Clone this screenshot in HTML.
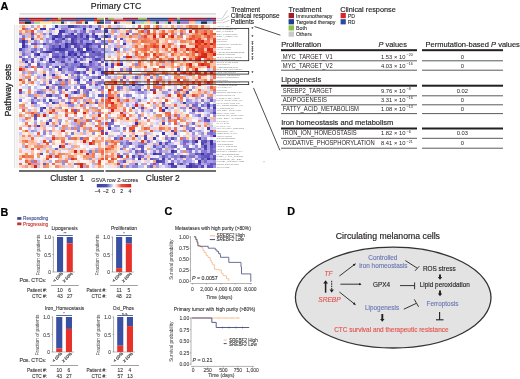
<!DOCTYPE html>
<html><head><meta charset="utf-8"><title>Figure</title>
<style>
html,body{margin:0;padding:0;background:#fff;}
body{width:520px;height:379px;overflow:hidden;}
svg{display:block;font-family:'Liberation Sans',Arial,Helvetica,sans-serif}
</style></head><body>
<svg width="520" height="379" viewBox="0 0 520 379">
<rect width="520" height="379" fill="#fff"/>
<text x="0.5" y="9.5" font-size="11.0" fill="#000" font-weight="bold" stroke="#000" stroke-width="0.22">A</text>
<text x="90.8" y="9.2" font-size="8.75" fill="#222" stroke="#222" stroke-width="0.175">Primary CTC</text>
<text transform="translate(10.7,116.5) rotate(-90)" font-size="8.8" fill="#222" stroke="#222" stroke-width="0.26">Pathway sets</text>
<rect x="19.5" y="13.3" width="196.5" height="1.2" fill="#cecece"/>
<rect x="19" y="15.6" width="197" height="2" fill="#f4f1ee"/>
<rect x="14.2" y="25" width="1" height="143" fill="#dcdcdc"/>
<rect x="16.2" y="25" width="2.2" height="143" fill="#eeeeee"/>
<g><rect x="19" y="17.8" width="6.05" height="1.8" fill="#a51c2a"/>
<rect x="25" y="17.8" width="3.05" height="1.8" fill="#243f86"/>
<rect x="28" y="17.8" width="3.05" height="1.8" fill="#a51c2a"/>
<rect x="31" y="17.8" width="9.05" height="1.8" fill="#a51c2a"/>
<rect x="40" y="17.8" width="6.05" height="1.8" fill="#a51c2a"/>
<rect x="46" y="17.8" width="6.05" height="1.8" fill="#243f86"/>
<rect x="52" y="17.8" width="6.05" height="1.8" fill="#a51c2a"/>
<rect x="58" y="17.8" width="3.05" height="1.8" fill="#9cc24e"/>
<rect x="61" y="17.8" width="9.05" height="1.8" fill="#a51c2a"/>
<rect x="70" y="17.8" width="6.05" height="1.8" fill="#a51c2a"/>
<rect x="76" y="17.8" width="9.05" height="1.8" fill="#243f86"/>
<rect x="85" y="17.8" width="9.05" height="1.8" fill="#243f86"/>
<rect x="94" y="17.8" width="3.05" height="1.8" fill="#a51c2a"/>
<rect x="97" y="17.8" width="7.05" height="1.8" fill="#9cc24e"/>
<rect x="105" y="17.8" width="3.05" height="1.8" fill="#a51c2a"/>
<rect x="108" y="17.8" width="6.05" height="1.8" fill="#9cc24e"/>
<rect x="114" y="17.8" width="9.05" height="1.8" fill="#c8c8c8"/>
<rect x="123" y="17.8" width="9.05" height="1.8" fill="#a51c2a"/>
<rect x="132" y="17.8" width="6.05" height="1.8" fill="#a51c2a"/>
<rect x="138" y="17.8" width="9.05" height="1.8" fill="#9cc24e"/>
<rect x="147" y="17.8" width="6.05" height="1.8" fill="#243f86"/>
<rect x="153" y="17.8" width="6.05" height="1.8" fill="#243f86"/>
<rect x="159" y="17.8" width="9.05" height="1.8" fill="#243f86"/>
<rect x="168" y="17.8" width="9.05" height="1.8" fill="#a51c2a"/>
<rect x="177" y="17.8" width="3.05" height="1.8" fill="#9cc24e"/>
<rect x="180" y="17.8" width="6.05" height="1.8" fill="#a51c2a"/>
<rect x="186" y="17.8" width="9.05" height="1.8" fill="#a51c2a"/>
<rect x="195" y="17.8" width="3.05" height="1.8" fill="#a51c2a"/>
<rect x="198" y="17.8" width="9.05" height="1.8" fill="#a51c2a"/>
<rect x="207" y="17.8" width="3.05" height="1.8" fill="#243f86"/>
<rect x="210" y="17.8" width="6.05" height="1.8" fill="#a51c2a"/>
<rect x="19" y="19.6" width="6.05" height="1.9" fill="#3d4ba0"/>
<rect x="25" y="19.6" width="3.05" height="1.9" fill="#3d4ba0"/>
<rect x="28" y="19.6" width="3.05" height="1.9" fill="#3d4ba0"/>
<rect x="31" y="19.6" width="3.05" height="1.9" fill="#d8262c"/>
<rect x="34" y="19.6" width="6.05" height="1.9" fill="#d8262c"/>
<rect x="40" y="19.6" width="3.05" height="1.9" fill="#d8262c"/>
<rect x="43" y="19.6" width="6.05" height="1.9" fill="#3d4ba0"/>
<rect x="49" y="19.6" width="3.05" height="1.9" fill="#d8262c"/>
<rect x="52" y="19.6" width="3.05" height="1.9" fill="#d8262c"/>
<rect x="55" y="19.6" width="3.05" height="1.9" fill="#d8262c"/>
<rect x="58" y="19.6" width="3.05" height="1.9" fill="#d8262c"/>
<rect x="61" y="19.6" width="6.05" height="1.9" fill="#3d4ba0"/>
<rect x="67" y="19.6" width="3.05" height="1.9" fill="#3d4ba0"/>
<rect x="70" y="19.6" width="6.05" height="1.9" fill="#3d4ba0"/>
<rect x="76" y="19.6" width="3.05" height="1.9" fill="#3d4ba0"/>
<rect x="79" y="19.6" width="6.05" height="1.9" fill="#d8262c"/>
<rect x="85" y="19.6" width="3.05" height="1.9" fill="#3d4ba0"/>
<rect x="88" y="19.6" width="6.05" height="1.9" fill="#3d4ba0"/>
<rect x="94" y="19.6" width="6.05" height="1.9" fill="#d8262c"/>
<rect x="100" y="19.6" width="4.05" height="1.9" fill="#3d4ba0"/>
<rect x="105" y="19.6" width="6.05" height="1.9" fill="#3d4ba0"/>
<rect x="111" y="19.6" width="6.05" height="1.9" fill="#d8262c"/>
<rect x="117" y="19.6" width="3.05" height="1.9" fill="#d8262c"/>
<rect x="120" y="19.6" width="3.05" height="1.9" fill="#d8262c"/>
<rect x="123" y="19.6" width="3.05" height="1.9" fill="#d8262c"/>
<rect x="126" y="19.6" width="3.05" height="1.9" fill="#3d4ba0"/>
<rect x="129" y="19.6" width="3.05" height="1.9" fill="#3d4ba0"/>
<rect x="132" y="19.6" width="3.05" height="1.9" fill="#3d4ba0"/>
<rect x="135" y="19.6" width="3.05" height="1.9" fill="#3d4ba0"/>
<rect x="138" y="19.6" width="6.05" height="1.9" fill="#3d4ba0"/>
<rect x="144" y="19.6" width="3.05" height="1.9" fill="#3d4ba0"/>
<rect x="147" y="19.6" width="3.05" height="1.9" fill="#d8262c"/>
<rect x="150" y="19.6" width="3.05" height="1.9" fill="#3d4ba0"/>
<rect x="153" y="19.6" width="6.05" height="1.9" fill="#3d4ba0"/>
<rect x="159" y="19.6" width="3.05" height="1.9" fill="#3d4ba0"/>
<rect x="162" y="19.6" width="6.05" height="1.9" fill="#3d4ba0"/>
<rect x="168" y="19.6" width="6.05" height="1.9" fill="#d8262c"/>
<rect x="174" y="19.6" width="3.05" height="1.9" fill="#3d4ba0"/>
<rect x="177" y="19.6" width="6.05" height="1.9" fill="#3d4ba0"/>
<rect x="183" y="19.6" width="6.05" height="1.9" fill="#3d4ba0"/>
<rect x="189" y="19.6" width="6.05" height="1.9" fill="#d8262c"/>
<rect x="195" y="19.6" width="3.05" height="1.9" fill="#3d4ba0"/>
<rect x="198" y="19.6" width="6.05" height="1.9" fill="#3d4ba0"/>
<rect x="204" y="19.6" width="3.05" height="1.9" fill="#3d4ba0"/>
<rect x="207" y="19.6" width="6.05" height="1.9" fill="#3d4ba0"/>
<rect x="213" y="19.6" width="3.05" height="1.9" fill="#3d4ba0"/>
<rect x="19" y="21.5" width="6.05" height="2.4" fill="#c86060"/>
<rect x="25" y="21.5" width="3.05" height="2.4" fill="#3a2020"/>
<rect x="28" y="21.5" width="3.05" height="2.4" fill="#203050"/>
<rect x="31" y="21.5" width="3.05" height="2.4" fill="#9a80c0"/>
<rect x="34" y="21.5" width="6.05" height="2.4" fill="#a0d890"/>
<rect x="40" y="21.5" width="6.05" height="2.4" fill="#fee8a0"/>
<rect x="46" y="21.5" width="6.05" height="2.4" fill="#fee8a0"/>
<rect x="52" y="21.5" width="3.05" height="2.4" fill="#a6cee3"/>
<rect x="55" y="21.5" width="6.05" height="2.4" fill="#c7e9a0"/>
<rect x="61" y="21.5" width="3.05" height="2.4" fill="#2a4a4a"/>
<rect x="64" y="21.5" width="3.05" height="2.4" fill="#f7c4b0"/>
<rect x="67" y="21.5" width="3.05" height="2.4" fill="#ffffff"/>
<rect x="70" y="21.5" width="6.05" height="2.4" fill="#fdd0a0"/>
<rect x="76" y="21.5" width="6.05" height="2.4" fill="#c86060"/>
<rect x="82" y="21.5" width="3.05" height="2.4" fill="#c7e9a0"/>
<rect x="85" y="21.5" width="3.05" height="2.4" fill="#203050"/>
<rect x="88" y="21.5" width="6.05" height="2.4" fill="#ffffff"/>
<rect x="94" y="21.5" width="3.05" height="2.4" fill="#fdd0a0"/>
<rect x="97" y="21.5" width="3.05" height="2.4" fill="#5a3a20"/>
<rect x="100" y="21.5" width="4.05" height="2.4" fill="#2a4a4a"/>
<rect x="105" y="21.5" width="6.05" height="2.4" fill="#9a80c0"/>
<rect x="111" y="21.5" width="3.05" height="2.4" fill="#ffffff"/>
<rect x="114" y="21.5" width="3.05" height="2.4" fill="#3a2020"/>
<rect x="117" y="21.5" width="3.05" height="2.4" fill="#9a80c0"/>
<rect x="120" y="21.5" width="6.05" height="2.4" fill="#e0e0e0"/>
<rect x="126" y="21.5" width="6.05" height="2.4" fill="#fdd0a0"/>
<rect x="132" y="21.5" width="3.05" height="2.4" fill="#203050"/>
<rect x="135" y="21.5" width="6.05" height="2.4" fill="#a6cee3"/>
<rect x="141" y="21.5" width="3.05" height="2.4" fill="#a0d890"/>
<rect x="144" y="21.5" width="3.05" height="2.4" fill="#c7e9a0"/>
<rect x="147" y="21.5" width="3.05" height="2.4" fill="#fdd0a0"/>
<rect x="150" y="21.5" width="3.05" height="2.4" fill="#d5c3e6"/>
<rect x="153" y="21.5" width="3.05" height="2.4" fill="#a0d890"/>
<rect x="156" y="21.5" width="3.05" height="2.4" fill="#2a4a4a"/>
<rect x="159" y="21.5" width="6.05" height="2.4" fill="#d5c3e6"/>
<rect x="165" y="21.5" width="3.05" height="2.4" fill="#a0d890"/>
<rect x="168" y="21.5" width="3.05" height="2.4" fill="#203050"/>
<rect x="171" y="21.5" width="6.05" height="2.4" fill="#d5c3e6"/>
<rect x="177" y="21.5" width="3.05" height="2.4" fill="#2a4a4a"/>
<rect x="180" y="21.5" width="6.05" height="2.4" fill="#9a80c0"/>
<rect x="186" y="21.5" width="3.05" height="2.4" fill="#9a80c0"/>
<rect x="189" y="21.5" width="3.05" height="2.4" fill="#f7c4b0"/>
<rect x="192" y="21.5" width="3.05" height="2.4" fill="#fdd0a0"/>
<rect x="195" y="21.5" width="6.05" height="2.4" fill="#a6cee3"/>
<rect x="201" y="21.5" width="6.05" height="2.4" fill="#203050"/>
<rect x="207" y="21.5" width="3.05" height="2.4" fill="#a6cee3"/>
<rect x="210" y="21.5" width="3.05" height="2.4" fill="#b8d8ea"/>
<rect x="213" y="21.5" width="3.05" height="2.4" fill="#c86060"/></g>
<defs><filter id="bl" x="-2%" y="-2%" width="104%" height="104%"><feGaussianBlur stdDeviation="0.7"/></filter></defs>
<g filter="url(#bl)"><g shape-rendering="crispEdges"><path fill="#fcd8cc" d="M19 25h3.09v2.6h-3.09zM25.07 25h3.09v2.6h-3.09zM105 25h3.05v2.6h-3.05zM165 25h3.05v2.6h-3.05zM150 27.55h3.05v2.6h-3.05zM159 27.55h3.05v2.6h-3.05zM171 27.55h3.05v2.6h-3.05zM46.32 30.11h3.09v2.6h-3.09zM85.79 30.11h3.09v2.6h-3.09zM165 30.11h3.05v2.6h-3.05zM37.21 37.77h3.09v2.6h-3.09zM174 42.88h3.05v2.6h-3.05zM183 42.88h3.05v2.6h-3.05zM171 45.43h3.05v2.6h-3.05zM189 45.43h3.05v2.6h-3.05zM150 47.98h3.05v2.6h-3.05zM111 58.2h3.05v2.6h-3.05zM135 58.2h3.05v2.6h-3.05zM34.18 60.75h3.09v2.6h-3.09zM180 60.75h3.05v2.6h-3.05zM186 60.75h3.05v2.6h-3.05zM100.96 63.3h3.09v2.6h-3.09zM132 65.86h3.05v2.6h-3.05zM150 65.86h3.05v2.6h-3.05zM165 65.86h3.05v2.6h-3.05zM162 68.41h3.05v2.6h-3.05zM40.25 70.96h3.09v2.6h-3.09zM19 76.07h3.09v2.6h-3.09zM126 76.07h3.05v2.6h-3.05zM129 76.07h3.05v2.6h-3.05zM195 76.07h3.05v2.6h-3.05zM40.25 78.62h3.09v2.6h-3.09zM46.32 78.62h3.09v2.6h-3.09zM213 78.62h3.05v2.6h-3.05zM19 81.18h3.09v2.6h-3.09zM46.32 81.18h3.09v2.6h-3.09zM73.64 81.18h3.09v2.6h-3.09zM159 81.18h3.05v2.6h-3.05zM31.14 83.73h3.09v2.6h-3.09zM177 83.73h3.05v2.6h-3.05zM201 83.73h3.05v2.6h-3.05zM114 86.29h3.05v2.6h-3.05zM94.89 88.84h3.09v2.6h-3.09zM123 88.84h3.05v2.6h-3.05zM171 88.84h3.05v2.6h-3.05zM111 91.39h3.05v2.6h-3.05zM210 91.39h3.05v2.6h-3.05zM64.54 96.5h3.09v2.6h-3.09zM82.75 96.5h3.09v2.6h-3.09zM120 96.5h3.05v2.6h-3.05zM159 96.5h3.05v2.6h-3.05zM58.46 99.05h3.09v2.6h-3.09zM70.61 99.05h3.09v2.6h-3.09zM97.93 99.05h3.09v2.6h-3.09zM111 99.05h3.05v2.6h-3.05zM85.79 104.16h3.09v2.6h-3.09zM159 104.16h3.05v2.6h-3.05zM180 104.16h3.05v2.6h-3.05zM73.64 106.71h3.09v2.6h-3.09zM25.07 109.27h3.09v2.6h-3.09zM58.46 109.27h3.09v2.6h-3.09zM132 109.27h3.05v2.6h-3.05zM177 111.82h3.05v2.6h-3.05zM198 111.82h3.05v2.6h-3.05zM147 114.38h3.05v2.6h-3.05zM141 119.48h3.05v2.6h-3.05zM189 119.48h3.05v2.6h-3.05zM120 122.04h3.05v2.6h-3.05zM147 124.59h3.05v2.6h-3.05zM162 124.59h3.05v2.6h-3.05zM165 124.59h3.05v2.6h-3.05zM40.25 127.14h3.09v2.6h-3.09zM79.71 127.14h3.09v2.6h-3.09zM156 127.14h3.05v2.6h-3.05zM85.79 132.25h3.09v2.6h-3.09zM129 132.25h3.05v2.6h-3.05zM31.14 134.8h3.09v2.6h-3.09zM88.82 134.8h3.09v2.6h-3.09zM150 134.8h3.05v2.6h-3.05zM64.54 137.36h3.09v2.6h-3.09zM135 137.36h3.05v2.6h-3.05zM34.18 139.91h3.09v2.6h-3.09zM132 139.91h3.05v2.6h-3.05zM43.29 142.46h3.09v2.6h-3.09zM73.64 142.46h3.09v2.6h-3.09zM150 142.46h3.05v2.6h-3.05zM28.11 147.57h3.09v2.6h-3.09zM55.43 152.68h3.09v2.6h-3.09zM114 152.68h3.05v2.6h-3.05zM180 152.68h3.05v2.6h-3.05zM186 152.68h3.05v2.6h-3.05zM120 157.79h3.05v2.6h-3.05zM88.82 160.34h3.09v2.6h-3.09zM126 160.34h3.05v2.6h-3.05zM144 160.34h3.05v2.6h-3.05zM19 165.45h3.09v2.6h-3.09zM28.11 165.45h3.09v2.6h-3.09zM94.89 165.45h3.09v2.6h-3.09zM114 165.45h3.05v2.6h-3.05z"/>
<path fill="#f09c6c" d="M22.04 25h3.09v2.6h-3.09zM147 27.55h3.05v2.6h-3.05zM189 40.32h3.05v2.6h-3.05zM156 42.88h3.05v2.6h-3.05zM150 63.3h3.05v2.6h-3.05zM171 65.86h3.05v2.6h-3.05zM186 73.52h3.05v2.6h-3.05zM22.04 78.62h3.09v2.6h-3.09zM114 78.62h3.05v2.6h-3.05zM183 91.39h3.05v2.6h-3.05zM88.82 101.61h3.09v2.6h-3.09zM85.79 155.23h3.09v2.6h-3.09zM111 160.34h3.05v2.6h-3.05zM46.32 165.45h3.09v2.6h-3.09zM123 165.45h3.05v2.6h-3.05z"/>
<path fill="#fce4d8" d="M28.11 25h3.09v2.6h-3.09zM123 25h3.05v2.6h-3.05zM162 25h3.05v2.6h-3.05zM37.21 27.55h3.09v2.6h-3.09zM135 30.11h3.05v2.6h-3.05zM37.21 32.66h3.09v2.6h-3.09zM100.96 32.66h3.09v2.6h-3.09zM168 32.66h3.05v2.6h-3.05zM126 37.77h3.05v2.6h-3.05zM129 42.88h3.05v2.6h-3.05zM186 42.88h3.05v2.6h-3.05zM105 45.43h3.05v2.6h-3.05zM186 45.43h3.05v2.6h-3.05zM168 47.98h3.05v2.6h-3.05zM129 50.54h3.05v2.6h-3.05zM138 50.54h3.05v2.6h-3.05zM147 50.54h3.05v2.6h-3.05zM141 53.09h3.05v2.6h-3.05zM31.14 55.64h3.09v2.6h-3.09zM49.36 55.64h3.09v2.6h-3.09zM19 58.2h3.09v2.6h-3.09zM85.79 58.2h3.09v2.6h-3.09zM174 58.2h3.05v2.6h-3.05zM153 60.75h3.05v2.6h-3.05zM189 60.75h3.05v2.6h-3.05zM126 63.3h3.05v2.6h-3.05zM159 68.41h3.05v2.6h-3.05zM198 68.41h3.05v2.6h-3.05zM58.46 70.96h3.09v2.6h-3.09zM85.79 70.96h3.09v2.6h-3.09zM25.07 73.52h3.09v2.6h-3.09zM162 73.52h3.05v2.6h-3.05zM189 76.07h3.05v2.6h-3.05zM52.39 78.62h3.09v2.6h-3.09zM55.43 78.62h3.09v2.6h-3.09zM123 78.62h3.05v2.6h-3.05zM207 78.62h3.05v2.6h-3.05zM25.07 81.18h3.09v2.6h-3.09zM165 81.18h3.05v2.6h-3.05zM55.43 86.29h3.09v2.6h-3.09zM85.79 86.29h3.09v2.6h-3.09zM198 86.29h3.05v2.6h-3.05zM204 86.29h3.05v2.6h-3.05zM61.5 88.84h3.09v2.6h-3.09zM73.64 88.84h3.09v2.6h-3.09zM195 88.84h3.05v2.6h-3.05zM25.07 91.39h3.09v2.6h-3.09zM79.71 91.39h3.09v2.6h-3.09zM123 91.39h3.05v2.6h-3.05zM156 91.39h3.05v2.6h-3.05zM171 93.95h3.05v2.6h-3.05zM37.21 96.5h3.09v2.6h-3.09zM192 96.5h3.05v2.6h-3.05zM204 96.5h3.05v2.6h-3.05zM79.71 99.05h3.09v2.6h-3.09zM156 99.05h3.05v2.6h-3.05zM198 99.05h3.05v2.6h-3.05zM58.46 101.61h3.09v2.6h-3.09zM138 101.61h3.05v2.6h-3.05zM135 114.38h3.05v2.6h-3.05zM88.82 116.93h3.09v2.6h-3.09zM31.14 122.04h3.09v2.6h-3.09zM49.36 122.04h3.09v2.6h-3.09zM180 122.04h3.05v2.6h-3.05zM19 124.59h3.09v2.6h-3.09zM85.79 124.59h3.09v2.6h-3.09zM91.86 127.14h3.09v2.6h-3.09zM73.64 129.7h3.09v2.6h-3.09zM147 129.7h3.05v2.6h-3.05zM22.04 132.25h3.09v2.6h-3.09zM55.43 132.25h3.09v2.6h-3.09zM88.82 132.25h3.09v2.6h-3.09zM97.93 132.25h3.09v2.6h-3.09zM108 132.25h3.05v2.6h-3.05zM111 132.25h3.05v2.6h-3.05zM189 132.25h3.05v2.6h-3.05zM204 132.25h3.05v2.6h-3.05zM73.64 134.8h3.09v2.6h-3.09zM76.68 134.8h3.09v2.6h-3.09zM91.86 134.8h3.09v2.6h-3.09zM153 134.8h3.05v2.6h-3.05zM168 134.8h3.05v2.6h-3.05zM186 134.8h3.05v2.6h-3.05zM34.18 137.36h3.09v2.6h-3.09zM91.86 137.36h3.09v2.6h-3.09zM97.93 137.36h3.09v2.6h-3.09zM105 137.36h3.05v2.6h-3.05zM129 139.91h3.05v2.6h-3.05zM138 139.91h3.05v2.6h-3.05zM58.46 142.46h3.09v2.6h-3.09zM94.89 142.46h3.09v2.6h-3.09zM31.14 145.02h3.09v2.6h-3.09zM100.96 145.02h3.09v2.6h-3.09zM117 145.02h3.05v2.6h-3.05zM147 145.02h3.05v2.6h-3.05zM73.64 147.57h3.09v2.6h-3.09zM79.71 147.57h3.09v2.6h-3.09zM117 147.57h3.05v2.6h-3.05zM25.07 150.12h3.09v2.6h-3.09zM46.32 152.68h3.09v2.6h-3.09zM97.93 152.68h3.09v2.6h-3.09zM120 152.68h3.05v2.6h-3.05zM162 152.68h3.05v2.6h-3.05zM49.36 157.79h3.09v2.6h-3.09zM105 160.34h3.05v2.6h-3.05zM85.79 162.89h3.09v2.6h-3.09zM123 162.89h3.05v2.6h-3.05zM126 162.89h3.05v2.6h-3.05zM111 165.45h3.05v2.6h-3.05z"/>
<path fill="#b4a8e4" d="M31.14 25h3.09v2.6h-3.09zM85.79 25h3.09v2.6h-3.09zM67.57 30.11h3.09v2.6h-3.09zM64.54 32.66h3.09v2.6h-3.09zM108 32.66h3.05v2.6h-3.05zM174 32.66h3.05v2.6h-3.05zM138 35.21h3.05v2.6h-3.05zM61.5 40.32h3.09v2.6h-3.09zM46.32 45.43h3.09v2.6h-3.09zM114 45.43h3.05v2.6h-3.05zM120 45.43h3.05v2.6h-3.05zM25.07 47.98h3.09v2.6h-3.09zM28.11 53.09h3.09v2.6h-3.09zM64.54 53.09h3.09v2.6h-3.09zM43.29 58.2h3.09v2.6h-3.09zM64.54 58.2h3.09v2.6h-3.09zM105 60.75h3.05v2.6h-3.05zM120 60.75h3.05v2.6h-3.05zM64.54 68.41h3.09v2.6h-3.09zM49.36 70.96h3.09v2.6h-3.09zM67.57 70.96h3.09v2.6h-3.09zM123 73.52h3.05v2.6h-3.05zM43.29 76.07h3.09v2.6h-3.09zM132 76.07h3.05v2.6h-3.05zM138 76.07h3.05v2.6h-3.05zM82.75 78.62h3.09v2.6h-3.09zM126 78.62h3.05v2.6h-3.05zM43.29 81.18h3.09v2.6h-3.09zM73.64 83.73h3.09v2.6h-3.09zM135 83.73h3.05v2.6h-3.05zM64.54 86.29h3.09v2.6h-3.09zM67.57 86.29h3.09v2.6h-3.09zM144 91.39h3.05v2.6h-3.05zM52.39 93.95h3.09v2.6h-3.09zM58.46 93.95h3.09v2.6h-3.09zM88.82 96.5h3.09v2.6h-3.09zM91.86 96.5h3.09v2.6h-3.09zM105 96.5h3.05v2.6h-3.05zM195 96.5h3.05v2.6h-3.05zM67.57 99.05h3.09v2.6h-3.09zM189 99.05h3.05v2.6h-3.05zM76.68 101.61h3.09v2.6h-3.09zM100.96 101.61h3.09v2.6h-3.09zM186 101.61h3.05v2.6h-3.05zM192 101.61h3.05v2.6h-3.05zM22.04 106.71h3.09v2.6h-3.09zM153 106.71h3.05v2.6h-3.05zM195 109.27h3.05v2.6h-3.05zM207 109.27h3.05v2.6h-3.05zM210 109.27h3.05v2.6h-3.05zM91.86 111.82h3.09v2.6h-3.09zM153 111.82h3.05v2.6h-3.05zM189 111.82h3.05v2.6h-3.05zM108 116.93h3.05v2.6h-3.05zM73.64 122.04h3.09v2.6h-3.09zM168 122.04h3.05v2.6h-3.05zM207 122.04h3.05v2.6h-3.05zM64.54 127.14h3.09v2.6h-3.09zM85.79 127.14h3.09v2.6h-3.09zM82.75 129.7h3.09v2.6h-3.09zM114 129.7h3.05v2.6h-3.05zM159 129.7h3.05v2.6h-3.05zM180 129.7h3.05v2.6h-3.05zM117 134.8h3.05v2.6h-3.05zM129 134.8h3.05v2.6h-3.05zM192 134.8h3.05v2.6h-3.05zM201 134.8h3.05v2.6h-3.05zM37.21 142.46h3.09v2.6h-3.09zM153 142.46h3.05v2.6h-3.05zM168 142.46h3.05v2.6h-3.05zM126 145.02h3.05v2.6h-3.05zM135 145.02h3.05v2.6h-3.05zM94.89 147.57h3.09v2.6h-3.09zM201 147.57h3.05v2.6h-3.05zM144 150.12h3.05v2.6h-3.05zM165 150.12h3.05v2.6h-3.05zM180 150.12h3.05v2.6h-3.05zM207 150.12h3.05v2.6h-3.05zM49.36 152.68h3.09v2.6h-3.09zM88.82 152.68h3.09v2.6h-3.09zM150 152.68h3.05v2.6h-3.05zM159 155.23h3.05v2.6h-3.05zM180 157.79h3.05v2.6h-3.05zM117 160.34h3.05v2.6h-3.05zM129 162.89h3.05v2.6h-3.05zM132 162.89h3.05v2.6h-3.05zM141 162.89h3.05v2.6h-3.05zM144 162.89h3.05v2.6h-3.05zM201 162.89h3.05v2.6h-3.05zM82.75 165.45h3.09v2.6h-3.09z"/>
<path fill="#e4e4fc" d="M34.18 25h3.09v2.6h-3.09zM55.43 27.55h3.09v2.6h-3.09zM85.79 27.55h3.09v2.6h-3.09zM177 27.55h3.05v2.6h-3.05zM156 30.11h3.05v2.6h-3.05zM52.39 32.66h3.09v2.6h-3.09zM88.82 32.66h3.09v2.6h-3.09zM34.18 35.21h3.09v2.6h-3.09zM46.32 35.21h3.09v2.6h-3.09zM111 35.21h3.05v2.6h-3.05zM108 42.88h3.05v2.6h-3.05zM31.14 45.43h3.09v2.6h-3.09zM177 45.43h3.05v2.6h-3.05zM43.29 47.98h3.09v2.6h-3.09zM105 53.09h3.05v2.6h-3.05zM111 53.09h3.05v2.6h-3.05zM28.11 60.75h3.09v2.6h-3.09zM79.71 60.75h3.09v2.6h-3.09zM82.75 60.75h3.09v2.6h-3.09zM79.71 68.41h3.09v2.6h-3.09zM135 68.41h3.05v2.6h-3.05zM94.89 70.96h3.09v2.6h-3.09zM108 73.52h3.05v2.6h-3.05zM129 73.52h3.05v2.6h-3.05zM141 76.07h3.05v2.6h-3.05zM132 78.62h3.05v2.6h-3.05zM141 78.62h3.05v2.6h-3.05zM34.18 81.18h3.09v2.6h-3.09zM144 83.73h3.05v2.6h-3.05zM88.82 86.29h3.09v2.6h-3.09zM180 86.29h3.05v2.6h-3.05zM88.82 91.39h3.09v2.6h-3.09zM105 91.39h3.05v2.6h-3.05zM156 93.95h3.05v2.6h-3.05zM159 93.95h3.05v2.6h-3.05zM213 93.95h3.05v2.6h-3.05zM49.36 96.5h3.09v2.6h-3.09zM55.43 96.5h3.09v2.6h-3.09zM168 96.5h3.05v2.6h-3.05zM174 99.05h3.05v2.6h-3.05zM150 101.61h3.05v2.6h-3.05zM52.39 104.16h3.09v2.6h-3.09zM91.86 104.16h3.09v2.6h-3.09zM129 104.16h3.05v2.6h-3.05zM198 104.16h3.05v2.6h-3.05zM37.21 106.71h3.09v2.6h-3.09zM165 109.27h3.05v2.6h-3.05zM204 111.82h3.05v2.6h-3.05zM52.39 114.38h3.09v2.6h-3.09zM132 116.93h3.05v2.6h-3.05zM192 116.93h3.05v2.6h-3.05zM19 119.48h3.09v2.6h-3.09zM156 119.48h3.05v2.6h-3.05zM186 119.48h3.05v2.6h-3.05zM123 122.04h3.05v2.6h-3.05zM126 122.04h3.05v2.6h-3.05zM153 122.04h3.05v2.6h-3.05zM201 122.04h3.05v2.6h-3.05zM91.86 124.59h3.09v2.6h-3.09zM201 124.59h3.05v2.6h-3.05zM94.89 127.14h3.09v2.6h-3.09zM171 127.14h3.05v2.6h-3.05zM177 127.14h3.05v2.6h-3.05zM120 129.7h3.05v2.6h-3.05zM162 129.7h3.05v2.6h-3.05zM55.43 134.8h3.09v2.6h-3.09zM85.79 134.8h3.09v2.6h-3.09zM174 134.8h3.05v2.6h-3.05zM156 137.36h3.05v2.6h-3.05zM210 137.36h3.05v2.6h-3.05zM85.79 145.02h3.09v2.6h-3.09zM132 145.02h3.05v2.6h-3.05zM144 145.02h3.05v2.6h-3.05zM76.68 147.57h3.09v2.6h-3.09zM162 147.57h3.05v2.6h-3.05zM43.29 150.12h3.09v2.6h-3.09zM120 150.12h3.05v2.6h-3.05zM132 150.12h3.05v2.6h-3.05zM192 150.12h3.05v2.6h-3.05zM61.5 155.23h3.09v2.6h-3.09zM94.89 155.23h3.09v2.6h-3.09zM129 155.23h3.05v2.6h-3.05zM150 155.23h3.05v2.6h-3.05zM37.21 157.79h3.09v2.6h-3.09zM40.25 160.34h3.09v2.6h-3.09zM94.89 160.34h3.09v2.6h-3.09zM55.43 162.89h3.09v2.6h-3.09zM108 165.45h3.05v2.6h-3.05zM162 165.45h3.05v2.6h-3.05z"/>
<path fill="#fca890" d="M37.21 25h3.09v2.6h-3.09zM183 30.11h3.05v2.6h-3.05zM165 37.77h3.05v2.6h-3.05zM165 42.88h3.05v2.6h-3.05zM174 45.43h3.05v2.6h-3.05zM183 47.98h3.05v2.6h-3.05zM126 53.09h3.05v2.6h-3.05zM117 60.75h3.05v2.6h-3.05zM114 63.3h3.05v2.6h-3.05zM22.04 73.52h3.09v2.6h-3.09zM171 81.18h3.05v2.6h-3.05zM174 83.73h3.05v2.6h-3.05zM85.79 99.05h3.09v2.6h-3.09zM120 104.16h3.05v2.6h-3.05zM156 104.16h3.05v2.6h-3.05zM52.39 116.93h3.09v2.6h-3.09zM111 116.93h3.05v2.6h-3.05zM43.29 127.14h3.09v2.6h-3.09zM132 132.25h3.05v2.6h-3.05zM58.46 137.36h3.09v2.6h-3.09zM100.96 139.91h3.09v2.6h-3.09zM43.29 145.02h3.09v2.6h-3.09zM100.96 155.23h3.09v2.6h-3.09zM108 155.23h3.05v2.6h-3.05zM67.57 162.89h3.09v2.6h-3.09zM31.14 165.45h3.09v2.6h-3.09z"/>
<path fill="#fcfcf0" d="M40.25 25h3.09v2.6h-3.09zM126 25h3.05v2.6h-3.05zM46.32 27.55h3.09v2.6h-3.09zM100.96 27.55h3.09v2.6h-3.09zM129 32.66h3.05v2.6h-3.05zM40.25 40.32h3.09v2.6h-3.09zM120 40.32h3.05v2.6h-3.05zM108 58.2h3.05v2.6h-3.05zM132 68.41h3.05v2.6h-3.05zM159 73.52h3.05v2.6h-3.05zM25.07 78.62h3.09v2.6h-3.09zM31.14 78.62h3.09v2.6h-3.09zM129 78.62h3.05v2.6h-3.05zM150 78.62h3.05v2.6h-3.05zM91.86 88.84h3.09v2.6h-3.09zM141 93.95h3.05v2.6h-3.05zM171 99.05h3.05v2.6h-3.05zM40.25 101.61h3.09v2.6h-3.09zM73.64 101.61h3.09v2.6h-3.09zM94.89 104.16h3.09v2.6h-3.09zM147 104.16h3.05v2.6h-3.05zM61.5 106.71h3.09v2.6h-3.09zM156 109.27h3.05v2.6h-3.05zM49.36 114.38h3.09v2.6h-3.09zM70.61 114.38h3.09v2.6h-3.09zM79.71 114.38h3.09v2.6h-3.09zM43.29 119.48h3.09v2.6h-3.09zM91.86 119.48h3.09v2.6h-3.09zM94.89 122.04h3.09v2.6h-3.09zM213 122.04h3.05v2.6h-3.05zM123 124.59h3.05v2.6h-3.05zM204 129.7h3.05v2.6h-3.05zM153 132.25h3.05v2.6h-3.05zM183 132.25h3.05v2.6h-3.05zM159 134.8h3.05v2.6h-3.05zM88.82 137.36h3.09v2.6h-3.09zM159 137.36h3.05v2.6h-3.05zM162 139.91h3.05v2.6h-3.05zM25.07 142.46h3.09v2.6h-3.09zM126 147.57h3.05v2.6h-3.05zM43.29 152.68h3.09v2.6h-3.09zM195 160.34h3.05v2.6h-3.05z"/>
<path fill="#fcb490" d="M43.29 25h3.09v2.6h-3.09zM159 30.11h3.05v2.6h-3.05zM22.04 32.66h3.09v2.6h-3.09zM111 32.66h3.05v2.6h-3.05zM28.11 35.21h3.09v2.6h-3.09zM123 35.21h3.05v2.6h-3.05zM201 35.21h3.05v2.6h-3.05zM213 35.21h3.05v2.6h-3.05zM150 37.77h3.05v2.6h-3.05zM168 37.77h3.05v2.6h-3.05zM174 37.77h3.05v2.6h-3.05zM138 40.32h3.05v2.6h-3.05zM135 42.88h3.05v2.6h-3.05zM144 42.88h3.05v2.6h-3.05zM165 50.54h3.05v2.6h-3.05zM135 55.64h3.05v2.6h-3.05zM165 58.2h3.05v2.6h-3.05zM141 60.75h3.05v2.6h-3.05zM183 60.75h3.05v2.6h-3.05zM192 60.75h3.05v2.6h-3.05zM165 63.3h3.05v2.6h-3.05zM174 65.86h3.05v2.6h-3.05zM141 70.96h3.05v2.6h-3.05zM177 70.96h3.05v2.6h-3.05zM58.46 76.07h3.09v2.6h-3.09zM117 76.07h3.05v2.6h-3.05zM43.29 78.62h3.09v2.6h-3.09zM117 81.18h3.05v2.6h-3.05zM162 86.29h3.05v2.6h-3.05zM126 88.84h3.05v2.6h-3.05zM61.5 91.39h3.09v2.6h-3.09zM117 101.61h3.05v2.6h-3.05zM58.46 104.16h3.09v2.6h-3.09zM100.96 104.16h3.09v2.6h-3.09zM117 104.16h3.05v2.6h-3.05zM19 106.71h3.09v2.6h-3.09zM25.07 106.71h3.09v2.6h-3.09zM70.61 106.71h3.09v2.6h-3.09zM55.43 116.93h3.09v2.6h-3.09zM159 116.93h3.05v2.6h-3.05zM213 116.93h3.05v2.6h-3.05zM64.54 119.48h3.09v2.6h-3.09zM40.25 124.59h3.09v2.6h-3.09zM141 124.59h3.05v2.6h-3.05zM67.57 127.14h3.09v2.6h-3.09zM22.04 129.7h3.09v2.6h-3.09zM165 129.7h3.05v2.6h-3.05zM64.54 132.25h3.09v2.6h-3.09zM37.21 134.8h3.09v2.6h-3.09zM76.68 137.36h3.09v2.6h-3.09zM94.89 137.36h3.09v2.6h-3.09zM52.39 142.46h3.09v2.6h-3.09zM97.93 145.02h3.09v2.6h-3.09zM105 145.02h3.05v2.6h-3.05zM114 145.02h3.05v2.6h-3.05zM82.75 150.12h3.09v2.6h-3.09zM73.64 152.68h3.09v2.6h-3.09zM138 152.68h3.05v2.6h-3.05zM19 155.23h3.09v2.6h-3.09zM147 155.23h3.05v2.6h-3.05zM25.07 157.79h3.09v2.6h-3.09zM82.75 157.79h3.09v2.6h-3.09zM114 162.89h3.05v2.6h-3.05z"/>
<path fill="#fcfcfc" d="M46.32 25h3.09v2.6h-3.09zM49.36 25h3.09v2.6h-3.09zM129 25h3.05v2.6h-3.05zM150 25h3.05v2.6h-3.05zM210 25h3.05v2.6h-3.05zM70.61 27.55h3.09v2.6h-3.09zM186 30.11h3.05v2.6h-3.05zM213 30.11h3.05v2.6h-3.05zM183 35.21h3.05v2.6h-3.05zM111 37.77h3.05v2.6h-3.05zM168 40.32h3.05v2.6h-3.05zM19 42.88h3.09v2.6h-3.09zM120 42.88h3.05v2.6h-3.05zM141 42.88h3.05v2.6h-3.05zM177 42.88h3.05v2.6h-3.05zM40.25 45.43h3.09v2.6h-3.09zM100.96 45.43h3.09v2.6h-3.09zM82.75 47.98h3.09v2.6h-3.09zM120 47.98h3.05v2.6h-3.05zM123 53.09h3.05v2.6h-3.05zM25.07 55.64h3.09v2.6h-3.09zM114 58.2h3.05v2.6h-3.05zM180 58.2h3.05v2.6h-3.05zM43.29 60.75h3.09v2.6h-3.09zM34.18 63.3h3.09v2.6h-3.09zM174 63.3h3.05v2.6h-3.05zM49.36 65.86h3.09v2.6h-3.09zM114 65.86h3.05v2.6h-3.05zM153 65.86h3.05v2.6h-3.05zM156 65.86h3.05v2.6h-3.05zM31.14 68.41h3.09v2.6h-3.09zM37.21 68.41h3.09v2.6h-3.09zM55.43 68.41h3.09v2.6h-3.09zM168 68.41h3.05v2.6h-3.05zM174 68.41h3.05v2.6h-3.05zM183 68.41h3.05v2.6h-3.05zM204 68.41h3.05v2.6h-3.05zM46.32 70.96h3.09v2.6h-3.09zM132 70.96h3.05v2.6h-3.05zM88.82 73.52h3.09v2.6h-3.09zM195 73.52h3.05v2.6h-3.05zM31.14 76.07h3.09v2.6h-3.09zM64.54 76.07h3.09v2.6h-3.09zM100.96 76.07h3.09v2.6h-3.09zM165 76.07h3.05v2.6h-3.05zM37.21 78.62h3.09v2.6h-3.09zM180 78.62h3.05v2.6h-3.05zM52.39 81.18h3.09v2.6h-3.09zM70.61 81.18h3.09v2.6h-3.09zM82.75 81.18h3.09v2.6h-3.09zM141 81.18h3.05v2.6h-3.05zM150 81.18h3.05v2.6h-3.05zM22.04 83.73h3.09v2.6h-3.09zM28.11 83.73h3.09v2.6h-3.09zM34.18 83.73h3.09v2.6h-3.09zM150 83.73h3.05v2.6h-3.05zM195 83.73h3.05v2.6h-3.05zM213 83.73h3.05v2.6h-3.05zM31.14 86.29h3.09v2.6h-3.09zM43.29 86.29h3.09v2.6h-3.09zM76.68 86.29h3.09v2.6h-3.09zM150 86.29h3.05v2.6h-3.05zM165 86.29h3.05v2.6h-3.05zM177 86.29h3.05v2.6h-3.05zM189 86.29h3.05v2.6h-3.05zM22.04 88.84h3.09v2.6h-3.09zM105 88.84h3.05v2.6h-3.05zM114 88.84h3.05v2.6h-3.05zM156 88.84h3.05v2.6h-3.05zM192 88.84h3.05v2.6h-3.05zM132 91.39h3.05v2.6h-3.05zM171 91.39h3.05v2.6h-3.05zM88.82 93.95h3.09v2.6h-3.09zM120 93.95h3.05v2.6h-3.05zM132 93.95h3.05v2.6h-3.05zM147 93.95h3.05v2.6h-3.05zM150 93.95h3.05v2.6h-3.05zM25.07 96.5h3.09v2.6h-3.09zM28.11 96.5h3.09v2.6h-3.09zM52.39 96.5h3.09v2.6h-3.09zM61.5 96.5h3.09v2.6h-3.09zM94.89 96.5h3.09v2.6h-3.09zM123 96.5h3.05v2.6h-3.05zM22.04 99.05h3.09v2.6h-3.09zM46.32 99.05h3.09v2.6h-3.09zM147 99.05h3.05v2.6h-3.05zM153 99.05h3.05v2.6h-3.05zM162 99.05h3.05v2.6h-3.05zM183 99.05h3.05v2.6h-3.05zM19 101.61h3.09v2.6h-3.09zM28.11 101.61h3.09v2.6h-3.09zM37.21 101.61h3.09v2.6h-3.09zM168 101.61h3.05v2.6h-3.05zM210 101.61h3.05v2.6h-3.05zM43.29 104.16h3.09v2.6h-3.09zM28.11 106.71h3.09v2.6h-3.09zM85.79 106.71h3.09v2.6h-3.09zM126 106.71h3.05v2.6h-3.05zM135 106.71h3.05v2.6h-3.05zM174 106.71h3.05v2.6h-3.05zM19 109.27h3.09v2.6h-3.09zM67.57 109.27h3.09v2.6h-3.09zM79.71 109.27h3.09v2.6h-3.09zM105 109.27h3.05v2.6h-3.05zM126 109.27h3.05v2.6h-3.05zM186 109.27h3.05v2.6h-3.05zM22.04 111.82h3.09v2.6h-3.09zM76.68 111.82h3.09v2.6h-3.09zM129 111.82h3.05v2.6h-3.05zM138 111.82h3.05v2.6h-3.05zM156 111.82h3.05v2.6h-3.05zM159 111.82h3.05v2.6h-3.05zM171 111.82h3.05v2.6h-3.05zM186 111.82h3.05v2.6h-3.05zM76.68 114.38h3.09v2.6h-3.09zM100.96 114.38h3.09v2.6h-3.09zM111 114.38h3.05v2.6h-3.05zM144 114.38h3.05v2.6h-3.05zM162 114.38h3.05v2.6h-3.05zM189 114.38h3.05v2.6h-3.05zM210 114.38h3.05v2.6h-3.05zM37.21 116.93h3.09v2.6h-3.09zM37.21 119.48h3.09v2.6h-3.09zM61.5 119.48h3.09v2.6h-3.09zM192 119.48h3.05v2.6h-3.05zM195 119.48h3.05v2.6h-3.05zM19 122.04h3.09v2.6h-3.09zM28.11 122.04h3.09v2.6h-3.09zM114 122.04h3.05v2.6h-3.05zM117 122.04h3.05v2.6h-3.05zM129 122.04h3.05v2.6h-3.05zM147 122.04h3.05v2.6h-3.05zM165 122.04h3.05v2.6h-3.05zM171 122.04h3.05v2.6h-3.05zM111 124.59h3.05v2.6h-3.05zM120 124.59h3.05v2.6h-3.05zM171 124.59h3.05v2.6h-3.05zM192 124.59h3.05v2.6h-3.05zM22.04 127.14h3.09v2.6h-3.09zM49.36 127.14h3.09v2.6h-3.09zM135 127.14h3.05v2.6h-3.05zM204 127.14h3.05v2.6h-3.05zM19 129.7h3.09v2.6h-3.09zM108 129.7h3.05v2.6h-3.05zM126 129.7h3.05v2.6h-3.05zM135 129.7h3.05v2.6h-3.05zM61.5 132.25h3.09v2.6h-3.09zM94.89 132.25h3.09v2.6h-3.09zM159 132.25h3.05v2.6h-3.05zM180 132.25h3.05v2.6h-3.05zM46.32 134.8h3.09v2.6h-3.09zM82.75 134.8h3.09v2.6h-3.09zM126 134.8h3.05v2.6h-3.05zM162 134.8h3.05v2.6h-3.05zM180 134.8h3.05v2.6h-3.05zM111 137.36h3.05v2.6h-3.05zM207 137.36h3.05v2.6h-3.05zM213 137.36h3.05v2.6h-3.05zM55.43 139.91h3.09v2.6h-3.09zM153 139.91h3.05v2.6h-3.05zM171 139.91h3.05v2.6h-3.05zM49.36 142.46h3.09v2.6h-3.09zM76.68 142.46h3.09v2.6h-3.09zM117 142.46h3.05v2.6h-3.05zM198 142.46h3.05v2.6h-3.05zM52.39 145.02h3.09v2.6h-3.09zM79.71 145.02h3.09v2.6h-3.09zM88.82 145.02h3.09v2.6h-3.09zM129 145.02h3.05v2.6h-3.05zM177 145.02h3.05v2.6h-3.05zM189 145.02h3.05v2.6h-3.05zM85.79 147.57h3.09v2.6h-3.09zM144 147.57h3.05v2.6h-3.05zM183 147.57h3.05v2.6h-3.05zM34.18 150.12h3.09v2.6h-3.09zM147 150.12h3.05v2.6h-3.05zM129 152.68h3.05v2.6h-3.05zM183 152.68h3.05v2.6h-3.05zM34.18 155.23h3.09v2.6h-3.09zM76.68 155.23h3.09v2.6h-3.09zM22.04 157.79h3.09v2.6h-3.09zM52.39 157.79h3.09v2.6h-3.09zM55.43 157.79h3.09v2.6h-3.09zM108 157.79h3.05v2.6h-3.05zM117 157.79h3.05v2.6h-3.05zM135 157.79h3.05v2.6h-3.05zM52.39 160.34h3.09v2.6h-3.09zM79.71 160.34h3.09v2.6h-3.09zM82.75 160.34h3.09v2.6h-3.09zM150 160.34h3.05v2.6h-3.05zM100.96 162.89h3.09v2.6h-3.09zM159 162.89h3.05v2.6h-3.05zM73.64 165.45h3.09v2.6h-3.09z"/>
<path fill="#d8d8f0" d="M52.39 25h3.09v2.6h-3.09zM111 25h3.05v2.6h-3.05zM120 25h3.05v2.6h-3.05zM58.46 27.55h3.09v2.6h-3.09zM88.82 27.55h3.09v2.6h-3.09zM123 27.55h3.05v2.6h-3.05zM162 27.55h3.05v2.6h-3.05zM108 30.11h3.05v2.6h-3.05zM73.64 32.66h3.09v2.6h-3.09zM105 32.66h3.05v2.6h-3.05zM31.14 40.32h3.09v2.6h-3.09zM49.36 40.32h3.09v2.6h-3.09zM111 42.88h3.05v2.6h-3.05zM126 42.88h3.05v2.6h-3.05zM37.21 45.43h3.09v2.6h-3.09zM129 45.43h3.05v2.6h-3.05zM162 50.54h3.05v2.6h-3.05zM114 53.09h3.05v2.6h-3.05zM37.21 55.64h3.09v2.6h-3.09zM46.32 55.64h3.09v2.6h-3.09zM168 55.64h3.05v2.6h-3.05zM120 58.2h3.05v2.6h-3.05zM123 58.2h3.05v2.6h-3.05zM40.25 60.75h3.09v2.6h-3.09zM114 60.75h3.05v2.6h-3.05zM126 60.75h3.05v2.6h-3.05zM135 60.75h3.05v2.6h-3.05zM108 63.3h3.05v2.6h-3.05zM123 65.86h3.05v2.6h-3.05zM180 65.86h3.05v2.6h-3.05zM82.75 68.41h3.09v2.6h-3.09zM138 68.41h3.05v2.6h-3.05zM147 68.41h3.05v2.6h-3.05zM210 68.41h3.05v2.6h-3.05zM91.86 73.52h3.09v2.6h-3.09zM114 73.52h3.05v2.6h-3.05zM168 73.52h3.05v2.6h-3.05zM183 73.52h3.05v2.6h-3.05zM111 76.07h3.05v2.6h-3.05zM186 76.07h3.05v2.6h-3.05zM91.86 78.62h3.09v2.6h-3.09zM126 81.18h3.05v2.6h-3.05zM100.96 83.73h3.09v2.6h-3.09zM22.04 86.29h3.09v2.6h-3.09zM25.07 86.29h3.09v2.6h-3.09zM141 86.29h3.05v2.6h-3.05zM55.43 88.84h3.09v2.6h-3.09zM207 88.84h3.05v2.6h-3.05zM49.36 91.39h3.09v2.6h-3.09zM67.57 91.39h3.09v2.6h-3.09zM147 91.39h3.05v2.6h-3.05zM70.61 93.95h3.09v2.6h-3.09zM76.68 93.95h3.09v2.6h-3.09zM138 93.95h3.05v2.6h-3.05zM19 96.5h3.09v2.6h-3.09zM22.04 96.5h3.09v2.6h-3.09zM129 96.5h3.05v2.6h-3.05zM138 96.5h3.05v2.6h-3.05zM28.11 99.05h3.09v2.6h-3.09zM141 99.05h3.05v2.6h-3.05zM144 99.05h3.05v2.6h-3.05zM123 101.61h3.05v2.6h-3.05zM171 101.61h3.05v2.6h-3.05zM177 101.61h3.05v2.6h-3.05zM177 104.16h3.05v2.6h-3.05zM34.18 106.71h3.09v2.6h-3.09zM52.39 106.71h3.09v2.6h-3.09zM162 106.71h3.05v2.6h-3.05zM204 106.71h3.05v2.6h-3.05zM210 106.71h3.05v2.6h-3.05zM40.25 111.82h3.09v2.6h-3.09zM94.89 111.82h3.09v2.6h-3.09zM28.11 114.38h3.09v2.6h-3.09zM108 114.38h3.05v2.6h-3.05zM22.04 116.93h3.09v2.6h-3.09zM49.36 116.93h3.09v2.6h-3.09zM135 116.93h3.05v2.6h-3.05zM171 116.93h3.05v2.6h-3.05zM174 116.93h3.05v2.6h-3.05zM207 116.93h3.05v2.6h-3.05zM100.96 119.48h3.09v2.6h-3.09zM138 119.48h3.05v2.6h-3.05zM165 119.48h3.05v2.6h-3.05zM132 122.04h3.05v2.6h-3.05zM210 122.04h3.05v2.6h-3.05zM117 127.14h3.05v2.6h-3.05zM213 127.14h3.05v2.6h-3.05zM186 129.7h3.05v2.6h-3.05zM31.14 132.25h3.09v2.6h-3.09zM76.68 132.25h3.09v2.6h-3.09zM150 132.25h3.05v2.6h-3.05zM138 134.8h3.05v2.6h-3.05zM183 134.8h3.05v2.6h-3.05zM123 137.36h3.05v2.6h-3.05zM40.25 139.91h3.09v2.6h-3.09zM177 139.91h3.05v2.6h-3.05zM82.75 142.46h3.09v2.6h-3.09zM85.79 142.46h3.09v2.6h-3.09zM108 142.46h3.05v2.6h-3.05zM195 142.46h3.05v2.6h-3.05zM120 145.02h3.05v2.6h-3.05zM150 145.02h3.05v2.6h-3.05zM192 145.02h3.05v2.6h-3.05zM88.82 147.57h3.09v2.6h-3.09zM49.36 150.12h3.09v2.6h-3.09zM123 150.12h3.05v2.6h-3.05zM156 150.12h3.05v2.6h-3.05zM198 150.12h3.05v2.6h-3.05zM132 152.68h3.05v2.6h-3.05zM147 152.68h3.05v2.6h-3.05zM159 157.79h3.05v2.6h-3.05zM46.32 160.34h3.09v2.6h-3.09zM135 160.34h3.05v2.6h-3.05zM138 160.34h3.05v2.6h-3.05zM147 160.34h3.05v2.6h-3.05zM25.07 162.89h3.09v2.6h-3.09zM70.61 162.89h3.09v2.6h-3.09zM64.54 165.45h3.09v2.6h-3.09zM177 165.45h3.05v2.6h-3.05z"/>
<path fill="#3c30a8" d="M55.43 25h3.09v2.6h-3.09zM43.29 27.55h3.09v2.6h-3.09zM82.75 27.55h3.09v2.6h-3.09zM94.89 27.55h3.09v2.6h-3.09zM58.46 30.11h3.09v2.6h-3.09zM105 30.11h3.05v2.6h-3.05zM70.61 32.66h3.09v2.6h-3.09zM126 32.66h3.05v2.6h-3.05zM55.43 35.21h3.09v2.6h-3.09zM85.79 35.21h3.09v2.6h-3.09zM94.89 35.21h3.09v2.6h-3.09zM105 35.21h3.05v2.6h-3.05zM52.39 37.77h3.09v2.6h-3.09zM22.04 40.32h3.09v2.6h-3.09zM64.54 42.88h3.09v2.6h-3.09zM85.79 42.88h3.09v2.6h-3.09zM123 42.88h3.05v2.6h-3.05zM22.04 45.43h3.09v2.6h-3.09zM58.46 45.43h3.09v2.6h-3.09zM64.54 45.43h3.09v2.6h-3.09zM58.46 47.98h3.09v2.6h-3.09zM85.79 47.98h3.09v2.6h-3.09zM46.32 50.54h3.09v2.6h-3.09zM49.36 50.54h3.09v2.6h-3.09zM82.75 50.54h3.09v2.6h-3.09zM37.21 53.09h3.09v2.6h-3.09zM67.57 53.09h3.09v2.6h-3.09zM73.64 53.09h3.09v2.6h-3.09zM61.5 55.64h3.09v2.6h-3.09zM49.36 58.2h3.09v2.6h-3.09zM25.07 60.75h3.09v2.6h-3.09zM52.39 60.75h3.09v2.6h-3.09zM73.64 60.75h3.09v2.6h-3.09zM88.82 60.75h3.09v2.6h-3.09zM105 63.3h3.05v2.6h-3.05zM120 63.3h3.05v2.6h-3.05zM82.75 65.86h3.09v2.6h-3.09zM100.96 70.96h3.09v2.6h-3.09zM43.29 73.52h3.09v2.6h-3.09zM76.68 78.62h3.09v2.6h-3.09zM94.89 83.73h3.09v2.6h-3.09zM132 83.73h3.05v2.6h-3.05zM43.29 106.71h3.09v2.6h-3.09zM165 106.71h3.05v2.6h-3.05zM162 109.27h3.05v2.6h-3.05zM135 122.04h3.05v2.6h-3.05zM108 127.14h3.05v2.6h-3.05zM162 132.25h3.05v2.6h-3.05zM135 134.8h3.05v2.6h-3.05zM213 134.8h3.05v2.6h-3.05zM198 137.36h3.05v2.6h-3.05zM195 139.91h3.05v2.6h-3.05zM210 139.91h3.05v2.6h-3.05zM210 142.46h3.05v2.6h-3.05zM58.46 145.02h3.09v2.6h-3.09zM171 150.12h3.05v2.6h-3.05zM153 152.68h3.05v2.6h-3.05zM201 152.68h3.05v2.6h-3.05zM138 157.79h3.05v2.6h-3.05zM207 157.79h3.05v2.6h-3.05zM198 160.34h3.05v2.6h-3.05zM171 162.89h3.05v2.6h-3.05zM189 165.45h3.05v2.6h-3.05z"/>
<path fill="#ccc0f0" d="M58.46 25h3.09v2.6h-3.09zM73.64 27.55h3.09v2.6h-3.09zM123 32.66h3.05v2.6h-3.05zM186 32.66h3.05v2.6h-3.05zM43.29 40.32h3.09v2.6h-3.09zM174 40.32h3.05v2.6h-3.05zM114 42.88h3.05v2.6h-3.05zM117 42.88h3.05v2.6h-3.05zM28.11 47.98h3.09v2.6h-3.09zM19 50.54h3.09v2.6h-3.09zM64.54 50.54h3.09v2.6h-3.09zM37.21 58.2h3.09v2.6h-3.09zM55.43 60.75h3.09v2.6h-3.09zM52.39 63.3h3.09v2.6h-3.09zM43.29 65.86h3.09v2.6h-3.09zM108 65.86h3.05v2.6h-3.05zM43.29 68.41h3.09v2.6h-3.09zM52.39 68.41h3.09v2.6h-3.09zM97.93 73.52h3.09v2.6h-3.09zM22.04 76.07h3.09v2.6h-3.09zM40.25 76.07h3.09v2.6h-3.09zM210 76.07h3.05v2.6h-3.05zM37.21 83.73h3.09v2.6h-3.09zM129 83.73h3.05v2.6h-3.05zM174 86.29h3.05v2.6h-3.05zM207 86.29h3.05v2.6h-3.05zM52.39 88.84h3.09v2.6h-3.09zM135 91.39h3.05v2.6h-3.05zM207 91.39h3.05v2.6h-3.05zM126 96.5h3.05v2.6h-3.05zM76.68 99.05h3.09v2.6h-3.09zM174 101.61h3.05v2.6h-3.05zM37.21 104.16h3.09v2.6h-3.09zM46.32 104.16h3.09v2.6h-3.09zM88.82 104.16h3.09v2.6h-3.09zM138 104.16h3.05v2.6h-3.05zM147 109.27h3.05v2.6h-3.05zM192 114.38h3.05v2.6h-3.05zM91.86 122.04h3.09v2.6h-3.09zM49.36 124.59h3.09v2.6h-3.09zM129 124.59h3.05v2.6h-3.05zM195 124.59h3.05v2.6h-3.05zM28.11 127.14h3.09v2.6h-3.09zM111 127.14h3.05v2.6h-3.05zM114 127.14h3.05v2.6h-3.05zM153 129.7h3.05v2.6h-3.05zM147 132.25h3.05v2.6h-3.05zM108 134.8h3.05v2.6h-3.05zM111 134.8h3.05v2.6h-3.05zM120 134.8h3.05v2.6h-3.05zM195 134.8h3.05v2.6h-3.05zM207 134.8h3.05v2.6h-3.05zM46.32 137.36h3.09v2.6h-3.09zM135 139.91h3.05v2.6h-3.05zM150 139.91h3.05v2.6h-3.05zM174 139.91h3.05v2.6h-3.05zM132 142.46h3.05v2.6h-3.05zM171 142.46h3.05v2.6h-3.05zM49.36 145.02h3.09v2.6h-3.09zM43.29 147.57h3.09v2.6h-3.09zM61.5 147.57h3.09v2.6h-3.09zM85.79 150.12h3.09v2.6h-3.09zM52.39 155.23h3.09v2.6h-3.09zM195 155.23h3.05v2.6h-3.05zM129 157.79h3.05v2.6h-3.05zM177 157.79h3.05v2.6h-3.05zM165 160.34h3.05v2.6h-3.05zM174 160.34h3.05v2.6h-3.05zM186 162.89h3.05v2.6h-3.05zM37.21 165.45h3.09v2.6h-3.09z"/>
<path fill="#a89ce4" d="M61.5 25h3.09v2.6h-3.09zM64.54 25h3.09v2.6h-3.09zM70.61 30.11h3.09v2.6h-3.09zM88.82 30.11h3.09v2.6h-3.09zM114 30.11h3.05v2.6h-3.05zM144 30.11h3.05v2.6h-3.05zM49.36 35.21h3.09v2.6h-3.09zM88.82 35.21h3.09v2.6h-3.09zM114 35.21h3.05v2.6h-3.05zM49.36 37.77h3.09v2.6h-3.09zM55.43 37.77h3.09v2.6h-3.09zM82.75 40.32h3.09v2.6h-3.09zM105 40.32h3.05v2.6h-3.05zM123 40.32h3.05v2.6h-3.05zM40.25 42.88h3.09v2.6h-3.09zM58.46 42.88h3.09v2.6h-3.09zM94.89 45.43h3.09v2.6h-3.09zM46.32 53.09h3.09v2.6h-3.09zM82.75 53.09h3.09v2.6h-3.09zM100.96 58.2h3.09v2.6h-3.09zM37.21 60.75h3.09v2.6h-3.09zM46.32 60.75h3.09v2.6h-3.09zM94.89 63.3h3.09v2.6h-3.09zM97.93 65.86h3.09v2.6h-3.09zM105 65.86h3.05v2.6h-3.05zM22.04 70.96h3.09v2.6h-3.09zM82.75 73.52h3.09v2.6h-3.09zM165 73.52h3.05v2.6h-3.05zM37.21 76.07h3.09v2.6h-3.09zM52.39 76.07h3.09v2.6h-3.09zM73.64 76.07h3.09v2.6h-3.09zM108 76.07h3.05v2.6h-3.05zM76.68 83.73h3.09v2.6h-3.09zM129 86.29h3.05v2.6h-3.05zM192 86.29h3.05v2.6h-3.05zM40.25 88.84h3.09v2.6h-3.09zM129 88.84h3.05v2.6h-3.05zM159 88.84h3.05v2.6h-3.05zM43.29 91.39h3.09v2.6h-3.09zM31.14 93.95h3.09v2.6h-3.09zM67.57 93.95h3.09v2.6h-3.09zM156 96.5h3.05v2.6h-3.05zM61.5 99.05h3.09v2.6h-3.09zM82.75 99.05h3.09v2.6h-3.09zM189 101.61h3.05v2.6h-3.05zM126 104.16h3.05v2.6h-3.05zM210 104.16h3.05v2.6h-3.05zM49.36 106.71h3.09v2.6h-3.09zM94.89 106.71h3.09v2.6h-3.09zM37.21 111.82h3.09v2.6h-3.09zM55.43 111.82h3.09v2.6h-3.09zM195 114.38h3.05v2.6h-3.05zM138 116.93h3.05v2.6h-3.05zM34.18 122.04h3.09v2.6h-3.09zM165 134.8h3.05v2.6h-3.05zM201 137.36h3.05v2.6h-3.05zM120 139.91h3.05v2.6h-3.05zM180 142.46h3.05v2.6h-3.05zM156 145.02h3.05v2.6h-3.05zM168 145.02h3.05v2.6h-3.05zM207 145.02h3.05v2.6h-3.05zM171 147.57h3.05v2.6h-3.05zM207 147.57h3.05v2.6h-3.05zM129 150.12h3.05v2.6h-3.05zM186 150.12h3.05v2.6h-3.05zM126 152.68h3.05v2.6h-3.05zM186 155.23h3.05v2.6h-3.05zM67.57 157.79h3.09v2.6h-3.09zM186 160.34h3.05v2.6h-3.05zM189 160.34h3.05v2.6h-3.05zM207 160.34h3.05v2.6h-3.05zM210 160.34h3.05v2.6h-3.05zM204 162.89h3.05v2.6h-3.05zM156 165.45h3.05v2.6h-3.05zM168 165.45h3.05v2.6h-3.05z"/>
<path fill="#483ca8" d="M67.57 25h3.09v2.6h-3.09zM70.61 25h3.09v2.6h-3.09zM40.25 27.55h3.09v2.6h-3.09zM73.64 35.21h3.09v2.6h-3.09zM31.14 37.77h3.09v2.6h-3.09zM61.5 37.77h3.09v2.6h-3.09zM70.61 37.77h3.09v2.6h-3.09zM70.61 40.32h3.09v2.6h-3.09zM22.04 42.88h3.09v2.6h-3.09zM70.61 42.88h3.09v2.6h-3.09zM73.64 42.88h3.09v2.6h-3.09zM88.82 42.88h3.09v2.6h-3.09zM85.79 45.43h3.09v2.6h-3.09zM55.43 47.98h3.09v2.6h-3.09zM61.5 47.98h3.09v2.6h-3.09zM76.68 47.98h3.09v2.6h-3.09zM114 47.98h3.05v2.6h-3.05zM79.71 50.54h3.09v2.6h-3.09zM91.86 50.54h3.09v2.6h-3.09zM76.68 55.64h3.09v2.6h-3.09zM52.39 73.52h3.09v2.6h-3.09zM97.93 76.07h3.09v2.6h-3.09zM88.82 78.62h3.09v2.6h-3.09zM55.43 83.73h3.09v2.6h-3.09zM79.71 83.73h3.09v2.6h-3.09zM46.32 86.29h3.09v2.6h-3.09zM73.64 91.39h3.09v2.6h-3.09zM49.36 93.95h3.09v2.6h-3.09zM52.39 101.61h3.09v2.6h-3.09zM85.79 101.61h3.09v2.6h-3.09zM183 101.61h3.05v2.6h-3.05zM213 106.71h3.05v2.6h-3.05zM46.32 122.04h3.09v2.6h-3.09zM37.21 124.59h3.09v2.6h-3.09zM207 127.14h3.05v2.6h-3.05zM153 137.36h3.05v2.6h-3.05zM204 145.02h3.05v2.6h-3.05zM162 157.79h3.05v2.6h-3.05zM156 160.34h3.05v2.6h-3.05z"/>
<path fill="#6c60c0" d="M73.64 25h3.09v2.6h-3.09zM88.82 25h3.09v2.6h-3.09zM82.75 30.11h3.09v2.6h-3.09zM49.36 32.66h3.09v2.6h-3.09zM91.86 35.21h3.09v2.6h-3.09zM73.64 40.32h3.09v2.6h-3.09zM91.86 40.32h3.09v2.6h-3.09zM31.14 42.88h3.09v2.6h-3.09zM79.71 42.88h3.09v2.6h-3.09zM105 42.88h3.05v2.6h-3.05zM67.57 45.43h3.09v2.6h-3.09zM49.36 47.98h3.09v2.6h-3.09zM58.46 50.54h3.09v2.6h-3.09zM97.93 50.54h3.09v2.6h-3.09zM61.5 53.09h3.09v2.6h-3.09zM94.89 53.09h3.09v2.6h-3.09zM91.86 55.64h3.09v2.6h-3.09zM31.14 58.2h3.09v2.6h-3.09zM64.54 63.3h3.09v2.6h-3.09zM25.07 65.86h3.09v2.6h-3.09zM85.79 65.86h3.09v2.6h-3.09zM129 68.41h3.05v2.6h-3.05zM76.68 76.07h3.09v2.6h-3.09zM135 76.07h3.05v2.6h-3.05zM28.11 78.62h3.09v2.6h-3.09zM73.64 78.62h3.09v2.6h-3.09zM58.46 83.73h3.09v2.6h-3.09zM88.82 83.73h3.09v2.6h-3.09zM88.82 88.84h3.09v2.6h-3.09zM183 93.95h3.05v2.6h-3.05zM34.18 96.5h3.09v2.6h-3.09zM210 99.05h3.05v2.6h-3.05zM40.25 106.71h3.09v2.6h-3.09zM207 106.71h3.05v2.6h-3.05zM73.64 109.27h3.09v2.6h-3.09zM201 109.27h3.05v2.6h-3.05zM144 116.93h3.05v2.6h-3.05zM168 116.93h3.05v2.6h-3.05zM49.36 119.48h3.09v2.6h-3.09zM204 119.48h3.05v2.6h-3.05zM189 129.7h3.05v2.6h-3.05zM123 134.8h3.05v2.6h-3.05zM114 137.36h3.05v2.6h-3.05zM138 145.02h3.05v2.6h-3.05zM162 145.02h3.05v2.6h-3.05zM174 145.02h3.05v2.6h-3.05zM55.43 147.57h3.09v2.6h-3.09zM141 147.57h3.05v2.6h-3.05zM210 147.57h3.05v2.6h-3.05zM135 150.12h3.05v2.6h-3.05zM210 150.12h3.05v2.6h-3.05zM198 152.68h3.05v2.6h-3.05zM210 152.68h3.05v2.6h-3.05zM162 155.23h3.05v2.6h-3.05zM183 155.23h3.05v2.6h-3.05zM201 155.23h3.05v2.6h-3.05zM43.29 162.89h3.09v2.6h-3.09zM120 165.45h3.05v2.6h-3.05zM150 165.45h3.05v2.6h-3.05z"/>
<path fill="#8478cc" d="M76.68 25h3.09v2.6h-3.09zM97.93 25h3.09v2.6h-3.09zM97.93 27.55h3.09v2.6h-3.09zM67.57 32.66h3.09v2.6h-3.09zM76.68 32.66h3.09v2.6h-3.09zM22.04 35.21h3.09v2.6h-3.09zM31.14 35.21h3.09v2.6h-3.09zM76.68 35.21h3.09v2.6h-3.09zM114 37.77h3.05v2.6h-3.05zM64.54 40.32h3.09v2.6h-3.09zM100.96 40.32h3.09v2.6h-3.09zM55.43 42.88h3.09v2.6h-3.09zM49.36 45.43h3.09v2.6h-3.09zM40.25 47.98h3.09v2.6h-3.09zM91.86 47.98h3.09v2.6h-3.09zM94.89 47.98h3.09v2.6h-3.09zM73.64 50.54h3.09v2.6h-3.09zM76.68 50.54h3.09v2.6h-3.09zM97.93 55.64h3.09v2.6h-3.09zM55.43 58.2h3.09v2.6h-3.09zM58.46 58.2h3.09v2.6h-3.09zM46.32 63.3h3.09v2.6h-3.09zM70.61 63.3h3.09v2.6h-3.09zM73.64 63.3h3.09v2.6h-3.09zM88.82 65.86h3.09v2.6h-3.09zM91.86 76.07h3.09v2.6h-3.09zM97.93 83.73h3.09v2.6h-3.09zM138 83.73h3.05v2.6h-3.05zM141 83.73h3.05v2.6h-3.05zM117 88.84h3.05v2.6h-3.05zM132 88.84h3.05v2.6h-3.05zM144 88.84h3.05v2.6h-3.05zM40.25 91.39h3.09v2.6h-3.09zM58.46 91.39h3.09v2.6h-3.09zM85.79 93.95h3.09v2.6h-3.09zM117 93.95h3.05v2.6h-3.05zM207 96.5h3.05v2.6h-3.05zM31.14 99.05h3.09v2.6h-3.09zM138 99.05h3.05v2.6h-3.05zM201 99.05h3.05v2.6h-3.05zM55.43 101.61h3.09v2.6h-3.09zM195 101.61h3.05v2.6h-3.05zM207 101.61h3.05v2.6h-3.05zM162 104.16h3.05v2.6h-3.05zM58.46 122.04h3.09v2.6h-3.09zM79.71 122.04h3.09v2.6h-3.09zM111 122.04h3.05v2.6h-3.05zM108 124.59h3.05v2.6h-3.05zM76.68 129.7h3.09v2.6h-3.09zM70.61 132.25h3.09v2.6h-3.09zM156 134.8h3.05v2.6h-3.05zM165 137.36h3.05v2.6h-3.05zM64.54 142.46h3.09v2.6h-3.09zM120 142.46h3.05v2.6h-3.05zM144 142.46h3.05v2.6h-3.05zM192 142.46h3.05v2.6h-3.05zM204 142.46h3.05v2.6h-3.05zM171 145.02h3.05v2.6h-3.05zM186 145.02h3.05v2.6h-3.05zM201 145.02h3.05v2.6h-3.05zM120 147.57h3.05v2.6h-3.05zM192 147.57h3.05v2.6h-3.05zM198 147.57h3.05v2.6h-3.05zM88.82 150.12h3.09v2.6h-3.09zM189 150.12h3.05v2.6h-3.05zM171 152.68h3.05v2.6h-3.05zM141 155.23h3.05v2.6h-3.05zM174 155.23h3.05v2.6h-3.05zM189 155.23h3.05v2.6h-3.05zM192 155.23h3.05v2.6h-3.05zM198 155.23h3.05v2.6h-3.05zM156 157.79h3.05v2.6h-3.05zM204 157.79h3.05v2.6h-3.05zM177 162.89h3.05v2.6h-3.05z"/>
<path fill="#9c90d8" d="M79.71 25h3.09v2.6h-3.09zM49.36 27.55h3.09v2.6h-3.09zM114 27.55h3.05v2.6h-3.05zM132 32.66h3.05v2.6h-3.05zM61.5 35.21h3.09v2.6h-3.09zM82.75 35.21h3.09v2.6h-3.09zM100.96 35.21h3.09v2.6h-3.09zM46.32 40.32h3.09v2.6h-3.09zM52.39 40.32h3.09v2.6h-3.09zM76.68 40.32h3.09v2.6h-3.09zM37.21 42.88h3.09v2.6h-3.09zM52.39 42.88h3.09v2.6h-3.09zM79.71 45.43h3.09v2.6h-3.09zM91.86 45.43h3.09v2.6h-3.09zM31.14 47.98h3.09v2.6h-3.09zM46.32 47.98h3.09v2.6h-3.09zM97.93 47.98h3.09v2.6h-3.09zM117 47.98h3.05v2.6h-3.05zM34.18 50.54h3.09v2.6h-3.09zM76.68 53.09h3.09v2.6h-3.09zM34.18 55.64h3.09v2.6h-3.09zM43.29 55.64h3.09v2.6h-3.09zM67.57 55.64h3.09v2.6h-3.09zM73.64 55.64h3.09v2.6h-3.09zM58.46 60.75h3.09v2.6h-3.09zM49.36 63.3h3.09v2.6h-3.09zM67.57 63.3h3.09v2.6h-3.09zM82.75 63.3h3.09v2.6h-3.09zM52.39 65.86h3.09v2.6h-3.09zM64.54 65.86h3.09v2.6h-3.09zM73.64 65.86h3.09v2.6h-3.09zM91.86 68.41h3.09v2.6h-3.09zM100.96 68.41h3.09v2.6h-3.09zM61.5 70.96h3.09v2.6h-3.09zM70.61 70.96h3.09v2.6h-3.09zM79.71 70.96h3.09v2.6h-3.09zM156 73.52h3.05v2.6h-3.05zM49.36 78.62h3.09v2.6h-3.09zM58.46 81.18h3.09v2.6h-3.09zM94.89 81.18h3.09v2.6h-3.09zM135 81.18h3.05v2.6h-3.05zM52.39 86.29h3.09v2.6h-3.09zM61.5 86.29h3.09v2.6h-3.09zM73.64 86.29h3.09v2.6h-3.09zM135 86.29h3.05v2.6h-3.05zM100.96 88.84h3.09v2.6h-3.09zM82.75 91.39h3.09v2.6h-3.09zM138 91.39h3.05v2.6h-3.05zM162 91.39h3.05v2.6h-3.05zM28.11 93.95h3.09v2.6h-3.09zM201 93.95h3.05v2.6h-3.05zM37.21 99.05h3.09v2.6h-3.09zM94.89 99.05h3.09v2.6h-3.09zM204 101.61h3.05v2.6h-3.05zM186 104.16h3.05v2.6h-3.05zM58.46 106.71h3.09v2.6h-3.09zM180 106.71h3.05v2.6h-3.05zM183 106.71h3.05v2.6h-3.05zM195 106.71h3.05v2.6h-3.05zM141 109.27h3.05v2.6h-3.05zM210 111.82h3.05v2.6h-3.05zM177 114.38h3.05v2.6h-3.05zM213 114.38h3.05v2.6h-3.05zM79.71 116.93h3.09v2.6h-3.09zM76.68 124.59h3.09v2.6h-3.09zM114 124.59h3.05v2.6h-3.05zM117 124.59h3.05v2.6h-3.05zM70.61 127.14h3.09v2.6h-3.09zM76.68 127.14h3.09v2.6h-3.09zM189 127.14h3.05v2.6h-3.05zM31.14 129.7h3.09v2.6h-3.09zM43.29 129.7h3.09v2.6h-3.09zM49.36 129.7h3.09v2.6h-3.09zM198 129.7h3.05v2.6h-3.05zM91.86 132.25h3.09v2.6h-3.09zM192 132.25h3.05v2.6h-3.05zM201 132.25h3.05v2.6h-3.05zM210 134.8h3.05v2.6h-3.05zM138 142.46h3.05v2.6h-3.05zM94.89 150.12h3.09v2.6h-3.09zM195 150.12h3.05v2.6h-3.05zM123 152.68h3.05v2.6h-3.05zM135 152.68h3.05v2.6h-3.05zM189 152.68h3.05v2.6h-3.05zM192 152.68h3.05v2.6h-3.05zM177 155.23h3.05v2.6h-3.05zM210 155.23h3.05v2.6h-3.05zM88.82 157.79h3.09v2.6h-3.09zM61.5 160.34h3.09v2.6h-3.09zM120 160.34h3.05v2.6h-3.05zM177 160.34h3.05v2.6h-3.05zM201 160.34h3.05v2.6h-3.05zM213 160.34h3.05v2.6h-3.05zM61.5 162.89h3.09v2.6h-3.09zM150 162.89h3.05v2.6h-3.05zM156 162.89h3.05v2.6h-3.05zM195 162.89h3.05v2.6h-3.05zM213 165.45h3.05v2.6h-3.05z"/>
<path fill="#9078d8" d="M82.75 25h3.09v2.6h-3.09zM76.68 37.77h3.09v2.6h-3.09zM49.36 42.88h3.09v2.6h-3.09zM82.75 42.88h3.09v2.6h-3.09zM91.86 63.3h3.09v2.6h-3.09zM94.89 68.41h3.09v2.6h-3.09zM120 68.41h3.05v2.6h-3.05zM100.96 73.52h3.09v2.6h-3.09zM85.79 81.18h3.09v2.6h-3.09zM88.82 81.18h3.09v2.6h-3.09zM123 83.73h3.05v2.6h-3.05zM97.93 88.84h3.09v2.6h-3.09zM168 88.84h3.05v2.6h-3.05zM58.46 96.5h3.09v2.6h-3.09zM67.57 96.5h3.09v2.6h-3.09zM64.54 101.61h3.09v2.6h-3.09zM135 101.61h3.05v2.6h-3.05zM55.43 124.59h3.09v2.6h-3.09zM207 132.25h3.05v2.6h-3.05zM159 150.12h3.05v2.6h-3.05zM201 150.12h3.05v2.6h-3.05zM171 160.34h3.05v2.6h-3.05zM207 162.89h3.05v2.6h-3.05z"/>
<path fill="#c0c0f0" d="M91.86 25h3.09v2.6h-3.09zM159 25h3.05v2.6h-3.05zM177 25h3.05v2.6h-3.05zM76.68 27.55h3.09v2.6h-3.09zM37.21 30.11h3.09v2.6h-3.09zM76.68 30.11h3.09v2.6h-3.09zM25.07 32.66h3.09v2.6h-3.09zM25.07 35.21h3.09v2.6h-3.09zM43.29 35.21h3.09v2.6h-3.09zM132 42.88h3.05v2.6h-3.05zM28.11 45.43h3.09v2.6h-3.09zM105 47.98h3.05v2.6h-3.05zM108 47.98h3.05v2.6h-3.05zM126 47.98h3.05v2.6h-3.05zM22.04 55.64h3.09v2.6h-3.09zM88.82 58.2h3.09v2.6h-3.09zM25.07 70.96h3.09v2.6h-3.09zM97.93 70.96h3.09v2.6h-3.09zM105 76.07h3.05v2.6h-3.05zM67.57 78.62h3.09v2.6h-3.09zM67.57 83.73h3.09v2.6h-3.09zM34.18 86.29h3.09v2.6h-3.09zM22.04 91.39h3.09v2.6h-3.09zM40.25 93.95h3.09v2.6h-3.09zM91.86 93.95h3.09v2.6h-3.09zM31.14 96.5h3.09v2.6h-3.09zM186 96.5h3.05v2.6h-3.05zM198 96.5h3.05v2.6h-3.05zM55.43 99.05h3.09v2.6h-3.09zM135 99.05h3.05v2.6h-3.05zM207 99.05h3.05v2.6h-3.05zM126 101.61h3.05v2.6h-3.05zM204 109.27h3.05v2.6h-3.05zM46.32 114.38h3.09v2.6h-3.09zM213 119.48h3.05v2.6h-3.05zM177 122.04h3.05v2.6h-3.05zM189 122.04h3.05v2.6h-3.05zM43.29 124.59h3.09v2.6h-3.09zM210 124.59h3.05v2.6h-3.05zM34.18 127.14h3.09v2.6h-3.09zM120 132.25h3.05v2.6h-3.05zM198 132.25h3.05v2.6h-3.05zM34.18 134.8h3.09v2.6h-3.09zM177 134.8h3.05v2.6h-3.05zM204 134.8h3.05v2.6h-3.05zM138 137.36h3.05v2.6h-3.05zM135 142.46h3.05v2.6h-3.05zM165 145.02h3.05v2.6h-3.05zM129 147.57h3.05v2.6h-3.05zM165 157.79h3.05v2.6h-3.05zM37.21 160.34h3.09v2.6h-3.09zM180 160.34h3.05v2.6h-3.05zM117 165.45h3.05v2.6h-3.05zM138 165.45h3.05v2.6h-3.05zM141 165.45h3.05v2.6h-3.05z"/>
<path fill="#ccccf0" d="M94.89 25h3.09v2.6h-3.09zM46.32 32.66h3.09v2.6h-3.09zM97.93 35.21h3.09v2.6h-3.09zM43.29 37.77h3.09v2.6h-3.09zM123 37.77h3.05v2.6h-3.05zM97.93 40.32h3.09v2.6h-3.09zM73.64 47.98h3.09v2.6h-3.09zM40.25 53.09h3.09v2.6h-3.09zM108 53.09h3.05v2.6h-3.05zM64.54 70.96h3.09v2.6h-3.09zM37.21 73.52h3.09v2.6h-3.09zM165 78.62h3.05v2.6h-3.05zM189 78.62h3.05v2.6h-3.05zM37.21 81.18h3.09v2.6h-3.09zM138 81.18h3.05v2.6h-3.05zM117 83.73h3.05v2.6h-3.05zM171 83.73h3.05v2.6h-3.05zM126 86.29h3.05v2.6h-3.05zM132 86.29h3.05v2.6h-3.05zM85.79 96.5h3.09v2.6h-3.09zM40.25 99.05h3.09v2.6h-3.09zM168 106.71h3.05v2.6h-3.05zM135 109.27h3.05v2.6h-3.05zM168 109.27h3.05v2.6h-3.05zM207 111.82h3.05v2.6h-3.05zM88.82 114.38h3.09v2.6h-3.09zM204 114.38h3.05v2.6h-3.05zM40.25 119.48h3.09v2.6h-3.09zM105 119.48h3.05v2.6h-3.05zM100.96 124.59h3.09v2.6h-3.09zM111 129.7h3.05v2.6h-3.05zM144 129.7h3.05v2.6h-3.05zM156 129.7h3.05v2.6h-3.05zM192 129.7h3.05v2.6h-3.05zM201 129.7h3.05v2.6h-3.05zM19 132.25h3.09v2.6h-3.09zM159 139.91h3.05v2.6h-3.05zM58.46 150.12h3.09v2.6h-3.09zM168 150.12h3.05v2.6h-3.05zM213 152.68h3.05v2.6h-3.05zM183 165.45h3.05v2.6h-3.05zM204 165.45h3.05v2.6h-3.05z"/>
<path fill="#fcb49c" d="M100.96 25h3.09v2.6h-3.09zM40.25 32.66h3.09v2.6h-3.09zM120 35.21h3.05v2.6h-3.05zM147 35.21h3.05v2.6h-3.05zM117 40.32h3.05v2.6h-3.05zM165 45.43h3.05v2.6h-3.05zM162 47.98h3.05v2.6h-3.05zM177 50.54h3.05v2.6h-3.05zM117 53.09h3.05v2.6h-3.05zM111 60.75h3.05v2.6h-3.05zM147 60.75h3.05v2.6h-3.05zM165 60.75h3.05v2.6h-3.05zM141 63.3h3.05v2.6h-3.05zM168 63.3h3.05v2.6h-3.05zM144 68.41h3.05v2.6h-3.05zM120 76.07h3.05v2.6h-3.05zM144 76.07h3.05v2.6h-3.05zM201 81.18h3.05v2.6h-3.05zM186 86.29h3.05v2.6h-3.05zM37.21 93.95h3.09v2.6h-3.09zM114 93.95h3.05v2.6h-3.05zM198 93.95h3.05v2.6h-3.05zM114 96.5h3.05v2.6h-3.05zM159 101.61h3.05v2.6h-3.05zM31.14 104.16h3.09v2.6h-3.09zM61.5 109.27h3.09v2.6h-3.09zM91.86 109.27h3.09v2.6h-3.09zM85.79 111.82h3.09v2.6h-3.09zM174 111.82h3.05v2.6h-3.05zM22.04 114.38h3.09v2.6h-3.09zM55.43 114.38h3.09v2.6h-3.09zM82.75 114.38h3.09v2.6h-3.09zM91.86 114.38h3.09v2.6h-3.09zM105 124.59h3.05v2.6h-3.05zM186 137.36h3.05v2.6h-3.05zM28.11 139.91h3.09v2.6h-3.09zM61.5 142.46h3.09v2.6h-3.09zM67.57 142.46h3.09v2.6h-3.09zM111 142.46h3.05v2.6h-3.05zM156 142.46h3.05v2.6h-3.05zM70.61 147.57h3.09v2.6h-3.09zM19 150.12h3.09v2.6h-3.09zM108 150.12h3.05v2.6h-3.05zM31.14 152.68h3.09v2.6h-3.09zM67.57 152.68h3.09v2.6h-3.09zM22.04 165.45h3.09v2.6h-3.09zM58.46 165.45h3.09v2.6h-3.09zM153 165.45h3.05v2.6h-3.05z"/>
<path fill="#f0906c" d="M108 25h3.05v2.6h-3.05zM144 25h3.05v2.6h-3.05zM111 27.55h3.05v2.6h-3.05zM117 27.55h3.05v2.6h-3.05zM204 27.55h3.05v2.6h-3.05zM198 30.11h3.05v2.6h-3.05zM207 30.11h3.05v2.6h-3.05zM207 32.66h3.05v2.6h-3.05zM37.21 35.21h3.09v2.6h-3.09zM40.25 37.77h3.09v2.6h-3.09zM138 37.77h3.05v2.6h-3.05zM141 37.77h3.05v2.6h-3.05zM156 37.77h3.05v2.6h-3.05zM108 40.32h3.05v2.6h-3.05zM150 40.32h3.05v2.6h-3.05zM204 40.32h3.05v2.6h-3.05zM171 42.88h3.05v2.6h-3.05zM192 42.88h3.05v2.6h-3.05zM34.18 45.43h3.09v2.6h-3.09zM168 50.54h3.05v2.6h-3.05zM156 53.09h3.05v2.6h-3.05zM180 53.09h3.05v2.6h-3.05zM165 55.64h3.05v2.6h-3.05zM192 55.64h3.05v2.6h-3.05zM207 55.64h3.05v2.6h-3.05zM117 58.2h3.05v2.6h-3.05zM141 58.2h3.05v2.6h-3.05zM150 58.2h3.05v2.6h-3.05zM177 58.2h3.05v2.6h-3.05zM195 60.75h3.05v2.6h-3.05zM198 60.75h3.05v2.6h-3.05zM156 63.3h3.05v2.6h-3.05zM129 65.86h3.05v2.6h-3.05zM135 65.86h3.05v2.6h-3.05zM186 65.86h3.05v2.6h-3.05zM213 65.86h3.05v2.6h-3.05zM192 68.41h3.05v2.6h-3.05zM210 73.52h3.05v2.6h-3.05zM25.07 76.07h3.09v2.6h-3.09zM28.11 76.07h3.09v2.6h-3.09zM180 76.07h3.05v2.6h-3.05zM120 81.18h3.05v2.6h-3.05zM111 83.73h3.05v2.6h-3.05zM213 86.29h3.05v2.6h-3.05zM100.96 91.39h3.09v2.6h-3.09zM204 91.39h3.05v2.6h-3.05zM210 93.95h3.05v2.6h-3.05zM180 99.05h3.05v2.6h-3.05zM123 106.71h3.05v2.6h-3.05zM85.79 109.27h3.09v2.6h-3.09zM129 109.27h3.05v2.6h-3.05zM28.11 111.82h3.09v2.6h-3.09zM34.18 111.82h3.09v2.6h-3.09zM105 114.38h3.05v2.6h-3.05zM129 114.38h3.05v2.6h-3.05zM28.11 116.93h3.09v2.6h-3.09zM117 116.93h3.05v2.6h-3.05zM94.89 119.48h3.09v2.6h-3.09zM162 119.48h3.05v2.6h-3.05zM198 119.48h3.05v2.6h-3.05zM52.39 122.04h3.09v2.6h-3.09zM97.93 122.04h3.09v2.6h-3.09zM186 122.04h3.05v2.6h-3.05zM204 124.59h3.05v2.6h-3.05zM61.5 127.14h3.09v2.6h-3.09zM82.75 127.14h3.09v2.6h-3.09zM168 127.14h3.05v2.6h-3.05zM91.86 129.7h3.09v2.6h-3.09zM22.04 134.8h3.09v2.6h-3.09zM55.43 137.36h3.09v2.6h-3.09zM61.5 137.36h3.09v2.6h-3.09zM108 145.02h3.05v2.6h-3.05zM97.93 150.12h3.09v2.6h-3.09zM183 150.12h3.05v2.6h-3.05zM111 152.68h3.05v2.6h-3.05zM67.57 155.23h3.09v2.6h-3.09zM82.75 155.23h3.09v2.6h-3.09zM111 155.23h3.05v2.6h-3.05zM19 157.79h3.09v2.6h-3.09zM31.14 162.89h3.09v2.6h-3.09zM43.29 165.45h3.09v2.6h-3.09zM55.43 165.45h3.09v2.6h-3.09z"/>
<path fill="#d8ccf0" d="M114 25h3.05v2.6h-3.05zM91.86 27.55h3.09v2.6h-3.09zM186 27.55h3.05v2.6h-3.05zM117 30.11h3.05v2.6h-3.05zM61.5 32.66h3.09v2.6h-3.09zM70.61 45.43h3.09v2.6h-3.09zM132 53.09h3.05v2.6h-3.05zM25.07 63.3h3.09v2.6h-3.09zM46.32 68.41h3.09v2.6h-3.09zM40.25 73.52h3.09v2.6h-3.09zM141 73.52h3.05v2.6h-3.05zM162 76.07h3.05v2.6h-3.05zM168 76.07h3.05v2.6h-3.05zM70.61 83.73h3.09v2.6h-3.09zM91.86 83.73h3.09v2.6h-3.09zM91.86 86.29h3.09v2.6h-3.09zM97.93 86.29h3.09v2.6h-3.09zM201 88.84h3.05v2.6h-3.05zM91.86 91.39h3.09v2.6h-3.09zM126 91.39h3.05v2.6h-3.05zM168 91.39h3.05v2.6h-3.05zM180 91.39h3.05v2.6h-3.05zM171 96.5h3.05v2.6h-3.05zM25.07 101.61h3.09v2.6h-3.09zM73.64 104.16h3.09v2.6h-3.09zM88.82 109.27h3.09v2.6h-3.09zM108 109.27h3.05v2.6h-3.05zM147 111.82h3.05v2.6h-3.05zM171 114.38h3.05v2.6h-3.05zM198 116.93h3.05v2.6h-3.05zM70.61 119.48h3.09v2.6h-3.09zM159 119.48h3.05v2.6h-3.05zM210 119.48h3.05v2.6h-3.05zM156 122.04h3.05v2.6h-3.05zM22.04 124.59h3.09v2.6h-3.09zM31.14 124.59h3.09v2.6h-3.09zM70.61 124.59h3.09v2.6h-3.09zM210 127.14h3.05v2.6h-3.05zM28.11 129.7h3.09v2.6h-3.09zM177 129.7h3.05v2.6h-3.05zM49.36 137.36h3.09v2.6h-3.09zM165 139.91h3.05v2.6h-3.05zM40.25 142.46h3.09v2.6h-3.09zM189 142.46h3.05v2.6h-3.05zM52.39 147.57h3.09v2.6h-3.09zM153 147.57h3.05v2.6h-3.05zM150 150.12h3.05v2.6h-3.05zM141 152.68h3.05v2.6h-3.05zM144 155.23h3.05v2.6h-3.05zM94.89 157.79h3.09v2.6h-3.09zM192 160.34h3.05v2.6h-3.05zM91.86 165.45h3.09v2.6h-3.09zM159 165.45h3.05v2.6h-3.05zM180 165.45h3.05v2.6h-3.05z"/>
<path fill="#c0b4f0" d="M117 25h3.05v2.6h-3.05zM28.11 27.55h3.09v2.6h-3.09zM37.21 40.32h3.09v2.6h-3.09zM37.21 47.98h3.09v2.6h-3.09zM43.29 53.09h3.09v2.6h-3.09zM79.71 55.64h3.09v2.6h-3.09zM28.11 58.2h3.09v2.6h-3.09zM52.39 58.2h3.09v2.6h-3.09zM76.68 58.2h3.09v2.6h-3.09zM22.04 65.86h3.09v2.6h-3.09zM73.64 68.41h3.09v2.6h-3.09zM52.39 70.96h3.09v2.6h-3.09zM55.43 73.52h3.09v2.6h-3.09zM168 78.62h3.05v2.6h-3.05zM120 88.84h3.05v2.6h-3.05zM34.18 99.05h3.09v2.6h-3.09zM120 99.05h3.05v2.6h-3.05zM177 99.05h3.05v2.6h-3.05zM43.29 101.61h3.09v2.6h-3.09zM132 104.16h3.05v2.6h-3.05zM138 106.71h3.05v2.6h-3.05zM28.11 109.27h3.09v2.6h-3.09zM183 109.27h3.05v2.6h-3.05zM43.29 111.82h3.09v2.6h-3.09zM123 111.82h3.05v2.6h-3.05zM70.61 116.93h3.09v2.6h-3.09zM94.89 116.93h3.09v2.6h-3.09zM22.04 119.48h3.09v2.6h-3.09zM82.75 119.48h3.09v2.6h-3.09zM201 119.48h3.05v2.6h-3.05zM73.64 124.59h3.09v2.6h-3.09zM49.36 132.25h3.09v2.6h-3.09zM40.25 134.8h3.09v2.6h-3.09zM156 139.91h3.05v2.6h-3.05zM162 142.46h3.05v2.6h-3.05zM186 142.46h3.05v2.6h-3.05zM22.04 145.02h3.09v2.6h-3.09zM67.57 147.57h3.09v2.6h-3.09zM177 152.68h3.05v2.6h-3.05zM135 155.23h3.05v2.6h-3.05zM126 157.79h3.05v2.6h-3.05zM91.86 162.89h3.09v2.6h-3.09zM129 165.45h3.05v2.6h-3.05zM165 165.45h3.05v2.6h-3.05z"/>
<path fill="#e4d8f0" d="M132 25h3.05v2.6h-3.05zM52.39 30.11h3.09v2.6h-3.09zM117 32.66h3.05v2.6h-3.05zM19 35.21h3.09v2.6h-3.09zM67.57 37.77h3.09v2.6h-3.09zM111 45.43h3.05v2.6h-3.05zM120 50.54h3.05v2.6h-3.05zM126 50.54h3.05v2.6h-3.05zM19 63.3h3.09v2.6h-3.09zM126 65.86h3.05v2.6h-3.05zM58.46 73.52h3.09v2.6h-3.09zM126 73.52h3.05v2.6h-3.05zM144 81.18h3.05v2.6h-3.05zM49.36 83.73h3.09v2.6h-3.09zM108 83.73h3.05v2.6h-3.05zM25.07 93.95h3.09v2.6h-3.09zM162 93.95h3.05v2.6h-3.05zM135 96.5h3.05v2.6h-3.05zM192 99.05h3.05v2.6h-3.05zM204 99.05h3.05v2.6h-3.05zM129 101.61h3.05v2.6h-3.05zM156 101.61h3.05v2.6h-3.05zM213 101.61h3.05v2.6h-3.05zM67.57 106.71h3.09v2.6h-3.09zM79.71 106.71h3.09v2.6h-3.09zM177 106.71h3.05v2.6h-3.05zM120 109.27h3.05v2.6h-3.05zM144 109.27h3.05v2.6h-3.05zM19 116.93h3.09v2.6h-3.09zM76.68 116.93h3.09v2.6h-3.09zM165 116.93h3.05v2.6h-3.05zM25.07 119.48h3.09v2.6h-3.09zM120 119.48h3.05v2.6h-3.05zM198 122.04h3.05v2.6h-3.05zM189 124.59h3.05v2.6h-3.05zM37.21 127.14h3.09v2.6h-3.09zM150 127.14h3.05v2.6h-3.05zM201 127.14h3.05v2.6h-3.05zM37.21 129.7h3.09v2.6h-3.09zM207 129.7h3.05v2.6h-3.05zM177 132.25h3.05v2.6h-3.05zM19 134.8h3.09v2.6h-3.09zM43.29 134.8h3.09v2.6h-3.09zM171 134.8h3.05v2.6h-3.05zM189 134.8h3.05v2.6h-3.05zM28.11 137.36h3.09v2.6h-3.09zM147 137.36h3.05v2.6h-3.05zM147 142.46h3.05v2.6h-3.05zM25.07 147.57h3.09v2.6h-3.09zM58.46 162.89h3.09v2.6h-3.09z"/>
<path fill="#fcf0f0" d="M135 25h3.05v2.6h-3.05zM168 25h3.05v2.6h-3.05zM126 27.55h3.05v2.6h-3.05zM138 27.55h3.05v2.6h-3.05zM34.18 30.11h3.09v2.6h-3.09zM150 30.11h3.05v2.6h-3.05zM97.93 32.66h3.09v2.6h-3.09zM114 32.66h3.05v2.6h-3.05zM165 35.21h3.05v2.6h-3.05zM100.96 37.77h3.09v2.6h-3.09zM117 37.77h3.05v2.6h-3.05zM94.89 40.32h3.09v2.6h-3.09zM114 40.32h3.05v2.6h-3.05zM111 47.98h3.05v2.6h-3.05zM186 50.54h3.05v2.6h-3.05zM49.36 53.09h3.09v2.6h-3.09zM129 53.09h3.05v2.6h-3.05zM150 53.09h3.05v2.6h-3.05zM120 55.64h3.05v2.6h-3.05zM150 55.64h3.05v2.6h-3.05zM183 55.64h3.05v2.6h-3.05zM213 55.64h3.05v2.6h-3.05zM201 58.2h3.05v2.6h-3.05zM132 60.75h3.05v2.6h-3.05zM129 63.3h3.05v2.6h-3.05zM147 63.3h3.05v2.6h-3.05zM117 65.86h3.05v2.6h-3.05zM120 65.86h3.05v2.6h-3.05zM108 68.41h3.05v2.6h-3.05zM114 68.41h3.05v2.6h-3.05zM141 68.41h3.05v2.6h-3.05zM19 70.96h3.09v2.6h-3.09zM114 70.96h3.05v2.6h-3.05zM61.5 73.52h3.09v2.6h-3.09zM132 73.52h3.05v2.6h-3.05zM105 78.62h3.05v2.6h-3.05zM108 78.62h3.05v2.6h-3.05zM85.79 83.73h3.09v2.6h-3.09zM189 83.73h3.05v2.6h-3.05zM204 83.73h3.05v2.6h-3.05zM70.61 86.29h3.09v2.6h-3.09zM168 86.29h3.05v2.6h-3.05zM70.61 88.84h3.09v2.6h-3.09zM46.32 96.5h3.09v2.6h-3.09zM213 96.5h3.05v2.6h-3.05zM64.54 99.05h3.09v2.6h-3.09zM79.71 101.61h3.09v2.6h-3.09zM138 109.27h3.05v2.6h-3.05zM153 109.27h3.05v2.6h-3.05zM114 111.82h3.05v2.6h-3.05zM117 111.82h3.05v2.6h-3.05zM25.07 114.38h3.09v2.6h-3.09zM61.5 114.38h3.09v2.6h-3.09zM114 114.38h3.05v2.6h-3.05zM43.29 116.93h3.09v2.6h-3.09zM73.64 116.93h3.09v2.6h-3.09zM141 116.93h3.05v2.6h-3.05zM147 116.93h3.05v2.6h-3.05zM108 119.48h3.05v2.6h-3.05zM153 119.48h3.05v2.6h-3.05zM177 119.48h3.05v2.6h-3.05zM37.21 122.04h3.09v2.6h-3.09zM213 124.59h3.05v2.6h-3.05zM25.07 127.14h3.09v2.6h-3.09zM195 127.14h3.05v2.6h-3.05zM40.25 129.7h3.09v2.6h-3.09zM34.18 132.25h3.09v2.6h-3.09zM195 132.25h3.05v2.6h-3.05zM94.89 134.8h3.09v2.6h-3.09zM198 134.8h3.05v2.6h-3.05zM177 137.36h3.05v2.6h-3.05zM46.32 139.91h3.09v2.6h-3.09zM58.46 139.91h3.09v2.6h-3.09zM55.43 145.02h3.09v2.6h-3.09zM82.75 145.02h3.09v2.6h-3.09zM91.86 145.02h3.09v2.6h-3.09zM37.21 150.12h3.09v2.6h-3.09zM19 152.68h3.09v2.6h-3.09zM34.18 152.68h3.09v2.6h-3.09zM70.61 152.68h3.09v2.6h-3.09zM82.75 152.68h3.09v2.6h-3.09zM94.89 152.68h3.09v2.6h-3.09zM108 152.68h3.05v2.6h-3.05zM40.25 155.23h3.09v2.6h-3.09zM192 157.79h3.05v2.6h-3.05zM67.57 160.34h3.09v2.6h-3.09zM85.79 160.34h3.09v2.6h-3.09zM141 160.34h3.05v2.6h-3.05zM64.54 162.89h3.09v2.6h-3.09zM138 162.89h3.05v2.6h-3.05zM174 162.89h3.05v2.6h-3.05zM52.39 165.45h3.09v2.6h-3.09z"/>
<path fill="#f0543c" d="M138 25h3.05v2.6h-3.05zM135 50.54h3.05v2.6h-3.05zM195 55.64h3.05v2.6h-3.05zM138 60.75h3.05v2.6h-3.05zM31.14 65.86h3.09v2.6h-3.09zM129 70.96h3.05v2.6h-3.05zM147 73.52h3.05v2.6h-3.05zM114 106.71h3.05v2.6h-3.05zM64.54 114.38h3.09v2.6h-3.09zM97.93 127.14h3.09v2.6h-3.09zM73.64 157.79h3.09v2.6h-3.09z"/>
<path fill="#fcf0e4" d="M141 25h3.05v2.6h-3.05zM213 25h3.05v2.6h-3.05zM19 27.55h3.09v2.6h-3.09zM31.14 27.55h3.09v2.6h-3.09zM120 27.55h3.05v2.6h-3.05zM55.43 30.11h3.09v2.6h-3.09zM132 30.11h3.05v2.6h-3.05zM28.11 37.77h3.09v2.6h-3.09zM37.21 50.54h3.09v2.6h-3.09zM159 50.54h3.05v2.6h-3.05zM180 55.64h3.05v2.6h-3.05zM105 58.2h3.05v2.6h-3.05zM123 60.75h3.05v2.6h-3.05zM144 60.75h3.05v2.6h-3.05zM195 63.3h3.05v2.6h-3.05zM147 65.86h3.05v2.6h-3.05zM183 65.86h3.05v2.6h-3.05zM76.68 68.41h3.09v2.6h-3.09zM165 68.41h3.05v2.6h-3.05zM201 68.41h3.05v2.6h-3.05zM135 70.96h3.05v2.6h-3.05zM138 70.96h3.05v2.6h-3.05zM34.18 73.52h3.09v2.6h-3.09zM117 73.52h3.05v2.6h-3.05zM61.5 76.07h3.09v2.6h-3.09zM207 76.07h3.05v2.6h-3.05zM94.89 78.62h3.09v2.6h-3.09zM117 78.62h3.05v2.6h-3.05zM40.25 81.18h3.09v2.6h-3.09zM120 83.73h3.05v2.6h-3.05zM207 83.73h3.05v2.6h-3.05zM108 86.29h3.05v2.6h-3.05zM79.71 88.84h3.09v2.6h-3.09zM141 88.84h3.05v2.6h-3.05zM31.14 91.39h3.09v2.6h-3.09zM120 91.39h3.05v2.6h-3.05zM129 91.39h3.05v2.6h-3.05zM189 91.39h3.05v2.6h-3.05zM22.04 93.95h3.09v2.6h-3.09zM153 93.95h3.05v2.6h-3.05zM174 93.95h3.05v2.6h-3.05zM189 96.5h3.05v2.6h-3.05zM25.07 99.05h3.09v2.6h-3.09zM91.86 99.05h3.09v2.6h-3.09zM49.36 101.61h3.09v2.6h-3.09zM141 101.61h3.05v2.6h-3.05zM165 101.61h3.05v2.6h-3.05zM64.54 106.71h3.09v2.6h-3.09zM150 106.71h3.05v2.6h-3.05zM100.96 109.27h3.09v2.6h-3.09zM132 111.82h3.05v2.6h-3.05zM195 111.82h3.05v2.6h-3.05zM85.79 114.38h3.09v2.6h-3.09zM201 114.38h3.05v2.6h-3.05zM85.79 116.93h3.09v2.6h-3.09zM31.14 119.48h3.09v2.6h-3.09zM117 119.48h3.05v2.6h-3.05zM85.79 122.04h3.09v2.6h-3.09zM138 124.59h3.05v2.6h-3.05zM180 127.14h3.05v2.6h-3.05zM70.61 129.7h3.09v2.6h-3.09zM25.07 132.25h3.09v2.6h-3.09zM46.32 132.25h3.09v2.6h-3.09zM117 132.25h3.05v2.6h-3.05zM126 132.25h3.05v2.6h-3.05zM135 132.25h3.05v2.6h-3.05zM141 132.25h3.05v2.6h-3.05zM49.36 134.8h3.09v2.6h-3.09zM61.5 134.8h3.09v2.6h-3.09zM79.71 134.8h3.09v2.6h-3.09zM147 134.8h3.05v2.6h-3.05zM37.21 139.91h3.09v2.6h-3.09zM67.57 139.91h3.09v2.6h-3.09zM76.68 139.91h3.09v2.6h-3.09zM55.43 142.46h3.09v2.6h-3.09zM19 145.02h3.09v2.6h-3.09zM61.5 150.12h3.09v2.6h-3.09zM117 150.12h3.05v2.6h-3.05zM28.11 152.68h3.09v2.6h-3.09zM40.25 157.79h3.09v2.6h-3.09zM76.68 157.79h3.09v2.6h-3.09zM73.64 160.34h3.09v2.6h-3.09zM100.96 160.34h3.09v2.6h-3.09zM114 160.34h3.05v2.6h-3.05zM22.04 162.89h3.09v2.6h-3.09zM144 165.45h3.05v2.6h-3.05z"/>
<path fill="#f07854" d="M147 25h3.05v2.6h-3.05zM153 27.55h3.05v2.6h-3.05zM207 27.55h3.05v2.6h-3.05zM171 30.11h3.05v2.6h-3.05zM180 30.11h3.05v2.6h-3.05zM210 30.11h3.05v2.6h-3.05zM135 32.66h3.05v2.6h-3.05zM195 32.66h3.05v2.6h-3.05zM129 35.21h3.05v2.6h-3.05zM141 35.21h3.05v2.6h-3.05zM159 35.21h3.05v2.6h-3.05zM168 35.21h3.05v2.6h-3.05zM180 35.21h3.05v2.6h-3.05zM198 35.21h3.05v2.6h-3.05zM210 35.21h3.05v2.6h-3.05zM144 37.77h3.05v2.6h-3.05zM195 37.77h3.05v2.6h-3.05zM132 40.32h3.05v2.6h-3.05zM144 40.32h3.05v2.6h-3.05zM150 42.88h3.05v2.6h-3.05zM201 42.88h3.05v2.6h-3.05zM141 47.98h3.05v2.6h-3.05zM165 47.98h3.05v2.6h-3.05zM171 47.98h3.05v2.6h-3.05zM195 47.98h3.05v2.6h-3.05zM147 53.09h3.05v2.6h-3.05zM210 58.2h3.05v2.6h-3.05zM138 63.3h3.05v2.6h-3.05zM213 70.96h3.05v2.6h-3.05zM204 73.52h3.05v2.6h-3.05zM174 76.07h3.05v2.6h-3.05zM204 78.62h3.05v2.6h-3.05zM210 78.62h3.05v2.6h-3.05zM22.04 81.18h3.09v2.6h-3.09zM31.14 81.18h3.09v2.6h-3.09zM129 81.18h3.05v2.6h-3.05zM177 81.18h3.05v2.6h-3.05zM183 81.18h3.05v2.6h-3.05zM153 83.73h3.05v2.6h-3.05zM177 91.39h3.05v2.6h-3.05zM82.75 93.95h3.09v2.6h-3.09zM111 93.95h3.05v2.6h-3.05zM195 93.95h3.05v2.6h-3.05zM70.61 96.5h3.09v2.6h-3.09zM73.64 99.05h3.09v2.6h-3.09zM76.68 109.27h3.09v2.6h-3.09zM97.93 109.27h3.09v2.6h-3.09zM123 109.27h3.05v2.6h-3.05zM108 111.82h3.05v2.6h-3.05zM25.07 116.93h3.09v2.6h-3.09zM135 119.48h3.05v2.6h-3.05zM25.07 122.04h3.09v2.6h-3.09zM82.75 122.04h3.09v2.6h-3.09zM34.18 124.59h3.09v2.6h-3.09zM135 124.59h3.05v2.6h-3.05zM147 127.14h3.05v2.6h-3.05zM174 129.7h3.05v2.6h-3.05zM213 129.7h3.05v2.6h-3.05zM82.75 137.36h3.09v2.6h-3.09zM132 137.36h3.05v2.6h-3.05zM58.46 152.68h3.09v2.6h-3.09zM91.86 152.68h3.09v2.6h-3.09zM100.96 152.68h3.09v2.6h-3.09zM28.11 155.23h3.09v2.6h-3.09zM105 155.23h3.05v2.6h-3.05zM64.54 160.34h3.09v2.6h-3.09zM108 160.34h3.05v2.6h-3.05z"/>
<path fill="#fcc09c" d="M153 25h3.05v2.6h-3.05zM174 30.11h3.05v2.6h-3.05zM156 32.66h3.05v2.6h-3.05zM186 35.21h3.05v2.6h-3.05zM19 60.75h3.09v2.6h-3.09zM177 60.75h3.05v2.6h-3.05zM201 60.75h3.05v2.6h-3.05zM210 63.3h3.05v2.6h-3.05zM141 65.86h3.05v2.6h-3.05zM123 68.41h3.05v2.6h-3.05zM120 70.96h3.05v2.6h-3.05zM198 78.62h3.05v2.6h-3.05zM165 83.73h3.05v2.6h-3.05zM114 101.61h3.05v2.6h-3.05zM129 106.71h3.05v2.6h-3.05zM34.18 109.27h3.09v2.6h-3.09zM117 114.38h3.05v2.6h-3.05zM180 116.93h3.05v2.6h-3.05zM207 124.59h3.05v2.6h-3.05zM165 127.14h3.05v2.6h-3.05zM52.39 129.7h3.09v2.6h-3.09zM79.71 132.25h3.09v2.6h-3.09zM195 137.36h3.05v2.6h-3.05zM85.79 139.91h3.09v2.6h-3.09zM31.14 142.46h3.09v2.6h-3.09zM64.54 147.57h3.09v2.6h-3.09zM31.14 150.12h3.09v2.6h-3.09zM70.61 150.12h3.09v2.6h-3.09zM79.71 152.68h3.09v2.6h-3.09zM105 152.68h3.05v2.6h-3.05zM105 162.89h3.05v2.6h-3.05z"/>
<path fill="#f0603c" d="M156 25h3.05v2.6h-3.05zM153 37.77h3.05v2.6h-3.05zM213 45.43h3.05v2.6h-3.05zM174 50.54h3.05v2.6h-3.05zM192 50.54h3.05v2.6h-3.05zM135 53.09h3.05v2.6h-3.05zM171 53.09h3.05v2.6h-3.05zM186 63.3h3.05v2.6h-3.05zM153 68.41h3.05v2.6h-3.05zM108 70.96h3.05v2.6h-3.05zM147 70.96h3.05v2.6h-3.05zM165 70.96h3.05v2.6h-3.05zM108 81.18h3.05v2.6h-3.05zM111 81.18h3.05v2.6h-3.05zM210 86.29h3.05v2.6h-3.05zM108 91.39h3.05v2.6h-3.05zM126 99.05h3.05v2.6h-3.05zM105 101.61h3.05v2.6h-3.05zM108 106.71h3.05v2.6h-3.05zM111 106.71h3.05v2.6h-3.05zM22.04 109.27h3.09v2.6h-3.09zM159 109.27h3.05v2.6h-3.05zM168 114.38h3.05v2.6h-3.05zM174 114.38h3.05v2.6h-3.05zM85.79 119.48h3.09v2.6h-3.09zM97.93 119.48h3.09v2.6h-3.09zM174 122.04h3.05v2.6h-3.05zM79.71 124.59h3.09v2.6h-3.09zM94.89 124.59h3.09v2.6h-3.09zM144 127.14h3.05v2.6h-3.05zM25.07 129.7h3.09v2.6h-3.09zM46.32 142.46h3.09v2.6h-3.09zM111 145.02h3.05v2.6h-3.05zM31.14 147.57h3.09v2.6h-3.09zM37.21 147.57h3.09v2.6h-3.09zM22.04 155.23h3.09v2.6h-3.09zM105 157.79h3.05v2.6h-3.05zM25.07 160.34h3.09v2.6h-3.09zM97.93 162.89h3.09v2.6h-3.09z"/>
<path fill="#f09c78" d="M171 25h3.05v2.6h-3.05zM180 27.55h3.05v2.6h-3.05zM213 27.55h3.05v2.6h-3.05zM19 30.11h3.09v2.6h-3.09zM111 30.11h3.05v2.6h-3.05zM138 32.66h3.05v2.6h-3.05zM144 32.66h3.05v2.6h-3.05zM183 32.66h3.05v2.6h-3.05zM198 32.66h3.05v2.6h-3.05zM153 40.32h3.05v2.6h-3.05zM117 45.43h3.05v2.6h-3.05zM210 45.43h3.05v2.6h-3.05zM135 47.98h3.05v2.6h-3.05zM180 47.98h3.05v2.6h-3.05zM141 50.54h3.05v2.6h-3.05zM162 53.09h3.05v2.6h-3.05zM189 53.09h3.05v2.6h-3.05zM189 55.64h3.05v2.6h-3.05zM192 58.2h3.05v2.6h-3.05zM213 58.2h3.05v2.6h-3.05zM156 60.75h3.05v2.6h-3.05zM132 63.3h3.05v2.6h-3.05zM180 63.3h3.05v2.6h-3.05zM19 65.86h3.09v2.6h-3.09zM34.18 65.86h3.09v2.6h-3.09zM138 65.86h3.05v2.6h-3.05zM34.18 68.41h3.09v2.6h-3.09zM28.11 70.96h3.09v2.6h-3.09zM43.29 70.96h3.09v2.6h-3.09zM159 70.96h3.05v2.6h-3.05zM168 70.96h3.05v2.6h-3.05zM138 73.52h3.05v2.6h-3.05zM174 73.52h3.05v2.6h-3.05zM192 73.52h3.05v2.6h-3.05zM177 76.07h3.05v2.6h-3.05zM213 81.18h3.05v2.6h-3.05zM105 83.73h3.05v2.6h-3.05zM147 83.73h3.05v2.6h-3.05zM180 83.73h3.05v2.6h-3.05zM105 86.29h3.05v2.6h-3.05zM43.29 88.84h3.09v2.6h-3.09zM52.39 91.39h3.09v2.6h-3.09zM114 91.39h3.05v2.6h-3.05zM34.18 93.95h3.09v2.6h-3.09zM117 96.5h3.05v2.6h-3.05zM88.82 99.05h3.09v2.6h-3.09zM123 99.05h3.05v2.6h-3.05zM19 104.16h3.09v2.6h-3.09zM105 106.71h3.05v2.6h-3.05zM192 106.71h3.05v2.6h-3.05zM94.89 109.27h3.09v2.6h-3.09zM100.96 111.82h3.09v2.6h-3.09zM105 116.93h3.05v2.6h-3.05zM120 116.93h3.05v2.6h-3.05zM171 119.48h3.05v2.6h-3.05zM183 119.48h3.05v2.6h-3.05zM76.68 122.04h3.09v2.6h-3.09zM138 122.04h3.05v2.6h-3.05zM64.54 124.59h3.09v2.6h-3.09zM94.89 129.7h3.09v2.6h-3.09zM123 129.7h3.05v2.6h-3.05zM144 132.25h3.05v2.6h-3.05zM100.96 137.36h3.09v2.6h-3.09zM108 139.91h3.05v2.6h-3.05zM117 139.91h3.05v2.6h-3.05zM34.18 145.02h3.09v2.6h-3.09zM97.93 147.57h3.09v2.6h-3.09zM100.96 147.57h3.09v2.6h-3.09zM111 147.57h3.05v2.6h-3.05zM165 147.57h3.05v2.6h-3.05zM105 150.12h3.05v2.6h-3.05zM52.39 152.68h3.09v2.6h-3.09zM37.21 155.23h3.09v2.6h-3.09zM58.46 155.23h3.09v2.6h-3.09zM88.82 155.23h3.09v2.6h-3.09zM85.79 157.79h3.09v2.6h-3.09zM97.93 157.79h3.09v2.6h-3.09zM123 157.79h3.05v2.6h-3.05zM28.11 160.34h3.09v2.6h-3.09zM58.46 160.34h3.09v2.6h-3.09zM91.86 160.34h3.09v2.6h-3.09zM37.21 162.89h3.09v2.6h-3.09zM94.89 162.89h3.09v2.6h-3.09zM25.07 165.45h3.09v2.6h-3.09zM97.93 165.45h3.09v2.6h-3.09z"/>
<path fill="#fcd8c0" d="M174 25h3.05v2.6h-3.05zM183 25h3.05v2.6h-3.05zM198 25h3.05v2.6h-3.05zM141 27.55h3.05v2.6h-3.05zM22.04 30.11h3.09v2.6h-3.09zM120 30.11h3.05v2.6h-3.05zM123 30.11h3.05v2.6h-3.05zM177 30.11h3.05v2.6h-3.05zM141 32.66h3.05v2.6h-3.05zM25.07 37.77h3.09v2.6h-3.09zM159 37.77h3.05v2.6h-3.05zM162 37.77h3.05v2.6h-3.05zM204 37.77h3.05v2.6h-3.05zM159 42.88h3.05v2.6h-3.05zM153 50.54h3.05v2.6h-3.05zM180 50.54h3.05v2.6h-3.05zM120 53.09h3.05v2.6h-3.05zM195 53.09h3.05v2.6h-3.05zM159 55.64h3.05v2.6h-3.05zM162 55.64h3.05v2.6h-3.05zM174 55.64h3.05v2.6h-3.05zM156 58.2h3.05v2.6h-3.05zM186 58.2h3.05v2.6h-3.05zM207 60.75h3.05v2.6h-3.05zM22.04 63.3h3.09v2.6h-3.09zM144 63.3h3.05v2.6h-3.05zM150 68.41h3.05v2.6h-3.05zM180 68.41h3.05v2.6h-3.05zM55.43 70.96h3.09v2.6h-3.09zM123 70.96h3.05v2.6h-3.05zM19 73.52h3.09v2.6h-3.09zM150 73.52h3.05v2.6h-3.05zM207 73.52h3.05v2.6h-3.05zM49.36 76.07h3.09v2.6h-3.09zM204 76.07h3.05v2.6h-3.05zM171 78.62h3.05v2.6h-3.05zM192 78.62h3.05v2.6h-3.05zM183 83.73h3.05v2.6h-3.05zM123 86.29h3.05v2.6h-3.05zM162 88.84h3.05v2.6h-3.05zM204 88.84h3.05v2.6h-3.05zM159 91.39h3.05v2.6h-3.05zM19 93.95h3.09v2.6h-3.09zM43.29 93.95h3.09v2.6h-3.09zM40.25 96.5h3.09v2.6h-3.09zM165 96.5h3.05v2.6h-3.05zM159 99.05h3.05v2.6h-3.05zM168 99.05h3.05v2.6h-3.05zM22.04 101.61h3.09v2.6h-3.09zM61.5 104.16h3.09v2.6h-3.09zM76.68 104.16h3.09v2.6h-3.09zM150 104.16h3.05v2.6h-3.05zM171 104.16h3.05v2.6h-3.05zM183 104.16h3.05v2.6h-3.05zM189 104.16h3.05v2.6h-3.05zM120 106.71h3.05v2.6h-3.05zM186 106.71h3.05v2.6h-3.05zM31.14 109.27h3.09v2.6h-3.09zM177 109.27h3.05v2.6h-3.05zM46.32 111.82h3.09v2.6h-3.09zM105 111.82h3.05v2.6h-3.05zM111 111.82h3.05v2.6h-3.05zM162 111.82h3.05v2.6h-3.05zM40.25 114.38h3.09v2.6h-3.09zM58.46 114.38h3.09v2.6h-3.09zM180 114.38h3.05v2.6h-3.05zM183 114.38h3.05v2.6h-3.05zM97.93 116.93h3.09v2.6h-3.09zM189 116.93h3.05v2.6h-3.05zM28.11 119.48h3.09v2.6h-3.09zM129 119.48h3.05v2.6h-3.05zM64.54 122.04h3.09v2.6h-3.09zM67.57 122.04h3.09v2.6h-3.09zM88.82 122.04h3.09v2.6h-3.09zM195 122.04h3.05v2.6h-3.05zM55.43 129.7h3.09v2.6h-3.09zM85.79 129.7h3.09v2.6h-3.09zM105 129.7h3.05v2.6h-3.05zM73.64 132.25h3.09v2.6h-3.09zM25.07 134.8h3.09v2.6h-3.09zM58.46 134.8h3.09v2.6h-3.09zM132 134.8h3.05v2.6h-3.05zM19 137.36h3.09v2.6h-3.09zM25.07 137.36h3.09v2.6h-3.09zM43.29 137.36h3.09v2.6h-3.09zM150 137.36h3.05v2.6h-3.05zM162 137.36h3.05v2.6h-3.05zM73.64 139.91h3.09v2.6h-3.09zM70.61 142.46h3.09v2.6h-3.09zM46.32 147.57h3.09v2.6h-3.09zM55.43 150.12h3.09v2.6h-3.09zM79.71 155.23h3.09v2.6h-3.09zM97.93 155.23h3.09v2.6h-3.09zM114 155.23h3.05v2.6h-3.05zM43.29 157.79h3.09v2.6h-3.09zM61.5 157.79h3.09v2.6h-3.09zM147 157.79h3.05v2.6h-3.05zM183 157.79h3.05v2.6h-3.05zM70.61 160.34h3.09v2.6h-3.09zM76.68 160.34h3.09v2.6h-3.09zM40.25 162.89h3.09v2.6h-3.09zM111 162.89h3.05v2.6h-3.05z"/>
<path fill="#fcc0a8" d="M180 25h3.05v2.6h-3.05zM210 27.55h3.05v2.6h-3.05zM117 35.21h3.05v2.6h-3.05zM126 35.21h3.05v2.6h-3.05zM150 35.21h3.05v2.6h-3.05zM34.18 37.77h3.09v2.6h-3.09zM129 37.77h3.05v2.6h-3.05zM180 37.77h3.05v2.6h-3.05zM28.11 40.32h3.09v2.6h-3.09zM141 45.43h3.05v2.6h-3.05zM129 47.98h3.05v2.6h-3.05zM204 47.98h3.05v2.6h-3.05zM213 47.98h3.05v2.6h-3.05zM165 53.09h3.05v2.6h-3.05zM177 53.09h3.05v2.6h-3.05zM147 55.64h3.05v2.6h-3.05zM171 55.64h3.05v2.6h-3.05zM129 58.2h3.05v2.6h-3.05zM138 58.2h3.05v2.6h-3.05zM129 60.75h3.05v2.6h-3.05zM183 63.3h3.05v2.6h-3.05zM213 63.3h3.05v2.6h-3.05zM195 65.86h3.05v2.6h-3.05zM201 65.86h3.05v2.6h-3.05zM210 65.86h3.05v2.6h-3.05zM25.07 68.41h3.09v2.6h-3.09zM111 68.41h3.05v2.6h-3.05zM171 70.96h3.05v2.6h-3.05zM28.11 73.52h3.09v2.6h-3.09zM135 73.52h3.05v2.6h-3.05zM67.57 76.07h3.09v2.6h-3.09zM192 76.07h3.05v2.6h-3.05zM135 78.62h3.05v2.6h-3.05zM153 78.62h3.05v2.6h-3.05zM174 78.62h3.05v2.6h-3.05zM147 88.84h3.05v2.6h-3.05zM174 88.84h3.05v2.6h-3.05zM201 91.39h3.05v2.6h-3.05zM189 93.95h3.05v2.6h-3.05zM177 96.5h3.05v2.6h-3.05zM132 99.05h3.05v2.6h-3.05zM168 104.16h3.05v2.6h-3.05zM114 109.27h3.05v2.6h-3.05zM117 109.27h3.05v2.6h-3.05zM67.57 111.82h3.09v2.6h-3.09zM141 111.82h3.05v2.6h-3.05zM94.89 114.38h3.09v2.6h-3.09zM153 114.38h3.05v2.6h-3.05zM82.75 116.93h3.09v2.6h-3.09zM100.96 116.93h3.09v2.6h-3.09zM186 116.93h3.05v2.6h-3.05zM210 116.93h3.05v2.6h-3.05zM114 119.48h3.05v2.6h-3.05zM40.25 122.04h3.09v2.6h-3.09zM43.29 122.04h3.09v2.6h-3.09zM25.07 124.59h3.09v2.6h-3.09zM82.75 124.59h3.09v2.6h-3.09zM159 124.59h3.05v2.6h-3.05zM52.39 127.14h3.09v2.6h-3.09zM46.32 129.7h3.09v2.6h-3.09zM138 129.7h3.05v2.6h-3.05zM141 129.7h3.05v2.6h-3.05zM141 134.8h3.05v2.6h-3.05zM108 137.36h3.05v2.6h-3.05zM144 139.91h3.05v2.6h-3.05zM28.11 142.46h3.09v2.6h-3.09zM34.18 142.46h3.09v2.6h-3.09zM46.32 145.02h3.09v2.6h-3.09zM76.68 145.02h3.09v2.6h-3.09zM49.36 147.57h3.09v2.6h-3.09zM111 150.12h3.05v2.6h-3.05zM114 150.12h3.05v2.6h-3.05zM126 150.12h3.05v2.6h-3.05zM73.64 155.23h3.09v2.6h-3.09zM58.46 157.79h3.09v2.6h-3.09zM43.29 160.34h3.09v2.6h-3.09zM132 160.34h3.05v2.6h-3.05zM61.5 165.45h3.09v2.6h-3.09zM70.61 165.45h3.09v2.6h-3.09zM100.96 165.45h3.09v2.6h-3.09z"/>
<path fill="#fca884" d="M186 25h3.05v2.6h-3.05zM189 27.55h3.05v2.6h-3.05zM168 30.11h3.05v2.6h-3.05zM120 32.66h3.05v2.6h-3.05zM135 35.21h3.05v2.6h-3.05zM165 40.32h3.05v2.6h-3.05zM138 42.88h3.05v2.6h-3.05zM147 42.88h3.05v2.6h-3.05zM162 42.88h3.05v2.6h-3.05zM132 45.43h3.05v2.6h-3.05zM123 50.54h3.05v2.6h-3.05zM138 53.09h3.05v2.6h-3.05zM174 53.09h3.05v2.6h-3.05zM126 58.2h3.05v2.6h-3.05zM144 70.96h3.05v2.6h-3.05zM156 70.96h3.05v2.6h-3.05zM183 76.07h3.05v2.6h-3.05zM34.18 78.62h3.09v2.6h-3.09zM67.57 81.18h3.09v2.6h-3.09zM186 88.84h3.05v2.6h-3.05zM207 93.95h3.05v2.6h-3.05zM162 96.5h3.05v2.6h-3.05zM82.75 101.61h3.09v2.6h-3.09zM82.75 109.27h3.09v2.6h-3.09zM70.61 111.82h3.09v2.6h-3.09zM141 114.38h3.05v2.6h-3.05zM204 122.04h3.05v2.6h-3.05zM97.93 134.8h3.09v2.6h-3.09zM31.14 139.91h3.09v2.6h-3.09zM114 139.91h3.05v2.6h-3.05zM97.93 142.46h3.09v2.6h-3.09zM73.64 145.02h3.09v2.6h-3.09zM147 147.57h3.05v2.6h-3.05zM52.39 150.12h3.09v2.6h-3.09zM64.54 157.79h3.09v2.6h-3.09zM153 160.34h3.05v2.6h-3.05z"/>
<path fill="#f06c48" d="M189 25h3.05v2.6h-3.05zM201 25h3.05v2.6h-3.05zM198 27.55h3.05v2.6h-3.05zM162 30.11h3.05v2.6h-3.05zM159 32.66h3.05v2.6h-3.05zM171 32.66h3.05v2.6h-3.05zM201 32.66h3.05v2.6h-3.05zM210 32.66h3.05v2.6h-3.05zM141 40.32h3.05v2.6h-3.05zM207 40.32h3.05v2.6h-3.05zM168 42.88h3.05v2.6h-3.05zM207 42.88h3.05v2.6h-3.05zM135 45.43h3.05v2.6h-3.05zM150 45.43h3.05v2.6h-3.05zM168 45.43h3.05v2.6h-3.05zM204 45.43h3.05v2.6h-3.05zM189 47.98h3.05v2.6h-3.05zM159 53.09h3.05v2.6h-3.05zM186 53.09h3.05v2.6h-3.05zM192 53.09h3.05v2.6h-3.05zM198 53.09h3.05v2.6h-3.05zM141 55.64h3.05v2.6h-3.05zM168 58.2h3.05v2.6h-3.05zM159 60.75h3.05v2.6h-3.05zM162 60.75h3.05v2.6h-3.05zM22.04 68.41h3.09v2.6h-3.09zM186 70.96h3.05v2.6h-3.05zM177 73.52h3.05v2.6h-3.05zM189 73.52h3.05v2.6h-3.05zM198 73.52h3.05v2.6h-3.05zM201 73.52h3.05v2.6h-3.05zM213 73.52h3.05v2.6h-3.05zM213 76.07h3.05v2.6h-3.05zM156 78.62h3.05v2.6h-3.05zM147 81.18h3.05v2.6h-3.05zM153 81.18h3.05v2.6h-3.05zM111 86.29h3.05v2.6h-3.05zM153 86.29h3.05v2.6h-3.05zM156 86.29h3.05v2.6h-3.05zM159 86.29h3.05v2.6h-3.05zM198 88.84h3.05v2.6h-3.05zM213 88.84h3.05v2.6h-3.05zM108 93.95h3.05v2.6h-3.05zM79.71 96.5h3.09v2.6h-3.09zM180 96.5h3.05v2.6h-3.05zM100.96 99.05h3.09v2.6h-3.09zM105 99.05h3.05v2.6h-3.05zM147 101.61h3.05v2.6h-3.05zM79.71 104.16h3.09v2.6h-3.09zM105 104.16h3.05v2.6h-3.05zM114 104.16h3.05v2.6h-3.05zM168 111.82h3.05v2.6h-3.05zM37.21 114.38h3.09v2.6h-3.09zM168 119.48h3.05v2.6h-3.05zM174 119.48h3.05v2.6h-3.05zM100.96 127.14h3.09v2.6h-3.09zM159 127.14h3.05v2.6h-3.05zM174 127.14h3.05v2.6h-3.05zM31.14 137.36h3.09v2.6h-3.09zM73.64 137.36h3.09v2.6h-3.09zM85.79 137.36h3.09v2.6h-3.09zM180 137.36h3.05v2.6h-3.05zM25.07 139.91h3.09v2.6h-3.09zM61.5 139.91h3.09v2.6h-3.09zM111 139.91h3.05v2.6h-3.05zM114 142.46h3.05v2.6h-3.05zM25.07 145.02h3.09v2.6h-3.09zM108 147.57h3.05v2.6h-3.05zM100.96 150.12h3.09v2.6h-3.09zM19 162.89h3.09v2.6h-3.09zM52.39 162.89h3.09v2.6h-3.09z"/>
<path fill="#f09060" d="M192 25h3.05v2.6h-3.05zM25.07 30.11h3.09v2.6h-3.09zM150 32.66h3.05v2.6h-3.05zM177 35.21h3.05v2.6h-3.05zM147 37.77h3.05v2.6h-3.05zM138 47.98h3.05v2.6h-3.05zM117 50.54h3.05v2.6h-3.05zM156 50.54h3.05v2.6h-3.05zM177 55.64h3.05v2.6h-3.05zM171 63.3h3.05v2.6h-3.05zM192 65.86h3.05v2.6h-3.05zM61.5 81.18h3.09v2.6h-3.09zM174 81.18h3.05v2.6h-3.05zM28.11 88.84h3.09v2.6h-3.09zM28.11 91.39h3.09v2.6h-3.09zM141 104.16h3.05v2.6h-3.05zM82.75 106.71h3.09v2.6h-3.09zM91.86 106.71h3.09v2.6h-3.09zM19 114.38h3.09v2.6h-3.09zM31.14 114.38h3.09v2.6h-3.09zM156 114.38h3.05v2.6h-3.05zM165 114.38h3.05v2.6h-3.05zM180 119.48h3.05v2.6h-3.05zM97.93 124.59h3.09v2.6h-3.09zM88.82 129.7h3.09v2.6h-3.09zM105 139.91h3.05v2.6h-3.05zM37.21 145.02h3.09v2.6h-3.09zM46.32 150.12h3.09v2.6h-3.09zM25.07 152.68h3.09v2.6h-3.09zM37.21 152.68h3.09v2.6h-3.09zM61.5 152.68h3.09v2.6h-3.09zM70.61 155.23h3.09v2.6h-3.09z"/>
<path fill="#f08460" d="M195 25h3.05v2.6h-3.05zM34.18 27.55h3.09v2.6h-3.09zM201 27.55h3.05v2.6h-3.05zM126 30.11h3.05v2.6h-3.05zM138 30.11h3.05v2.6h-3.05zM153 30.11h3.05v2.6h-3.05zM201 30.11h3.05v2.6h-3.05zM189 35.21h3.05v2.6h-3.05zM204 35.21h3.05v2.6h-3.05zM186 37.77h3.05v2.6h-3.05zM135 40.32h3.05v2.6h-3.05zM147 40.32h3.05v2.6h-3.05zM180 40.32h3.05v2.6h-3.05zM183 40.32h3.05v2.6h-3.05zM189 42.88h3.05v2.6h-3.05zM147 45.43h3.05v2.6h-3.05zM147 47.98h3.05v2.6h-3.05zM156 47.98h3.05v2.6h-3.05zM150 50.54h3.05v2.6h-3.05zM204 50.54h3.05v2.6h-3.05zM213 50.54h3.05v2.6h-3.05zM138 55.64h3.05v2.6h-3.05zM144 55.64h3.05v2.6h-3.05zM153 55.64h3.05v2.6h-3.05zM210 55.64h3.05v2.6h-3.05zM153 58.2h3.05v2.6h-3.05zM204 58.2h3.05v2.6h-3.05zM177 65.86h3.05v2.6h-3.05zM186 68.41h3.05v2.6h-3.05zM213 68.41h3.05v2.6h-3.05zM153 70.96h3.05v2.6h-3.05zM192 70.96h3.05v2.6h-3.05zM207 70.96h3.05v2.6h-3.05zM153 73.52h3.05v2.6h-3.05zM55.43 76.07h3.09v2.6h-3.09zM159 76.07h3.05v2.6h-3.05zM111 78.62h3.05v2.6h-3.05zM186 78.62h3.05v2.6h-3.05zM195 78.62h3.05v2.6h-3.05zM105 81.18h3.05v2.6h-3.05zM162 81.18h3.05v2.6h-3.05zM189 81.18h3.05v2.6h-3.05zM195 81.18h3.05v2.6h-3.05zM147 86.29h3.05v2.6h-3.05zM49.36 88.84h3.09v2.6h-3.09zM180 93.95h3.05v2.6h-3.05zM76.68 96.5h3.09v2.6h-3.09zM70.61 101.61h3.09v2.6h-3.09zM120 101.61h3.05v2.6h-3.05zM153 101.61h3.05v2.6h-3.05zM22.04 104.16h3.09v2.6h-3.09zM64.54 111.82h3.09v2.6h-3.09zM120 114.38h3.05v2.6h-3.05zM159 114.38h3.05v2.6h-3.05zM186 114.38h3.05v2.6h-3.05zM91.86 116.93h3.09v2.6h-3.09zM147 119.48h3.05v2.6h-3.05zM61.5 124.59h3.09v2.6h-3.09zM198 124.59h3.05v2.6h-3.05zM19 127.14h3.09v2.6h-3.09zM73.64 127.14h3.09v2.6h-3.09zM88.82 127.14h3.09v2.6h-3.09zM162 127.14h3.05v2.6h-3.05zM97.93 129.7h3.09v2.6h-3.09zM183 129.7h3.05v2.6h-3.05zM28.11 134.8h3.09v2.6h-3.09zM52.39 134.8h3.09v2.6h-3.09zM22.04 139.91h3.09v2.6h-3.09zM40.25 145.02h3.09v2.6h-3.09zM25.07 155.23h3.09v2.6h-3.09zM31.14 155.23h3.09v2.6h-3.09zM46.32 155.23h3.09v2.6h-3.09zM114 157.79h3.05v2.6h-3.05zM55.43 160.34h3.09v2.6h-3.09zM46.32 162.89h3.09v2.6h-3.09zM82.75 162.89h3.09v2.6h-3.09zM85.79 165.45h3.09v2.6h-3.09z"/>
<path fill="#fcccb4" d="M204 25h3.05v2.6h-3.05zM207 25h3.05v2.6h-3.05zM132 27.55h3.05v2.6h-3.05zM168 27.55h3.05v2.6h-3.05zM189 32.66h3.05v2.6h-3.05zM40.25 35.21h3.09v2.6h-3.09zM174 35.21h3.05v2.6h-3.05zM108 37.77h3.05v2.6h-3.05zM126 40.32h3.05v2.6h-3.05zM129 40.32h3.05v2.6h-3.05zM180 42.88h3.05v2.6h-3.05zM138 45.43h3.05v2.6h-3.05zM192 45.43h3.05v2.6h-3.05zM177 47.98h3.05v2.6h-3.05zM114 50.54h3.05v2.6h-3.05zM19 53.09h3.09v2.6h-3.09zM186 55.64h3.05v2.6h-3.05zM159 63.3h3.05v2.6h-3.05zM177 63.3h3.05v2.6h-3.05zM192 63.3h3.05v2.6h-3.05zM168 65.86h3.05v2.6h-3.05zM204 65.86h3.05v2.6h-3.05zM88.82 68.41h3.09v2.6h-3.09zM126 70.96h3.05v2.6h-3.05zM73.64 73.52h3.09v2.6h-3.09zM171 73.52h3.05v2.6h-3.05zM34.18 76.07h3.09v2.6h-3.09zM144 78.62h3.05v2.6h-3.05zM91.86 81.18h3.09v2.6h-3.09zM46.32 83.73h3.09v2.6h-3.09zM114 83.73h3.05v2.6h-3.05zM210 83.73h3.05v2.6h-3.05zM195 86.29h3.05v2.6h-3.05zM46.32 88.84h3.09v2.6h-3.09zM183 88.84h3.05v2.6h-3.05zM117 91.39h3.05v2.6h-3.05zM192 91.39h3.05v2.6h-3.05zM195 91.39h3.05v2.6h-3.05zM186 93.95h3.05v2.6h-3.05zM114 99.05h3.05v2.6h-3.05zM150 99.05h3.05v2.6h-3.05zM64.54 104.16h3.09v2.6h-3.09zM117 106.71h3.05v2.6h-3.05zM46.32 109.27h3.09v2.6h-3.09zM55.43 109.27h3.09v2.6h-3.09zM174 109.27h3.05v2.6h-3.05zM126 111.82h3.05v2.6h-3.05zM180 111.82h3.05v2.6h-3.05zM132 114.38h3.05v2.6h-3.05zM123 116.93h3.05v2.6h-3.05zM150 116.93h3.05v2.6h-3.05zM153 116.93h3.05v2.6h-3.05zM55.43 119.48h3.09v2.6h-3.09zM126 119.48h3.05v2.6h-3.05zM132 119.48h3.05v2.6h-3.05zM55.43 122.04h3.09v2.6h-3.09zM153 127.14h3.05v2.6h-3.05zM183 127.14h3.05v2.6h-3.05zM58.46 129.7h3.09v2.6h-3.09zM28.11 132.25h3.09v2.6h-3.09zM171 132.25h3.05v2.6h-3.05zM186 132.25h3.05v2.6h-3.05zM22.04 137.36h3.09v2.6h-3.09zM126 137.36h3.05v2.6h-3.05zM129 137.36h3.05v2.6h-3.05zM52.39 139.91h3.09v2.6h-3.09zM28.11 145.02h3.09v2.6h-3.09zM19 147.57h3.09v2.6h-3.09zM40.25 147.57h3.09v2.6h-3.09zM58.46 147.57h3.09v2.6h-3.09zM82.75 147.57h3.09v2.6h-3.09zM91.86 147.57h3.09v2.6h-3.09zM114 147.57h3.05v2.6h-3.05zM40.25 150.12h3.09v2.6h-3.09zM67.57 150.12h3.09v2.6h-3.09zM76.68 150.12h3.09v2.6h-3.09zM76.68 152.68h3.09v2.6h-3.09zM64.54 155.23h3.09v2.6h-3.09zM28.11 157.79h3.09v2.6h-3.09zM91.86 157.79h3.09v2.6h-3.09zM141 157.79h3.05v2.6h-3.05zM108 162.89h3.05v2.6h-3.05zM76.68 165.45h3.09v2.6h-3.09z"/>
<path fill="#e45430" d="M22.04 27.55h3.09v2.6h-3.09zM144 27.55h3.05v2.6h-3.05zM156 27.55h3.05v2.6h-3.05zM192 27.55h3.05v2.6h-3.05zM195 27.55h3.05v2.6h-3.05zM141 30.11h3.05v2.6h-3.05zM147 32.66h3.05v2.6h-3.05zM153 32.66h3.05v2.6h-3.05zM162 32.66h3.05v2.6h-3.05zM213 32.66h3.05v2.6h-3.05zM192 35.21h3.05v2.6h-3.05zM144 45.43h3.05v2.6h-3.05zM201 45.43h3.05v2.6h-3.05zM198 50.54h3.05v2.6h-3.05zM159 58.2h3.05v2.6h-3.05zM207 58.2h3.05v2.6h-3.05zM204 60.75h3.05v2.6h-3.05zM210 60.75h3.05v2.6h-3.05zM207 63.3h3.05v2.6h-3.05zM123 81.18h3.05v2.6h-3.05zM168 81.18h3.05v2.6h-3.05zM61.5 83.73h3.09v2.6h-3.09zM162 83.73h3.05v2.6h-3.05zM183 86.29h3.05v2.6h-3.05zM117 99.05h3.05v2.6h-3.05zM165 99.05h3.05v2.6h-3.05zM111 104.16h3.05v2.6h-3.05zM159 106.71h3.05v2.6h-3.05zM70.61 109.27h3.09v2.6h-3.09zM150 129.7h3.05v2.6h-3.05zM91.86 139.91h3.09v2.6h-3.09zM55.43 155.23h3.09v2.6h-3.09zM126 155.23h3.05v2.6h-3.05zM100.96 157.79h3.09v2.6h-3.09z"/>
<path fill="#9c84d8" d="M25.07 27.55h3.09v2.6h-3.09z"/>
<path fill="#786ccc" d="M52.39 27.55h3.09v2.6h-3.09zM180 32.66h3.05v2.6h-3.05zM108 35.21h3.05v2.6h-3.05zM58.46 37.77h3.09v2.6h-3.09zM19 40.32h3.09v2.6h-3.09zM25.07 40.32h3.09v2.6h-3.09zM58.46 40.32h3.09v2.6h-3.09zM91.86 42.88h3.09v2.6h-3.09zM25.07 45.43h3.09v2.6h-3.09zM55.43 45.43h3.09v2.6h-3.09zM88.82 45.43h3.09v2.6h-3.09zM34.18 47.98h3.09v2.6h-3.09zM67.57 47.98h3.09v2.6h-3.09zM70.61 47.98h3.09v2.6h-3.09zM40.25 50.54h3.09v2.6h-3.09zM52.39 50.54h3.09v2.6h-3.09zM85.79 50.54h3.09v2.6h-3.09zM88.82 50.54h3.09v2.6h-3.09zM94.89 50.54h3.09v2.6h-3.09zM22.04 53.09h3.09v2.6h-3.09zM52.39 53.09h3.09v2.6h-3.09zM88.82 53.09h3.09v2.6h-3.09zM91.86 53.09h3.09v2.6h-3.09zM100.96 53.09h3.09v2.6h-3.09zM19 55.64h3.09v2.6h-3.09zM64.54 55.64h3.09v2.6h-3.09zM85.79 55.64h3.09v2.6h-3.09zM88.82 55.64h3.09v2.6h-3.09zM100.96 55.64h3.09v2.6h-3.09zM61.5 58.2h3.09v2.6h-3.09zM67.57 58.2h3.09v2.6h-3.09zM73.64 58.2h3.09v2.6h-3.09zM97.93 63.3h3.09v2.6h-3.09zM37.21 65.86h3.09v2.6h-3.09zM46.32 65.86h3.09v2.6h-3.09zM70.61 65.86h3.09v2.6h-3.09zM67.57 68.41h3.09v2.6h-3.09zM70.61 68.41h3.09v2.6h-3.09zM85.79 73.52h3.09v2.6h-3.09zM120 78.62h3.05v2.6h-3.05zM76.68 81.18h3.09v2.6h-3.09zM97.93 81.18h3.09v2.6h-3.09zM43.29 83.73h3.09v2.6h-3.09zM52.39 83.73h3.09v2.6h-3.09zM64.54 83.73h3.09v2.6h-3.09zM100.96 86.29h3.09v2.6h-3.09zM117 86.29h3.05v2.6h-3.05zM76.68 88.84h3.09v2.6h-3.09zM76.68 91.39h3.09v2.6h-3.09zM85.79 91.39h3.09v2.6h-3.09zM126 93.95h3.05v2.6h-3.05zM43.29 99.05h3.09v2.6h-3.09zM34.18 101.61h3.09v2.6h-3.09zM195 104.16h3.05v2.6h-3.05zM201 104.16h3.05v2.6h-3.05zM213 109.27h3.05v2.6h-3.05zM198 114.38h3.05v2.6h-3.05zM108 122.04h3.05v2.6h-3.05zM192 122.04h3.05v2.6h-3.05zM180 124.59h3.05v2.6h-3.05zM123 127.14h3.05v2.6h-3.05zM192 127.14h3.05v2.6h-3.05zM210 132.25h3.05v2.6h-3.05zM79.71 137.36h3.09v2.6h-3.09zM147 139.91h3.05v2.6h-3.05zM168 139.91h3.05v2.6h-3.05zM186 139.91h3.05v2.6h-3.05zM183 142.46h3.05v2.6h-3.05zM213 142.46h3.05v2.6h-3.05zM213 145.02h3.05v2.6h-3.05zM132 147.57h3.05v2.6h-3.05zM159 147.57h3.05v2.6h-3.05zM213 150.12h3.05v2.6h-3.05zM204 152.68h3.05v2.6h-3.05zM153 157.79h3.05v2.6h-3.05zM168 157.79h3.05v2.6h-3.05zM210 157.79h3.05v2.6h-3.05zM204 160.34h3.05v2.6h-3.05zM73.64 162.89h3.09v2.6h-3.09z"/>
<path fill="#9084d8" d="M61.5 27.55h3.09v2.6h-3.09zM64.54 27.55h3.09v2.6h-3.09zM183 27.55h3.05v2.6h-3.05zM64.54 30.11h3.09v2.6h-3.09zM79.71 30.11h3.09v2.6h-3.09zM129 30.11h3.05v2.6h-3.05zM19 32.66h3.09v2.6h-3.09zM43.29 32.66h3.09v2.6h-3.09zM82.75 32.66h3.09v2.6h-3.09zM85.79 32.66h3.09v2.6h-3.09zM19 37.77h3.09v2.6h-3.09zM46.32 37.77h3.09v2.6h-3.09zM34.18 40.32h3.09v2.6h-3.09zM85.79 40.32h3.09v2.6h-3.09zM46.32 42.88h3.09v2.6h-3.09zM61.5 42.88h3.09v2.6h-3.09zM100.96 42.88h3.09v2.6h-3.09zM61.5 45.43h3.09v2.6h-3.09zM22.04 47.98h3.09v2.6h-3.09zM22.04 50.54h3.09v2.6h-3.09zM58.46 53.09h3.09v2.6h-3.09zM28.11 55.64h3.09v2.6h-3.09zM123 55.64h3.05v2.6h-3.05zM25.07 58.2h3.09v2.6h-3.09zM91.86 60.75h3.09v2.6h-3.09zM76.68 63.3h3.09v2.6h-3.09zM135 63.3h3.05v2.6h-3.05zM67.57 65.86h3.09v2.6h-3.09zM91.86 65.86h3.09v2.6h-3.09zM94.89 65.86h3.09v2.6h-3.09zM49.36 68.41h3.09v2.6h-3.09zM105 68.41h3.05v2.6h-3.05zM70.61 73.52h3.09v2.6h-3.09zM76.68 73.52h3.09v2.6h-3.09zM144 73.52h3.05v2.6h-3.05zM94.89 76.07h3.09v2.6h-3.09zM150 76.07h3.05v2.6h-3.05zM64.54 81.18h3.09v2.6h-3.09zM126 83.73h3.05v2.6h-3.05zM120 86.29h3.05v2.6h-3.05zM58.46 88.84h3.09v2.6h-3.09zM82.75 88.84h3.09v2.6h-3.09zM85.79 88.84h3.09v2.6h-3.09zM135 88.84h3.05v2.6h-3.05zM189 88.84h3.05v2.6h-3.05zM70.61 91.39h3.09v2.6h-3.09zM141 91.39h3.05v2.6h-3.05zM174 91.39h3.05v2.6h-3.05zM55.43 93.95h3.09v2.6h-3.09zM105 93.95h3.05v2.6h-3.05zM129 93.95h3.05v2.6h-3.05zM132 96.5h3.05v2.6h-3.05zM144 96.5h3.05v2.6h-3.05zM210 96.5h3.05v2.6h-3.05zM186 99.05h3.05v2.6h-3.05zM46.32 101.61h3.09v2.6h-3.09zM70.61 104.16h3.09v2.6h-3.09zM150 109.27h3.05v2.6h-3.05zM97.93 111.82h3.09v2.6h-3.09zM138 114.38h3.05v2.6h-3.05zM88.82 119.48h3.09v2.6h-3.09zM186 124.59h3.05v2.6h-3.05zM186 127.14h3.05v2.6h-3.05zM43.29 132.25h3.09v2.6h-3.09zM213 132.25h3.05v2.6h-3.05zM67.57 137.36h3.09v2.6h-3.09zM117 137.36h3.05v2.6h-3.05zM174 137.36h3.05v2.6h-3.05zM183 137.36h3.05v2.6h-3.05zM204 137.36h3.05v2.6h-3.05zM49.36 139.91h3.09v2.6h-3.09zM126 139.91h3.05v2.6h-3.05zM207 139.91h3.05v2.6h-3.05zM105 142.46h3.05v2.6h-3.05zM141 142.46h3.05v2.6h-3.05zM123 145.02h3.05v2.6h-3.05zM183 145.02h3.05v2.6h-3.05zM195 145.02h3.05v2.6h-3.05zM156 147.57h3.05v2.6h-3.05zM213 147.57h3.05v2.6h-3.05zM138 150.12h3.05v2.6h-3.05zM153 150.12h3.05v2.6h-3.05zM117 152.68h3.05v2.6h-3.05zM144 152.68h3.05v2.6h-3.05zM165 152.68h3.05v2.6h-3.05zM168 152.68h3.05v2.6h-3.05zM165 155.23h3.05v2.6h-3.05zM171 155.23h3.05v2.6h-3.05zM132 157.79h3.05v2.6h-3.05zM144 157.79h3.05v2.6h-3.05zM174 157.79h3.05v2.6h-3.05zM195 157.79h3.05v2.6h-3.05zM31.14 160.34h3.09v2.6h-3.09zM183 160.34h3.05v2.6h-3.05zM162 162.89h3.05v2.6h-3.05zM126 165.45h3.05v2.6h-3.05zM132 165.45h3.05v2.6h-3.05zM135 165.45h3.05v2.6h-3.05zM147 165.45h3.05v2.6h-3.05zM198 165.45h3.05v2.6h-3.05z"/>
<path fill="#c0b4e4" d="M67.57 27.55h3.09v2.6h-3.09zM40.25 30.11h3.09v2.6h-3.09zM100.96 30.11h3.09v2.6h-3.09zM28.11 32.66h3.09v2.6h-3.09zM91.86 37.77h3.09v2.6h-3.09zM43.29 45.43h3.09v2.6h-3.09zM108 45.43h3.05v2.6h-3.05zM25.07 50.54h3.09v2.6h-3.09zM28.11 50.54h3.09v2.6h-3.09zM108 50.54h3.05v2.6h-3.05zM40.25 55.64h3.09v2.6h-3.09zM70.61 58.2h3.09v2.6h-3.09zM43.29 63.3h3.09v2.6h-3.09zM58.46 63.3h3.09v2.6h-3.09zM85.79 63.3h3.09v2.6h-3.09zM162 63.3h3.05v2.6h-3.05zM207 68.41h3.05v2.6h-3.05zM49.36 73.52h3.09v2.6h-3.09zM79.71 76.07h3.09v2.6h-3.09zM85.79 76.07h3.09v2.6h-3.09zM114 76.07h3.05v2.6h-3.05zM61.5 78.62h3.09v2.6h-3.09zM25.07 83.73h3.09v2.6h-3.09zM159 83.73h3.05v2.6h-3.05zM49.36 86.29h3.09v2.6h-3.09zM37.21 88.84h3.09v2.6h-3.09zM34.18 91.39h3.09v2.6h-3.09zM144 93.95h3.05v2.6h-3.05zM52.39 99.05h3.09v2.6h-3.09zM195 99.05h3.05v2.6h-3.05zM213 99.05h3.05v2.6h-3.05zM153 104.16h3.05v2.6h-3.05zM156 116.93h3.05v2.6h-3.05zM183 116.93h3.05v2.6h-3.05zM201 116.93h3.05v2.6h-3.05zM46.32 119.48h3.09v2.6h-3.09zM70.61 122.04h3.09v2.6h-3.09zM52.39 124.59h3.09v2.6h-3.09zM150 124.59h3.05v2.6h-3.05zM58.46 127.14h3.09v2.6h-3.09zM195 129.7h3.05v2.6h-3.05zM82.75 132.25h3.09v2.6h-3.09zM123 139.91h3.05v2.6h-3.05zM213 139.91h3.05v2.6h-3.05zM70.61 145.02h3.09v2.6h-3.09zM150 147.57h3.05v2.6h-3.05zM168 155.23h3.05v2.6h-3.05zM120 162.89h3.05v2.6h-3.05zM165 162.89h3.05v2.6h-3.05z"/>
<path fill="#a8a8e4" d="M79.71 27.55h3.09v2.6h-3.09zM67.57 40.32h3.09v2.6h-3.09zM88.82 40.32h3.09v2.6h-3.09zM123 47.98h3.05v2.6h-3.05zM94.89 55.64h3.09v2.6h-3.09zM22.04 60.75h3.09v2.6h-3.09zM67.57 60.75h3.09v2.6h-3.09zM40.25 63.3h3.09v2.6h-3.09zM28.11 65.86h3.09v2.6h-3.09zM100.96 65.86h3.09v2.6h-3.09zM70.61 76.07h3.09v2.6h-3.09zM88.82 76.07h3.09v2.6h-3.09zM156 76.07h3.05v2.6h-3.05zM165 93.95h3.05v2.6h-3.05zM34.18 104.16h3.09v2.6h-3.09zM82.75 104.16h3.09v2.6h-3.09zM171 106.71h3.05v2.6h-3.05zM135 111.82h3.05v2.6h-3.05zM34.18 129.7h3.09v2.6h-3.09zM117 129.7h3.05v2.6h-3.05zM67.57 134.8h3.09v2.6h-3.09zM168 137.36h3.05v2.6h-3.05zM180 139.91h3.05v2.6h-3.05zM189 139.91h3.05v2.6h-3.05zM123 142.46h3.05v2.6h-3.05zM177 147.57h3.05v2.6h-3.05zM195 147.57h3.05v2.6h-3.05zM189 157.79h3.05v2.6h-3.05zM198 157.79h3.05v2.6h-3.05zM34.18 162.89h3.09v2.6h-3.09z"/>
<path fill="#6054c0" d="M105 27.55h3.05v2.6h-3.05zM31.14 32.66h3.09v2.6h-3.09zM67.57 35.21h3.09v2.6h-3.09zM70.61 35.21h3.09v2.6h-3.09zM73.64 37.77h3.09v2.6h-3.09zM82.75 37.77h3.09v2.6h-3.09zM79.71 40.32h3.09v2.6h-3.09zM67.57 42.88h3.09v2.6h-3.09zM52.39 45.43h3.09v2.6h-3.09zM76.68 45.43h3.09v2.6h-3.09zM97.93 45.43h3.09v2.6h-3.09zM64.54 47.98h3.09v2.6h-3.09zM79.71 47.98h3.09v2.6h-3.09zM61.5 50.54h3.09v2.6h-3.09zM34.18 53.09h3.09v2.6h-3.09zM70.61 53.09h3.09v2.6h-3.09zM79.71 53.09h3.09v2.6h-3.09zM97.93 53.09h3.09v2.6h-3.09zM52.39 55.64h3.09v2.6h-3.09zM31.14 60.75h3.09v2.6h-3.09zM100.96 60.75h3.09v2.6h-3.09zM37.21 63.3h3.09v2.6h-3.09zM85.79 68.41h3.09v2.6h-3.09zM82.75 70.96h3.09v2.6h-3.09zM64.54 73.52h3.09v2.6h-3.09zM58.46 78.62h3.09v2.6h-3.09zM49.36 81.18h3.09v2.6h-3.09zM58.46 86.29h3.09v2.6h-3.09zM79.71 86.29h3.09v2.6h-3.09zM64.54 88.84h3.09v2.6h-3.09zM150 88.84h3.05v2.6h-3.05zM153 88.84h3.05v2.6h-3.05zM177 88.84h3.05v2.6h-3.05zM19 91.39h3.09v2.6h-3.09zM46.32 93.95h3.09v2.6h-3.09zM97.93 93.95h3.09v2.6h-3.09zM100.96 93.95h3.09v2.6h-3.09zM94.89 101.61h3.09v2.6h-3.09zM162 101.61h3.05v2.6h-3.05zM213 104.16h3.05v2.6h-3.05zM189 106.71h3.05v2.6h-3.05zM40.25 109.27h3.09v2.6h-3.09zM198 109.27h3.05v2.6h-3.05zM207 119.48h3.05v2.6h-3.05zM100.96 129.7h3.09v2.6h-3.09zM210 129.7h3.05v2.6h-3.05zM105 132.25h3.05v2.6h-3.05zM144 134.8h3.05v2.6h-3.05zM201 139.91h3.05v2.6h-3.05zM165 142.46h3.05v2.6h-3.05zM141 145.02h3.05v2.6h-3.05zM153 145.02h3.05v2.6h-3.05zM210 145.02h3.05v2.6h-3.05zM189 147.57h3.05v2.6h-3.05zM174 150.12h3.05v2.6h-3.05zM195 152.68h3.05v2.6h-3.05zM207 152.68h3.05v2.6h-3.05zM138 155.23h3.05v2.6h-3.05zM204 155.23h3.05v2.6h-3.05zM207 155.23h3.05v2.6h-3.05zM213 155.23h3.05v2.6h-3.05zM150 157.79h3.05v2.6h-3.05zM201 157.79h3.05v2.6h-3.05zM123 160.34h3.05v2.6h-3.05zM162 160.34h3.05v2.6h-3.05zM135 162.89h3.05v2.6h-3.05zM192 162.89h3.05v2.6h-3.05zM210 162.89h3.05v2.6h-3.05zM210 165.45h3.05v2.6h-3.05z"/>
<path fill="#f0f0fc" d="M108 27.55h3.05v2.6h-3.05zM43.29 30.11h3.09v2.6h-3.09zM55.43 32.66h3.09v2.6h-3.09zM177 32.66h3.05v2.6h-3.05zM156 35.21h3.05v2.6h-3.05zM88.82 37.77h3.09v2.6h-3.09zM105 37.77h3.05v2.6h-3.05zM132 37.77h3.05v2.6h-3.05zM183 37.77h3.05v2.6h-3.05zM28.11 42.88h3.09v2.6h-3.09zM19 45.43h3.09v2.6h-3.09zM132 47.98h3.05v2.6h-3.05zM31.14 53.09h3.09v2.6h-3.09zM85.79 53.09h3.09v2.6h-3.09zM168 53.09h3.05v2.6h-3.05zM111 55.64h3.05v2.6h-3.05zM34.18 58.2h3.09v2.6h-3.09zM147 58.2h3.05v2.6h-3.05zM85.79 60.75h3.09v2.6h-3.09zM108 60.75h3.05v2.6h-3.05zM123 63.3h3.05v2.6h-3.05zM58.46 65.86h3.09v2.6h-3.09zM117 68.41h3.05v2.6h-3.05zM79.71 73.52h3.09v2.6h-3.09zM94.89 73.52h3.09v2.6h-3.09zM111 73.52h3.05v2.6h-3.05zM120 73.52h3.05v2.6h-3.05zM180 73.52h3.05v2.6h-3.05zM46.32 76.07h3.09v2.6h-3.09zM82.75 76.07h3.09v2.6h-3.09zM171 76.07h3.05v2.6h-3.05zM70.61 78.62h3.09v2.6h-3.09zM79.71 78.62h3.09v2.6h-3.09zM85.79 78.62h3.09v2.6h-3.09zM79.71 81.18h3.09v2.6h-3.09zM19 86.29h3.09v2.6h-3.09zM40.25 86.29h3.09v2.6h-3.09zM144 86.29h3.05v2.6h-3.05zM171 86.29h3.05v2.6h-3.05zM201 86.29h3.05v2.6h-3.05zM25.07 88.84h3.09v2.6h-3.09zM31.14 88.84h3.09v2.6h-3.09zM67.57 88.84h3.09v2.6h-3.09zM55.43 91.39h3.09v2.6h-3.09zM94.89 91.39h3.09v2.6h-3.09zM97.93 91.39h3.09v2.6h-3.09zM150 91.39h3.05v2.6h-3.05zM61.5 93.95h3.09v2.6h-3.09zM73.64 93.95h3.09v2.6h-3.09zM94.89 93.95h3.09v2.6h-3.09zM135 93.95h3.05v2.6h-3.05zM204 93.95h3.05v2.6h-3.05zM97.93 96.5h3.09v2.6h-3.09zM141 96.5h3.05v2.6h-3.05zM147 96.5h3.05v2.6h-3.05zM150 96.5h3.05v2.6h-3.05zM183 96.5h3.05v2.6h-3.05zM201 96.5h3.05v2.6h-3.05zM144 101.61h3.05v2.6h-3.05zM201 101.61h3.05v2.6h-3.05zM25.07 104.16h3.09v2.6h-3.09zM28.11 104.16h3.09v2.6h-3.09zM40.25 104.16h3.09v2.6h-3.09zM123 104.16h3.05v2.6h-3.05zM46.32 106.71h3.09v2.6h-3.09zM76.68 106.71h3.09v2.6h-3.09zM97.93 106.71h3.09v2.6h-3.09zM156 106.71h3.05v2.6h-3.05zM37.21 109.27h3.09v2.6h-3.09zM171 109.27h3.05v2.6h-3.05zM180 109.27h3.05v2.6h-3.05zM58.46 111.82h3.09v2.6h-3.09zM61.5 111.82h3.09v2.6h-3.09zM79.71 111.82h3.09v2.6h-3.09zM88.82 111.82h3.09v2.6h-3.09zM144 111.82h3.05v2.6h-3.05zM150 111.82h3.05v2.6h-3.05zM183 111.82h3.05v2.6h-3.05zM201 111.82h3.05v2.6h-3.05zM67.57 114.38h3.09v2.6h-3.09zM150 114.38h3.05v2.6h-3.05zM31.14 116.93h3.09v2.6h-3.09zM40.25 116.93h3.09v2.6h-3.09zM61.5 116.93h3.09v2.6h-3.09zM195 116.93h3.05v2.6h-3.05zM52.39 119.48h3.09v2.6h-3.09zM67.57 119.48h3.09v2.6h-3.09zM144 119.48h3.05v2.6h-3.05zM61.5 122.04h3.09v2.6h-3.09zM183 122.04h3.05v2.6h-3.05zM67.57 124.59h3.09v2.6h-3.09zM88.82 124.59h3.09v2.6h-3.09zM144 124.59h3.05v2.6h-3.05zM153 124.59h3.05v2.6h-3.05zM156 124.59h3.05v2.6h-3.05zM31.14 127.14h3.09v2.6h-3.09zM46.32 127.14h3.09v2.6h-3.09zM55.43 127.14h3.09v2.6h-3.09zM120 127.14h3.05v2.6h-3.05zM126 127.14h3.05v2.6h-3.05zM138 127.14h3.05v2.6h-3.05zM198 127.14h3.05v2.6h-3.05zM64.54 129.7h3.09v2.6h-3.09zM67.57 129.7h3.09v2.6h-3.09zM79.71 129.7h3.09v2.6h-3.09zM40.25 132.25h3.09v2.6h-3.09zM52.39 132.25h3.09v2.6h-3.09zM67.57 132.25h3.09v2.6h-3.09zM114 132.25h3.05v2.6h-3.05zM123 132.25h3.05v2.6h-3.05zM138 132.25h3.05v2.6h-3.05zM156 132.25h3.05v2.6h-3.05zM165 132.25h3.05v2.6h-3.05zM70.61 134.8h3.09v2.6h-3.09zM100.96 134.8h3.09v2.6h-3.09zM105 134.8h3.05v2.6h-3.05zM37.21 137.36h3.09v2.6h-3.09zM40.25 137.36h3.09v2.6h-3.09zM189 137.36h3.05v2.6h-3.05zM64.54 139.91h3.09v2.6h-3.09zM70.61 139.91h3.09v2.6h-3.09zM88.82 139.91h3.09v2.6h-3.09zM19 142.46h3.09v2.6h-3.09zM79.71 142.46h3.09v2.6h-3.09zM174 142.46h3.05v2.6h-3.05zM94.89 145.02h3.09v2.6h-3.09zM198 145.02h3.05v2.6h-3.05zM22.04 147.57h3.09v2.6h-3.09zM174 147.57h3.05v2.6h-3.05zM180 147.57h3.05v2.6h-3.05zM64.54 150.12h3.09v2.6h-3.09zM177 150.12h3.05v2.6h-3.05zM174 152.68h3.05v2.6h-3.05zM43.29 155.23h3.09v2.6h-3.09zM123 155.23h3.05v2.6h-3.05zM156 155.23h3.05v2.6h-3.05zM79.71 157.79h3.09v2.6h-3.09zM22.04 160.34h3.09v2.6h-3.09zM168 160.34h3.05v2.6h-3.05zM49.36 162.89h3.09v2.6h-3.09zM88.82 162.89h3.09v2.6h-3.09zM147 162.89h3.05v2.6h-3.05zM88.82 165.45h3.09v2.6h-3.09zM105 165.45h3.05v2.6h-3.05z"/>
<path fill="#f0a884" d="M129 27.55h3.05v2.6h-3.05zM28.11 30.11h3.09v2.6h-3.09zM34.18 32.66h3.09v2.6h-3.09zM192 32.66h3.05v2.6h-3.05zM132 35.21h3.05v2.6h-3.05zM171 37.77h3.05v2.6h-3.05zM177 37.77h3.05v2.6h-3.05zM201 37.77h3.05v2.6h-3.05zM210 37.77h3.05v2.6h-3.05zM186 40.32h3.05v2.6h-3.05zM153 47.98h3.05v2.6h-3.05zM132 50.54h3.05v2.6h-3.05zM189 50.54h3.05v2.6h-3.05zM183 53.09h3.05v2.6h-3.05zM108 55.64h3.05v2.6h-3.05zM117 55.64h3.05v2.6h-3.05zM144 58.2h3.05v2.6h-3.05zM162 58.2h3.05v2.6h-3.05zM174 60.75h3.05v2.6h-3.05zM198 65.86h3.05v2.6h-3.05zM117 70.96h3.05v2.6h-3.05zM201 70.96h3.05v2.6h-3.05zM162 78.62h3.05v2.6h-3.05zM201 78.62h3.05v2.6h-3.05zM28.11 81.18h3.09v2.6h-3.09zM19 83.73h3.09v2.6h-3.09zM168 83.73h3.05v2.6h-3.05zM210 88.84h3.05v2.6h-3.05zM198 91.39h3.05v2.6h-3.05zM100.96 96.5h3.09v2.6h-3.09zM91.86 101.61h3.09v2.6h-3.09zM97.93 101.61h3.09v2.6h-3.09zM97.93 104.16h3.09v2.6h-3.09zM55.43 106.71h3.09v2.6h-3.09zM88.82 106.71h3.09v2.6h-3.09zM100.96 106.71h3.09v2.6h-3.09zM144 106.71h3.05v2.6h-3.05zM49.36 109.27h3.09v2.6h-3.09zM25.07 111.82h3.09v2.6h-3.09zM52.39 111.82h3.09v2.6h-3.09zM73.64 114.38h3.09v2.6h-3.09zM67.57 116.93h3.09v2.6h-3.09zM76.68 119.48h3.09v2.6h-3.09zM79.71 119.48h3.09v2.6h-3.09zM183 124.59h3.05v2.6h-3.05zM141 127.14h3.05v2.6h-3.05zM94.89 139.91h3.09v2.6h-3.09zM22.04 142.46h3.09v2.6h-3.09zM123 147.57h3.05v2.6h-3.05zM64.54 152.68h3.09v2.6h-3.09zM31.14 157.79h3.09v2.6h-3.09z"/>
<path fill="#f06048" d="M135 27.55h3.05v2.6h-3.05zM204 30.11h3.05v2.6h-3.05zM192 37.77h3.05v2.6h-3.05zM207 37.77h3.05v2.6h-3.05zM156 40.32h3.05v2.6h-3.05zM153 42.88h3.05v2.6h-3.05zM198 45.43h3.05v2.6h-3.05zM207 45.43h3.05v2.6h-3.05zM144 47.98h3.05v2.6h-3.05zM150 70.96h3.05v2.6h-3.05zM198 76.07h3.05v2.6h-3.05zM159 78.62h3.05v2.6h-3.05zM183 78.62h3.05v2.6h-3.05zM186 81.18h3.05v2.6h-3.05zM204 81.18h3.05v2.6h-3.05zM186 83.73h3.05v2.6h-3.05zM111 88.84h3.05v2.6h-3.05zM108 101.61h3.05v2.6h-3.05zM174 104.16h3.05v2.6h-3.05zM165 111.82h3.05v2.6h-3.05zM177 116.93h3.05v2.6h-3.05zM132 124.59h3.05v2.6h-3.05zM37.21 132.25h3.09v2.6h-3.09zM91.86 142.46h3.09v2.6h-3.09zM34.18 160.34h3.09v2.6h-3.09z"/>
<path fill="#fce4cc" d="M165 27.55h3.05v2.6h-3.05zM159 40.32h3.05v2.6h-3.05zM177 40.32h3.05v2.6h-3.05zM189 68.41h3.05v2.6h-3.05zM61.5 101.61h3.09v2.6h-3.09zM55.43 104.16h3.09v2.6h-3.09zM147 106.71h3.05v2.6h-3.05zM46.32 116.93h3.09v2.6h-3.09zM58.46 116.93h3.09v2.6h-3.09zM22.04 122.04h3.09v2.6h-3.09zM159 122.04h3.05v2.6h-3.05zM177 124.59h3.05v2.6h-3.05zM22.04 152.68h3.09v2.6h-3.09zM49.36 165.45h3.09v2.6h-3.09z"/>
<path fill="#e44830" d="M174 27.55h3.05v2.6h-3.05zM31.14 30.11h3.09v2.6h-3.09zM147 30.11h3.05v2.6h-3.05zM195 30.11h3.05v2.6h-3.05zM165 32.66h3.05v2.6h-3.05zM144 35.21h3.05v2.6h-3.05zM207 35.21h3.05v2.6h-3.05zM22.04 37.77h3.09v2.6h-3.09zM189 37.77h3.05v2.6h-3.05zM198 37.77h3.05v2.6h-3.05zM213 37.77h3.05v2.6h-3.05zM183 45.43h3.05v2.6h-3.05zM198 47.98h3.05v2.6h-3.05zM201 47.98h3.05v2.6h-3.05zM207 50.54h3.05v2.6h-3.05zM144 53.09h3.05v2.6h-3.05zM156 55.64h3.05v2.6h-3.05zM171 58.2h3.05v2.6h-3.05zM189 58.2h3.05v2.6h-3.05zM198 63.3h3.05v2.6h-3.05zM204 63.3h3.05v2.6h-3.05zM159 65.86h3.05v2.6h-3.05zM189 65.86h3.05v2.6h-3.05zM162 70.96h3.05v2.6h-3.05zM180 70.96h3.05v2.6h-3.05zM180 81.18h3.05v2.6h-3.05zM210 81.18h3.05v2.6h-3.05zM180 88.84h3.05v2.6h-3.05zM192 93.95h3.05v2.6h-3.05zM108 99.05h3.05v2.6h-3.05zM52.39 109.27h3.09v2.6h-3.09zM64.54 109.27h3.09v2.6h-3.09zM126 116.93h3.05v2.6h-3.05zM105 122.04h3.05v2.6h-3.05zM129 127.14h3.05v2.6h-3.05zM61.5 145.02h3.09v2.6h-3.09zM105 147.57h3.05v2.6h-3.05zM79.71 150.12h3.09v2.6h-3.09zM46.32 157.79h3.09v2.6h-3.09zM111 157.79h3.05v2.6h-3.05zM97.93 160.34h3.09v2.6h-3.09zM76.68 162.89h3.09v2.6h-3.09z"/>
<path fill="#b4b4e4" d="M49.36 30.11h3.09v2.6h-3.09zM25.07 42.88h3.09v2.6h-3.09zM55.43 50.54h3.09v2.6h-3.09zM100.96 50.54h3.09v2.6h-3.09zM111 50.54h3.05v2.6h-3.05zM132 55.64h3.05v2.6h-3.05zM70.61 60.75h3.09v2.6h-3.09zM168 60.75h3.05v2.6h-3.05zM55.43 63.3h3.09v2.6h-3.09zM34.18 70.96h3.09v2.6h-3.09zM31.14 73.52h3.09v2.6h-3.09zM55.43 81.18h3.09v2.6h-3.09zM156 83.73h3.05v2.6h-3.05zM94.89 86.29h3.09v2.6h-3.09zM123 93.95h3.05v2.6h-3.05zM43.29 96.5h3.09v2.6h-3.09zM180 101.61h3.05v2.6h-3.05zM198 101.61h3.05v2.6h-3.05zM34.18 119.48h3.09v2.6h-3.09zM159 145.02h3.05v2.6h-3.05zM168 147.57h3.05v2.6h-3.05zM162 150.12h3.05v2.6h-3.05zM49.36 160.34h3.09v2.6h-3.09z"/>
<path fill="#483cb4" d="M61.5 30.11h3.09v2.6h-3.09zM97.93 37.77h3.09v2.6h-3.09zM70.61 50.54h3.09v2.6h-3.09zM79.71 65.86h3.09v2.6h-3.09zM138 88.84h3.05v2.6h-3.05zM207 104.16h3.05v2.6h-3.05zM189 162.89h3.05v2.6h-3.05z"/>
<path fill="#846ccc" d="M73.64 30.11h3.09v2.6h-3.09zM91.86 30.11h3.09v2.6h-3.09zM79.71 37.77h3.09v2.6h-3.09zM58.46 55.64h3.09v2.6h-3.09zM91.86 58.2h3.09v2.6h-3.09zM28.11 63.3h3.09v2.6h-3.09zM40.25 83.73h3.09v2.6h-3.09zM126 142.46h3.05v2.6h-3.05z"/>
<path fill="#a89cd8" d="M94.89 30.11h3.09v2.6h-3.09zM64.54 37.77h3.09v2.6h-3.09zM105 50.54h3.05v2.6h-3.05zM25.07 53.09h3.09v2.6h-3.09zM64.54 60.75h3.09v2.6h-3.09zM94.89 60.75h3.09v2.6h-3.09zM61.5 63.3h3.09v2.6h-3.09zM61.5 68.41h3.09v2.6h-3.09zM126 68.41h3.05v2.6h-3.05zM100.96 78.62h3.09v2.6h-3.09zM28.11 86.29h3.09v2.6h-3.09zM138 86.29h3.05v2.6h-3.05zM165 91.39h3.05v2.6h-3.05zM204 104.16h3.05v2.6h-3.05zM192 111.82h3.05v2.6h-3.05zM162 116.93h3.05v2.6h-3.05zM58.46 119.48h3.09v2.6h-3.09zM100.96 122.04h3.09v2.6h-3.09zM207 142.46h3.05v2.6h-3.05z"/>
<path fill="#a890d8" d="M97.93 30.11h3.09v2.6h-3.09zM111 40.32h3.05v2.6h-3.05zM82.75 58.2h3.09v2.6h-3.09zM31.14 70.96h3.09v2.6h-3.09zM213 91.39h3.05v2.6h-3.05zM67.57 104.16h3.09v2.6h-3.09zM207 114.38h3.05v2.6h-3.05zM64.54 134.8h3.09v2.6h-3.09zM192 137.36h3.05v2.6h-3.05zM186 157.79h3.05v2.6h-3.05zM183 162.89h3.05v2.6h-3.05z"/>
<path fill="#d82418" d="M189 30.11h3.05v2.6h-3.05zM204 32.66h3.05v2.6h-3.05zM153 35.21h3.05v2.6h-3.05zM162 35.21h3.05v2.6h-3.05zM171 35.21h3.05v2.6h-3.05zM195 40.32h3.05v2.6h-3.05zM201 40.32h3.05v2.6h-3.05zM204 42.88h3.05v2.6h-3.05zM210 42.88h3.05v2.6h-3.05zM162 45.43h3.05v2.6h-3.05zM195 45.43h3.05v2.6h-3.05zM174 47.98h3.05v2.6h-3.05zM207 47.98h3.05v2.6h-3.05zM195 50.54h3.05v2.6h-3.05zM210 50.54h3.05v2.6h-3.05zM204 53.09h3.05v2.6h-3.05zM213 53.09h3.05v2.6h-3.05zM126 55.64h3.05v2.6h-3.05zM129 55.64h3.05v2.6h-3.05zM201 55.64h3.05v2.6h-3.05zM204 55.64h3.05v2.6h-3.05zM183 58.2h3.05v2.6h-3.05zM198 58.2h3.05v2.6h-3.05zM117 63.3h3.05v2.6h-3.05zM189 63.3h3.05v2.6h-3.05zM201 63.3h3.05v2.6h-3.05zM19 68.41h3.09v2.6h-3.09zM195 68.41h3.05v2.6h-3.05zM105 70.96h3.05v2.6h-3.05zM111 70.96h3.05v2.6h-3.05zM183 70.96h3.05v2.6h-3.05zM195 70.96h3.05v2.6h-3.05zM204 70.96h3.05v2.6h-3.05zM210 70.96h3.05v2.6h-3.05zM177 78.62h3.05v2.6h-3.05zM114 81.18h3.05v2.6h-3.05zM207 81.18h3.05v2.6h-3.05zM19 88.84h3.09v2.6h-3.09zM108 88.84h3.05v2.6h-3.05zM153 91.39h3.05v2.6h-3.05zM64.54 93.95h3.09v2.6h-3.09zM108 96.5h3.05v2.6h-3.05zM111 96.5h3.05v2.6h-3.05zM111 101.61h3.05v2.6h-3.05zM135 104.16h3.05v2.6h-3.05zM111 109.27h3.05v2.6h-3.05zM82.75 111.82h3.09v2.6h-3.09zM43.29 114.38h3.09v2.6h-3.09zM97.93 114.38h3.09v2.6h-3.09zM82.75 139.91h3.09v2.6h-3.09zM88.82 142.46h3.09v2.6h-3.09zM73.64 150.12h3.09v2.6h-3.09zM85.79 152.68h3.09v2.6h-3.09zM79.71 162.89h3.09v2.6h-3.09zM34.18 165.45h3.09v2.6h-3.09zM79.71 165.45h3.09v2.6h-3.09z"/>
<path fill="#fce4e4" d="M192 30.11h3.05v2.6h-3.05zM114 55.64h3.05v2.6h-3.05zM97.93 60.75h3.09v2.6h-3.09zM40.25 68.41h3.09v2.6h-3.09zM46.32 73.52h3.09v2.6h-3.09zM67.57 73.52h3.09v2.6h-3.09zM147 76.07h3.05v2.6h-3.05zM97.93 78.62h3.09v2.6h-3.09zM192 83.73h3.05v2.6h-3.05zM64.54 91.39h3.09v2.6h-3.09zM129 116.93h3.05v2.6h-3.05zM177 142.46h3.05v2.6h-3.05zM129 160.34h3.05v2.6h-3.05zM40.25 165.45h3.09v2.6h-3.09z"/>
<path fill="#5448b4" d="M58.46 32.66h3.09v2.6h-3.09zM52.39 35.21h3.09v2.6h-3.09zM58.46 35.21h3.09v2.6h-3.09zM64.54 35.21h3.09v2.6h-3.09zM79.71 35.21h3.09v2.6h-3.09zM85.79 37.77h3.09v2.6h-3.09zM94.89 37.77h3.09v2.6h-3.09zM120 37.77h3.05v2.6h-3.05zM43.29 42.88h3.09v2.6h-3.09zM52.39 47.98h3.09v2.6h-3.09zM88.82 47.98h3.09v2.6h-3.09zM31.14 50.54h3.09v2.6h-3.09zM43.29 50.54h3.09v2.6h-3.09zM67.57 50.54h3.09v2.6h-3.09zM55.43 55.64h3.09v2.6h-3.09zM40.25 58.2h3.09v2.6h-3.09zM61.5 60.75h3.09v2.6h-3.09zM111 63.3h3.05v2.6h-3.05zM55.43 65.86h3.09v2.6h-3.09zM97.93 68.41h3.09v2.6h-3.09zM91.86 70.96h3.09v2.6h-3.09zM82.75 86.29h3.09v2.6h-3.09zM186 91.39h3.05v2.6h-3.05zM67.57 101.61h3.09v2.6h-3.09zM132 106.71h3.05v2.6h-3.05zM192 109.27h3.05v2.6h-3.05zM213 111.82h3.05v2.6h-3.05zM34.18 114.38h3.09v2.6h-3.09zM162 122.04h3.05v2.6h-3.05zM132 129.7h3.05v2.6h-3.05zM171 129.7h3.05v2.6h-3.05zM174 132.25h3.05v2.6h-3.05zM144 137.36h3.05v2.6h-3.05zM171 137.36h3.05v2.6h-3.05zM201 142.46h3.05v2.6h-3.05zM204 147.57h3.05v2.6h-3.05zM156 152.68h3.05v2.6h-3.05zM159 152.68h3.05v2.6h-3.05zM120 155.23h3.05v2.6h-3.05zM132 155.23h3.05v2.6h-3.05zM180 155.23h3.05v2.6h-3.05zM159 160.34h3.05v2.6h-3.05zM168 162.89h3.05v2.6h-3.05zM180 162.89h3.05v2.6h-3.05zM171 165.45h3.05v2.6h-3.05zM186 165.45h3.05v2.6h-3.05zM195 165.45h3.05v2.6h-3.05zM201 165.45h3.05v2.6h-3.05z"/>
<path fill="#6048b4" d="M79.71 32.66h3.09v2.6h-3.09zM91.86 32.66h3.09v2.6h-3.09zM73.64 45.43h3.09v2.6h-3.09zM97.93 58.2h3.09v2.6h-3.09zM177 68.41h3.05v2.6h-3.05zM82.75 83.73h3.09v2.6h-3.09zM31.14 101.61h3.09v2.6h-3.09zM141 106.71h3.05v2.6h-3.05zM204 116.93h3.05v2.6h-3.05zM111 119.48h3.05v2.6h-3.05zM204 139.91h3.05v2.6h-3.05zM141 150.12h3.05v2.6h-3.05zM40.25 152.68h3.09v2.6h-3.09zM213 157.79h3.05v2.6h-3.05zM198 162.89h3.05v2.6h-3.05zM192 165.45h3.05v2.6h-3.05z"/>
<path fill="#f0e4fc" d="M94.89 32.66h3.09v2.6h-3.09zM126 45.43h3.05v2.6h-3.05zM105 55.64h3.05v2.6h-3.05zM46.32 58.2h3.09v2.6h-3.09zM28.11 68.41h3.09v2.6h-3.09zM37.21 70.96h3.09v2.6h-3.09zM37.21 86.29h3.09v2.6h-3.09zM34.18 88.84h3.09v2.6h-3.09zM165 88.84h3.05v2.6h-3.05zM46.32 91.39h3.09v2.6h-3.09zM174 96.5h3.05v2.6h-3.05zM132 101.61h3.05v2.6h-3.05zM201 106.71h3.05v2.6h-3.05zM43.29 109.27h3.09v2.6h-3.09zM189 109.27h3.05v2.6h-3.05zM64.54 116.93h3.09v2.6h-3.09zM46.32 124.59h3.09v2.6h-3.09zM58.46 124.59h3.09v2.6h-3.09zM168 124.59h3.05v2.6h-3.05zM105 127.14h3.05v2.6h-3.05zM114 134.8h3.05v2.6h-3.05zM198 139.91h3.05v2.6h-3.05zM100.96 142.46h3.09v2.6h-3.09zM64.54 145.02h3.09v2.6h-3.09zM67.57 145.02h3.09v2.6h-3.09zM180 145.02h3.05v2.6h-3.05zM34.18 147.57h3.09v2.6h-3.09zM22.04 150.12h3.09v2.6h-3.09zM153 155.23h3.05v2.6h-3.05zM34.18 157.79h3.09v2.6h-3.09zM171 157.79h3.05v2.6h-3.05zM19 160.34h3.09v2.6h-3.09z"/>
<path fill="#f07848" d="M195 35.21h3.05v2.6h-3.05zM210 53.09h3.05v2.6h-3.05zM150 60.75h3.05v2.6h-3.05zM73.64 96.5h3.09v2.6h-3.09zM129 129.7h3.05v2.6h-3.05zM70.61 137.36h3.09v2.6h-3.09z"/>
<path fill="#fcccc0" d="M135 37.77h3.05v2.6h-3.05zM162 40.32h3.05v2.6h-3.05zM171 40.32h3.05v2.6h-3.05zM192 40.32h3.05v2.6h-3.05zM210 40.32h3.05v2.6h-3.05zM159 45.43h3.05v2.6h-3.05zM159 47.98h3.05v2.6h-3.05zM171 50.54h3.05v2.6h-3.05zM132 58.2h3.05v2.6h-3.05zM153 63.3h3.05v2.6h-3.05zM171 68.41h3.05v2.6h-3.05zM153 76.07h3.05v2.6h-3.05zM201 76.07h3.05v2.6h-3.05zM138 78.62h3.05v2.6h-3.05zM79.71 93.95h3.09v2.6h-3.09zM153 96.5h3.05v2.6h-3.05zM129 99.05h3.05v2.6h-3.05zM49.36 104.16h3.09v2.6h-3.09zM108 104.16h3.05v2.6h-3.05zM165 104.16h3.05v2.6h-3.05zM19 111.82h3.09v2.6h-3.09zM114 116.93h3.05v2.6h-3.05zM123 119.48h3.05v2.6h-3.05zM141 122.04h3.05v2.6h-3.05zM144 122.04h3.05v2.6h-3.05zM150 122.04h3.05v2.6h-3.05zM126 124.59h3.05v2.6h-3.05zM168 129.7h3.05v2.6h-3.05zM58.46 132.25h3.09v2.6h-3.09zM19 139.91h3.09v2.6h-3.09zM79.71 139.91h3.09v2.6h-3.09zM135 147.57h3.05v2.6h-3.05zM67.57 165.45h3.09v2.6h-3.09z"/>
<path fill="#6c54c0" d="M55.43 40.32h3.09v2.6h-3.09zM34.18 42.88h3.09v2.6h-3.09zM82.75 45.43h3.09v2.6h-3.09zM22.04 58.2h3.09v2.6h-3.09zM76.68 65.86h3.09v2.6h-3.09zM64.54 78.62h3.09v2.6h-3.09zM34.18 116.93h3.09v2.6h-3.09zM129 142.46h3.05v2.6h-3.05z"/>
<path fill="#e43c30" d="M198 40.32h3.05v2.6h-3.05zM162 65.86h3.05v2.6h-3.05zM192 81.18h3.05v2.6h-3.05z"/>
<path fill="#d83c24" d="M213 40.32h3.05v2.6h-3.05zM177 93.95h3.05v2.6h-3.05zM49.36 111.82h3.09v2.6h-3.09zM73.64 119.48h3.09v2.6h-3.09zM141 139.91h3.05v2.6h-3.05z"/>
<path fill="#7860c0" d="M76.68 42.88h3.09v2.6h-3.09zM70.61 55.64h3.09v2.6h-3.09zM79.71 58.2h3.09v2.6h-3.09zM40.25 65.86h3.09v2.6h-3.09zM61.5 65.86h3.09v2.6h-3.09zM105 73.52h3.05v2.6h-3.05zM123 76.07h3.05v2.6h-3.05zM198 106.71h3.05v2.6h-3.05zM192 139.91h3.05v2.6h-3.05zM186 147.57h3.05v2.6h-3.05z"/>
<path fill="#7860cc" d="M94.89 42.88h3.09v2.6h-3.09zM97.93 42.88h3.09v2.6h-3.09zM55.43 53.09h3.09v2.6h-3.09zM88.82 63.3h3.09v2.6h-3.09zM73.64 70.96h3.09v2.6h-3.09zM37.21 91.39h3.09v2.6h-3.09zM192 104.16h3.05v2.6h-3.05zM183 139.91h3.05v2.6h-3.05zM153 162.89h3.05v2.6h-3.05zM213 162.89h3.05v2.6h-3.05z"/>
<path fill="#f05430" d="M195 42.88h3.05v2.6h-3.05zM213 42.88h3.05v2.6h-3.05zM156 45.43h3.05v2.6h-3.05zM171 60.75h3.05v2.6h-3.05zM144 65.86h3.05v2.6h-3.05zM31.14 111.82h3.09v2.6h-3.09zM28.11 124.59h3.09v2.6h-3.09zM132 127.14h3.05v2.6h-3.05z"/>
<path fill="#e43c24" d="M198 42.88h3.05v2.6h-3.05zM153 45.43h3.05v2.6h-3.05zM201 50.54h3.05v2.6h-3.05zM153 53.09h3.05v2.6h-3.05zM174 70.96h3.05v2.6h-3.05zM198 70.96h3.05v2.6h-3.05zM19 78.62h3.09v2.6h-3.09zM132 81.18h3.05v2.6h-3.05zM198 81.18h3.05v2.6h-3.05zM198 83.73h3.05v2.6h-3.05zM168 93.95h3.05v2.6h-3.05zM123 114.38h3.05v2.6h-3.05zM52.39 137.36h3.09v2.6h-3.09zM120 137.36h3.05v2.6h-3.05zM43.29 139.91h3.09v2.6h-3.09zM28.11 162.89h3.09v2.6h-3.09zM117 162.89h3.05v2.6h-3.05z"/>
<path fill="#fcc0b4" d="M123 45.43h3.05v2.6h-3.05zM213 60.75h3.05v2.6h-3.05z"/>
<path fill="#d83024" d="M180 45.43h3.05v2.6h-3.05zM186 47.98h3.05v2.6h-3.05zM192 47.98h3.05v2.6h-3.05zM210 47.98h3.05v2.6h-3.05zM201 53.09h3.05v2.6h-3.05zM198 55.64h3.05v2.6h-3.05zM195 58.2h3.05v2.6h-3.05zM207 65.86h3.05v2.6h-3.05zM189 70.96h3.05v2.6h-3.05zM147 78.62h3.05v2.6h-3.05zM156 81.18h3.05v2.6h-3.05zM73.64 111.82h3.09v2.6h-3.09zM120 111.82h3.05v2.6h-3.05zM61.5 129.7h3.09v2.6h-3.09zM100.96 132.25h3.09v2.6h-3.09zM49.36 155.23h3.09v2.6h-3.09zM117 155.23h3.05v2.6h-3.05zM70.61 157.79h3.09v2.6h-3.09z"/>
<path fill="#4848b4" d="M19 47.98h3.09v2.6h-3.09zM82.75 55.64h3.09v2.6h-3.09zM94.89 58.2h3.09v2.6h-3.09zM49.36 60.75h3.09v2.6h-3.09zM79.71 63.3h3.09v2.6h-3.09zM58.46 68.41h3.09v2.6h-3.09zM76.68 70.96h3.09v2.6h-3.09zM49.36 99.05h3.09v2.6h-3.09zM159 142.46h3.05v2.6h-3.05zM174 165.45h3.05v2.6h-3.05z"/>
<path fill="#8478d8" d="M100.96 47.98h3.09v2.6h-3.09zM76.68 60.75h3.09v2.6h-3.09zM100.96 81.18h3.09v2.6h-3.09zM19 99.05h3.09v2.6h-3.09zM204 150.12h3.05v2.6h-3.05z"/>
<path fill="#f08454" d="M144 50.54h3.05v2.6h-3.05zM183 50.54h3.05v2.6h-3.05zM207 53.09h3.05v2.6h-3.05zM91.86 155.23h3.09v2.6h-3.09z"/>
<path fill="#fcf0fc" d="M31.14 63.3h3.09v2.6h-3.09zM144 104.16h3.05v2.6h-3.05zM31.14 106.71h3.09v2.6h-3.09zM126 114.38h3.05v2.6h-3.05zM150 119.48h3.05v2.6h-3.05zM174 124.59h3.05v2.6h-3.05zM141 137.36h3.05v2.6h-3.05zM138 147.57h3.05v2.6h-3.05z"/>
<path fill="#6048c0" d="M111 65.86h3.05v2.6h-3.05zM207 165.45h3.05v2.6h-3.05z"/>
<path fill="#f0a878" d="M156 68.41h3.05v2.6h-3.05zM97.93 139.91h3.09v2.6h-3.09zM91.86 150.12h3.09v2.6h-3.09z"/>
<path fill="#e4e4f0" d="M88.82 70.96h3.09v2.6h-3.09zM168 132.25h3.05v2.6h-3.05zM28.11 150.12h3.09v2.6h-3.09z"/></g></g>
<rect x="19" y="84.8" width="85" height="0.8" fill="#ffffff" opacity="0.55"/>
<rect x="104" y="17.5" width="1" height="151" fill="#ffffff"/>
<rect x="19" y="170.2" width="85" height="1.6" fill="#4a4a4a"/>
<rect x="105.5" y="170.2" width="110.5" height="1.6" fill="#4a4a4a"/>
<text x="50.2" y="180.8" font-size="8.5" fill="#222" stroke="#222" stroke-width="0.17">Cluster 1</text>
<text x="145.8" y="180.8" font-size="8.5" fill="#222" stroke="#222" stroke-width="0.17">Cluster 2</text>
<text x="91.2" y="181.9" font-size="5.4" fill="#333" stroke="#333" stroke-width="0.108">GSVA row Z-scores</text>
<defs><linearGradient id="cb" x1="0" x2="1" y1="0" y2="0"><stop offset="0" stop-color="#3a3ea0"/><stop offset="0.28" stop-color="#4d52b0"/><stop offset="0.42" stop-color="#b8bade"/><stop offset="0.5" stop-color="#ffffff"/><stop offset="0.58" stop-color="#f6d2ca"/><stop offset="0.72" stop-color="#e8503c"/><stop offset="1" stop-color="#d42020"/></linearGradient></defs>
<rect x="96.8" y="184" width="34.4" height="3.4" fill="url(#cb)"/>
<text x="97.5" y="192.6" font-size="5.2" fill="#333" text-anchor="middle" stroke="#333" stroke-width="0.104">−4</text>
<text x="105.6" y="192.6" font-size="5.2" fill="#333" text-anchor="middle" stroke="#333" stroke-width="0.104">−2</text>
<text x="113.7" y="192.6" font-size="5.2" fill="#333" text-anchor="middle" stroke="#333" stroke-width="0.104">0</text>
<text x="121.8" y="192.6" font-size="5.2" fill="#333" text-anchor="middle" stroke="#333" stroke-width="0.104">2</text>
<text x="129.9" y="192.6" font-size="5.2" fill="#333" text-anchor="middle" stroke="#333" stroke-width="0.104">4</text>
<text x="231.2" y="11.5" font-size="6.4" fill="#222" stroke="#222" stroke-width="0.128">Treatment</text>
<text x="230.8" y="18" font-size="6.4" fill="#222" stroke="#222" stroke-width="0.128">Clinical response</text>
<text x="230.8" y="23.9" font-size="6.4" fill="#222" stroke="#222" stroke-width="0.128">Patients</text>
<line x1="216.5" y1="18.6" x2="222" y2="18.6" stroke="#bbbbbb" stroke-width="0.5"/>
<line x1="222" y1="18.6" x2="227.5" y2="10.3" stroke="#999" stroke-width="0.5"/>
<line x1="216.5" y1="20.6" x2="222" y2="20.6" stroke="#bbbbbb" stroke-width="0.5"/>
<line x1="222" y1="20.6" x2="229" y2="15.8" stroke="#999" stroke-width="0.5"/>
<line x1="216.5" y1="22.7" x2="223" y2="22.7" stroke="#bbbbbb" stroke-width="0.5"/>
<line x1="223" y1="22.7" x2="229.5" y2="20.3" stroke="#999" stroke-width="0.5"/>
<text x="216.6" y="27.08" font-size="2.2" fill="#858585" textLength="14.28" lengthAdjust="spacingAndGlyphs">HALLMARK_MYC_TARGETS_V1</text>
<text x="216.6" y="29.63" font-size="2.2" fill="#858585" textLength="19.8" lengthAdjust="spacingAndGlyphs">MYC_TARGETS_V2</text>
<text x="216.6" y="32.18" font-size="2.2" fill="#858585" textLength="16.66" lengthAdjust="spacingAndGlyphs">E2F_TARGETS</text>
<text x="216.6" y="34.74" font-size="2.2" fill="#858585" textLength="20.87" lengthAdjust="spacingAndGlyphs">G2M_CHECKPOINT</text>
<text x="216.6" y="37.29" font-size="2.2" fill="#858585" textLength="21.26" lengthAdjust="spacingAndGlyphs">DNA_REPAIR</text>
<text x="216.6" y="39.84" font-size="2.2" fill="#858585" textLength="11.18" lengthAdjust="spacingAndGlyphs">MTORC1_SIGNALING</text>
<text x="216.6" y="42.4" font-size="2.2" fill="#858585" textLength="10.24" lengthAdjust="spacingAndGlyphs">UNFOLDED_PROTEIN_RESPONSE</text>
<text x="216.6" y="44.95" font-size="2.2" fill="#858585" textLength="25.07" lengthAdjust="spacingAndGlyphs">CHOLESTEROL_HOMEOSTASIS</text>
<text x="216.6" y="47.51" font-size="2.2" fill="#858585" textLength="14.67" lengthAdjust="spacingAndGlyphs">SREBP2_TARGET</text>
<text x="216.6" y="50.06" font-size="2.2" fill="#858585" textLength="14.22" lengthAdjust="spacingAndGlyphs">FATTY_ACID_METABOLISM</text>
<text x="216.6" y="52.61" font-size="2.2" fill="#858585" textLength="27.92" lengthAdjust="spacingAndGlyphs">ADIPOGENESIS</text>
<text x="216.6" y="55.17" font-size="2.2" fill="#858585" textLength="18.46" lengthAdjust="spacingAndGlyphs">PEROXISOME</text>
<text x="216.6" y="57.72" font-size="2.2" fill="#858585" textLength="25.06" lengthAdjust="spacingAndGlyphs">GLYCOLYSIS</text>
<text x="216.6" y="60.27" font-size="2.2" fill="#858585" textLength="18.57" lengthAdjust="spacingAndGlyphs">OXIDATIVE_PHOSPHORYLATION</text>
<text x="216.6" y="62.83" font-size="2.2" fill="#858585" textLength="21.5" lengthAdjust="spacingAndGlyphs">REACTIVE_OXYGEN_SPECIES</text>
<text x="216.6" y="65.38" font-size="2.2" fill="#858585" textLength="12.71" lengthAdjust="spacingAndGlyphs">IRON_ION_HOMEOSTASIS</text>
<text x="216.6" y="67.93" font-size="2.2" fill="#858585" textLength="21.43" lengthAdjust="spacingAndGlyphs">XENOBIOTIC</text>
<text x="216.6" y="70.49" font-size="2.2" fill="#858585" textLength="25.62" lengthAdjust="spacingAndGlyphs">BILE_ACID_METABOLISM</text>
<text x="216.6" y="73.04" font-size="2.2" fill="#858585" textLength="19.42" lengthAdjust="spacingAndGlyphs">HEME_METABOLISM</text>
<text x="216.6" y="75.59" font-size="2.2" fill="#858585" textLength="23.34" lengthAdjust="spacingAndGlyphs">PROTEIN_SECRETION</text>
<text x="216.6" y="78.15" font-size="2.2" fill="#858585" textLength="22.09" lengthAdjust="spacingAndGlyphs">SPERMATOGENESIS</text>
<text x="216.6" y="80.7" font-size="2.2" fill="#858585" textLength="11.15" lengthAdjust="spacingAndGlyphs">MITOTIC_SPINDLE</text>
<text x="216.6" y="83.26" font-size="2.2" fill="#858585" textLength="23.65" lengthAdjust="spacingAndGlyphs">P53_PATHWAY</text>
<text x="216.6" y="85.81" font-size="2.2" fill="#858585" textLength="20.64" lengthAdjust="spacingAndGlyphs">APOPTOSIS</text>
<text x="216.6" y="88.36" font-size="2.2" fill="#858585" textLength="15.42" lengthAdjust="spacingAndGlyphs">HYPOXIA</text>
<text x="216.6" y="90.92" font-size="2.2" fill="#858585" textLength="10.56" lengthAdjust="spacingAndGlyphs">ANDROGEN_RESPONSE</text>
<text x="216.6" y="93.47" font-size="2.2" fill="#858585" textLength="25.58" lengthAdjust="spacingAndGlyphs">ESTROGEN_RESPONSE_EARLY</text>
<text x="216.6" y="96.02" font-size="2.2" fill="#858585" textLength="18.51" lengthAdjust="spacingAndGlyphs">ESTROGEN_RESPONSE_LATE</text>
<text x="216.6" y="98.58" font-size="2.2" fill="#858585" textLength="22.94" lengthAdjust="spacingAndGlyphs">PANCREAS_BETA_CELLS</text>
<text x="216.6" y="101.13" font-size="2.2" fill="#858585" textLength="25.82" lengthAdjust="spacingAndGlyphs">KRAS_SIGNALING_UP</text>
<text x="216.6" y="103.68" font-size="2.2" fill="#858585" textLength="22.85" lengthAdjust="spacingAndGlyphs">KRAS_SIGNALING_DN</text>
<text x="216.6" y="106.24" font-size="2.2" fill="#858585" textLength="26.58" lengthAdjust="spacingAndGlyphs">UV_RESPONSE_UP</text>
<text x="216.6" y="108.79" font-size="2.2" fill="#858585" textLength="17.11" lengthAdjust="spacingAndGlyphs">UV_RESPONSE_DN</text>
<text x="216.6" y="111.34" font-size="2.2" fill="#858585" textLength="24.42" lengthAdjust="spacingAndGlyphs">TGF_BETA_SIGNALING</text>
<text x="216.6" y="113.9" font-size="2.2" fill="#858585" textLength="18" lengthAdjust="spacingAndGlyphs">NOTCH_SIGNALING</text>
<text x="216.6" y="116.45" font-size="2.2" fill="#858585" textLength="26.84" lengthAdjust="spacingAndGlyphs">HEDGEHOG_SIGNALING</text>
<text x="216.6" y="119.01" font-size="2.2" fill="#858585" textLength="25.82" lengthAdjust="spacingAndGlyphs">WNT_BETA_CATENIN</text>
<text x="216.6" y="121.56" font-size="2.2" fill="#858585" textLength="11.75" lengthAdjust="spacingAndGlyphs">IL2_STAT5_SIGNALING</text>
<text x="216.6" y="124.11" font-size="2.2" fill="#858585" textLength="12.45" lengthAdjust="spacingAndGlyphs">IL6_JAK_STAT3</text>
<text x="216.6" y="126.67" font-size="2.2" fill="#858585" textLength="13.91" lengthAdjust="spacingAndGlyphs">TNFA_SIGNALING_VIA_NFKB</text>
<text x="216.6" y="129.22" font-size="2.2" fill="#858585" textLength="27.38" lengthAdjust="spacingAndGlyphs">INFLAMMATORY_RESPONSE</text>
<text x="216.6" y="131.77" font-size="2.2" fill="#858585" textLength="17.85" lengthAdjust="spacingAndGlyphs">INTERFERON_ALPHA</text>
<text x="216.6" y="134.33" font-size="2.2" fill="#858585" textLength="21.28" lengthAdjust="spacingAndGlyphs">INTERFERON_GAMMA</text>
<text x="216.6" y="136.88" font-size="2.2" fill="#858585" textLength="15.42" lengthAdjust="spacingAndGlyphs">ALLOGRAFT_REJECTION</text>
<text x="216.6" y="139.43" font-size="2.2" fill="#858585" textLength="19.13" lengthAdjust="spacingAndGlyphs">COMPLEMENT</text>
<text x="216.6" y="141.99" font-size="2.2" fill="#858585" textLength="16.95" lengthAdjust="spacingAndGlyphs">COAGULATION</text>
<text x="216.6" y="144.54" font-size="2.2" fill="#858585" textLength="16.32" lengthAdjust="spacingAndGlyphs">ANGIOGENESIS</text>
<text x="216.6" y="147.09" font-size="2.2" fill="#858585" textLength="20.53" lengthAdjust="spacingAndGlyphs">APICAL_JUNCTION</text>
<text x="216.6" y="149.65" font-size="2.2" fill="#858585" textLength="20.52" lengthAdjust="spacingAndGlyphs">APICAL_SURFACE</text>
<text x="216.6" y="152.2" font-size="2.2" fill="#858585" textLength="26.28" lengthAdjust="spacingAndGlyphs">EPITHELIAL_MESENCHYMAL</text>
<text x="216.6" y="154.76" font-size="2.2" fill="#858585" textLength="22.28" lengthAdjust="spacingAndGlyphs">MYOGENESIS</text>
<text x="216.6" y="157.31" font-size="2.2" fill="#858585" textLength="26.72" lengthAdjust="spacingAndGlyphs">PI3K_AKT_MTOR</text>
<text x="216.6" y="159.86" font-size="2.2" fill="#858585" textLength="25.42" lengthAdjust="spacingAndGlyphs">TARGETS_OF_E2F</text>
<text x="216.6" y="162.42" font-size="2.2" fill="#858585" textLength="27.84" lengthAdjust="spacingAndGlyphs">LIPID_STORAGE</text>
<text x="216.6" y="164.97" font-size="2.2" fill="#858585" textLength="22.08" lengthAdjust="spacingAndGlyphs">STEROL_BIOSYNTHESIS</text>
<text x="216.6" y="167.52" font-size="2.2" fill="#858585" textLength="12.94" lengthAdjust="spacingAndGlyphs">GLUTATHIONE</text>
<rect x="104.6" y="28.4" width="144.1" height="32.3" fill="none" stroke="#2a2a30" stroke-width="0.85"/>
<rect x="104.6" y="71.5" width="144.1" height="2.6" fill="none" stroke="#2a2a30" stroke-width="0.85"/>
<rect x="104.6" y="81.9" width="144.1" height="2.7" fill="none" stroke="#2a2a30" stroke-width="0.85"/>
<text x="252.3" y="31" font-size="4.6" fill="#222" text-anchor="middle" stroke="#222" stroke-width="0.092">*</text>
<text x="252.3" y="38.9" font-size="4.6" fill="#222" text-anchor="middle" stroke="#222" stroke-width="0.092">*</text>
<text x="252.3" y="44.5" font-size="4.6" fill="#222" text-anchor="middle" stroke="#222" stroke-width="0.092">*</text>
<text x="252.3" y="47.1" font-size="4.6" fill="#222" text-anchor="middle" stroke="#222" stroke-width="0.092">*</text>
<text x="252.3" y="49.5" font-size="4.6" fill="#222" text-anchor="middle" stroke="#222" stroke-width="0.092">*</text>
<text x="252.3" y="51.7" font-size="4.6" fill="#222" text-anchor="middle" stroke="#222" stroke-width="0.092">*</text>
<text x="252.3" y="54.4" font-size="4.6" fill="#222" text-anchor="middle" stroke="#222" stroke-width="0.092">*</text>
<text x="252.3" y="56.6" font-size="4.6" fill="#222" text-anchor="middle" stroke="#222" stroke-width="0.092">*</text>
<text x="252.3" y="59.6" font-size="4.6" fill="#222" text-anchor="middle" stroke="#222" stroke-width="0.092">*</text>
<text x="252.3" y="61.6" font-size="4.6" fill="#222" text-anchor="middle" stroke="#222" stroke-width="0.092">*</text>
<text x="252.3" y="74.8" font-size="4.6" fill="#222" text-anchor="middle" stroke="#222" stroke-width="0.092">*</text>
<text x="252.3" y="85.3" font-size="4.6" fill="#222" text-anchor="middle" stroke="#222" stroke-width="0.092">*</text>
<line x1="254.5" y1="26.5" x2="280.4" y2="35.2" stroke="#231f20" stroke-width="0.8"/>
<text x="264" y="164" font-size="4.0" fill="#aaa" text-anchor="middle" stroke="#aaa" stroke-width="0.08">*</text>
<line x1="253.5" y1="87.9" x2="279.9" y2="150.3" stroke="#231f20" stroke-width="0.8"/>
<text x="288.6" y="11.5" font-size="7.3" fill="#231f20" stroke="#231f20" stroke-width="0.146">Treatment</text>
<text x="340.2" y="11.5" font-size="7.3" fill="#231f20" stroke="#231f20" stroke-width="0.146">Clinical response</text>
<rect x="288.6" y="13" width="5.4" height="5.2" fill="#a51c23"/>
<text x="296" y="17.6" font-size="5.25" fill="#333" stroke="#333" stroke-width="0.105">Immunotherapy</text>
<rect x="288.6" y="19.17" width="5.4" height="5.2" fill="#1d3f8f"/>
<text x="296" y="23.77" font-size="5.25" fill="#333" stroke="#333" stroke-width="0.105">Targeted therapy</text>
<rect x="288.6" y="25.34" width="5.4" height="5.2" fill="#8cc04a"/>
<text x="296" y="29.94" font-size="5.25" fill="#333" stroke="#333" stroke-width="0.105">Both</text>
<rect x="288.6" y="31.51" width="5.4" height="5.2" fill="#c9c9c9"/>
<text x="296" y="36.11" font-size="5.25" fill="#333" stroke="#333" stroke-width="0.105">Others</text>
<rect x="340.6" y="13" width="5.2" height="5.2" fill="#d8232a"/>
<text x="347.8" y="17.6" font-size="5.25" fill="#333" stroke="#333" stroke-width="0.105">PD</text>
<rect x="340.6" y="19.17" width="5.2" height="5.2" fill="#2a4a9a"/>
<text x="347.8" y="23.77" font-size="5.25" fill="#333" stroke="#333" stroke-width="0.105">RD</text>
<text x="281.2" y="47" font-size="7.5" fill="#231f20" stroke="#231f20" stroke-width="0.15">Proliferation</text>
<text x="378.5" y="47" font-size="7.4" fill="#231f20" stroke="#231f20" stroke-width="0.148"><tspan font-style="italic">P</tspan> values</text>
<text x="425.6" y="47" font-size="7.5" fill="#231f20" stroke="#231f20" stroke-width="0.15">Permutation-based <tspan font-style="italic">P</tspan> values</text>
<rect x="281" y="49.2" width="136" height="2" fill="#231f20"/>
<rect x="422" y="49.2" width="81" height="2" fill="#231f20"/>
<text transform="translate(282.8,58.5) scale(0.914,1)" font-size="6.4" fill="#231f20">MYC_TARGET_V1</text>
<text transform="translate(381,58.5) scale(0.94,1)" font-size="6.2" fill="#231f20">1.53 × 10</text>
<text transform="translate(406.6,55.9) scale(0.94,1)" font-size="3.9" fill="#231f20">−20</text>
<text transform="translate(462.3,58.5) scale(0.94,1)" font-size="6.2" fill="#231f20" text-anchor="middle">0</text>
<rect x="281" y="60.3" width="136" height="1" fill="#5a5a5a"/>
<rect x="422" y="60.3" width="81" height="1" fill="#5a5a5a"/>
<text transform="translate(282.8,67.6) scale(0.914,1)" font-size="6.4" fill="#231f20">MYC_TARGET_V2</text>
<text transform="translate(381,67.6) scale(0.94,1)" font-size="6.2" fill="#231f20">4.03 × 10</text>
<text transform="translate(406.6,65) scale(0.94,1)" font-size="3.9" fill="#231f20">−16</text>
<text transform="translate(462.3,67.6) scale(0.94,1)" font-size="6.2" fill="#231f20" text-anchor="middle">0</text>
<rect x="281" y="69.7" width="136" height="1" fill="#5a5a5a"/>
<rect x="422" y="69.7" width="81" height="1" fill="#5a5a5a"/>
<text x="281.2" y="82.3" font-size="7.5" fill="#231f20" stroke="#231f20" stroke-width="0.15">Lipogenesis</text>
<rect x="281" y="84.7" width="136" height="2" fill="#231f20"/>
<rect x="422" y="84.7" width="81" height="2" fill="#231f20"/>
<text transform="translate(282.8,92.7) scale(0.914,1)" font-size="6.4" fill="#231f20">SREBP2_TARGET</text>
<text transform="translate(381,92.7) scale(0.94,1)" font-size="6.2" fill="#231f20">9.76 × 10</text>
<text transform="translate(406.6,90.1) scale(0.94,1)" font-size="3.9" fill="#231f20">−8</text>
<text transform="translate(462.3,92.7) scale(0.94,1)" font-size="6.2" fill="#231f20" text-anchor="middle">0.02</text>
<rect x="281" y="95.3" width="136" height="1" fill="#5a5a5a"/>
<rect x="422" y="95.3" width="81" height="1" fill="#5a5a5a"/>
<text transform="translate(282.8,102) scale(0.914,1)" font-size="6.4" fill="#231f20">ADIPOGENESIS</text>
<text transform="translate(381,102) scale(0.94,1)" font-size="6.2" fill="#231f20">3.31 × 10</text>
<text transform="translate(406.6,99.4) scale(0.94,1)" font-size="3.9" fill="#231f20">−16</text>
<text transform="translate(462.3,102) scale(0.94,1)" font-size="6.2" fill="#231f20" text-anchor="middle">0</text>
<rect x="281" y="104.3" width="136" height="1" fill="#5a5a5a"/>
<rect x="422" y="104.3" width="81" height="1" fill="#5a5a5a"/>
<text transform="translate(282.8,110.9) scale(0.914,1)" font-size="6.4" fill="#231f20">FATTY_ACID_METABOLISM</text>
<text transform="translate(381,110.9) scale(0.94,1)" font-size="6.2" fill="#231f20">1.08 × 10</text>
<text transform="translate(406.6,108.3) scale(0.94,1)" font-size="3.9" fill="#231f20">−13</text>
<text transform="translate(462.3,110.9) scale(0.94,1)" font-size="6.2" fill="#231f20" text-anchor="middle">0</text>
<rect x="281" y="113.1" width="136" height="1" fill="#5a5a5a"/>
<rect x="422" y="113.1" width="81" height="1" fill="#5a5a5a"/>
<text x="281.2" y="124.6" font-size="7.5" fill="#231f20" stroke="#231f20" stroke-width="0.15">Iron homeostasis and metabolism</text>
<rect x="281" y="127.5" width="136" height="2" fill="#231f20"/>
<rect x="422" y="127.5" width="81" height="2" fill="#231f20"/>
<text transform="translate(282.8,135.2) scale(0.914,1)" font-size="6.4" fill="#231f20">IRON_ION_HOMEOSTASIS</text>
<text transform="translate(381,135.2) scale(0.94,1)" font-size="6.2" fill="#231f20">1.82 × 10</text>
<text transform="translate(406.6,132.6) scale(0.94,1)" font-size="3.9" fill="#231f20">−6</text>
<text transform="translate(462.3,135.2) scale(0.94,1)" font-size="6.2" fill="#231f20" text-anchor="middle">0.03</text>
<rect x="281" y="137.8" width="136" height="1" fill="#5a5a5a"/>
<rect x="422" y="137.8" width="81" height="1" fill="#5a5a5a"/>
<text transform="translate(282.8,145.3) scale(0.914,1)" font-size="6.4" fill="#231f20">OXIDATIVE_PHOSPHORYLATION</text>
<text transform="translate(381,145.3) scale(0.94,1)" font-size="6.2" fill="#231f20">8.41 × 10</text>
<text transform="translate(406.6,142.7) scale(0.94,1)" font-size="3.9" fill="#231f20">−21</text>
<text transform="translate(462.3,145.3) scale(0.94,1)" font-size="6.2" fill="#231f20" text-anchor="middle">0</text>
<rect x="281" y="147.7" width="136" height="1" fill="#5a5a5a"/>
<rect x="422" y="147.7" width="81" height="1" fill="#5a5a5a"/>
<text x="0.6" y="215.8" font-size="10.8" fill="#000" font-weight="bold" stroke="#000" stroke-width="0.216">B</text>
<rect x="17.2" y="217.1" width="4.2" height="2.7" fill="#3a4a8e"/>
<text x="23" y="220.1" font-size="4.74" fill="#3a4a8e" stroke="#3a4a8e" stroke-width="0.095">Responding</text>
<rect x="17.2" y="222.5" width="4.2" height="2.7" fill="#c4302c"/>
<text x="23" y="225.5" font-size="4.74" fill="#c4302c" stroke="#c4302c" stroke-width="0.095">Progressing</text>
<text x="64.6" y="230.4" font-size="4.9" fill="#333" text-anchor="middle" stroke="#333" stroke-width="0.098">Lipogenesis</text>
<line x1="53.4" y1="236.7" x2="53.4" y2="272" stroke="#555" stroke-width="0.5"/>
<line x1="52.4" y1="237" x2="53.4" y2="237" stroke="#555" stroke-width="0.5"/>
<text x="50.8" y="239.3" font-size="4.8" fill="#444" text-anchor="end" stroke="#444" stroke-width="0.096">1.0</text>
<line x1="52.4" y1="254.5" x2="53.4" y2="254.5" stroke="#555" stroke-width="0.5"/>
<text x="50.8" y="256.8" font-size="4.8" fill="#444" text-anchor="end" stroke="#444" stroke-width="0.096">0.5</text>
<line x1="52.4" y1="272" x2="53.4" y2="272" stroke="#555" stroke-width="0.5"/>
<text x="50.8" y="274.3" font-size="4.8" fill="#444" text-anchor="end" stroke="#444" stroke-width="0.096">0</text>
<text transform="translate(39.6,255) rotate(-90)" font-size="4.8" fill="#444" text-anchor="middle">Fraction of patients</text>
<rect x="57" y="237" width="6.1" height="35" fill="#3a50a2"/>
<rect x="57" y="272" width="6.1" height="0" fill="#e8312a"/>
<rect x="66.7" y="237" width="6.1" height="6.3" fill="#3a50a2"/>
<rect x="66.7" y="243.3" width="6.1" height="28.7" fill="#e8312a"/>
<line x1="53.1" y1="272" x2="74.8" y2="272" stroke="#777" stroke-width="0.5"/>
<rect x="57" y="235" width="15.8" height="0.9" fill="#4a5890"/>
<text x="64.9" y="235.4" font-size="3.8" fill="#333" text-anchor="middle" stroke="#333" stroke-width="0.076">**</text>
<text transform="translate(54.6,282.6) rotate(-45)" font-size="4.3" fill="#222" stroke="#222" stroke-width="0.12">&lt; 60%</text>
<text transform="translate(64.3,282.6) rotate(-45)" font-size="4.3" fill="#222" stroke="#222" stroke-width="0.12">≥ 60%</text>
<line x1="50.9" y1="285.5" x2="78.8" y2="285.5" stroke="#888" stroke-width="0.8"/>
<text x="60" y="291.8" font-size="4.9" fill="#333" text-anchor="middle" stroke="#333" stroke-width="0.098">10</text>
<text x="69.7" y="291.8" font-size="4.9" fill="#333" text-anchor="middle" stroke="#333" stroke-width="0.098">6</text>
<text x="60" y="297.8" font-size="4.9" fill="#333" text-anchor="middle" stroke="#333" stroke-width="0.098">43</text>
<text x="69.7" y="297.8" font-size="4.9" fill="#333" text-anchor="middle" stroke="#333" stroke-width="0.098">27</text>
<text x="124" y="230" font-size="4.9" fill="#333" text-anchor="middle" stroke="#333" stroke-width="0.098">Proliferation</text>
<line x1="112.5" y1="236.7" x2="112.5" y2="272" stroke="#555" stroke-width="0.5"/>
<line x1="111.5" y1="237" x2="112.5" y2="237" stroke="#555" stroke-width="0.5"/>
<text x="109.9" y="239.3" font-size="4.8" fill="#444" text-anchor="end" stroke="#444" stroke-width="0.096">1.0</text>
<line x1="111.5" y1="254.5" x2="112.5" y2="254.5" stroke="#555" stroke-width="0.5"/>
<text x="109.9" y="256.8" font-size="4.8" fill="#444" text-anchor="end" stroke="#444" stroke-width="0.096">0.5</text>
<line x1="111.5" y1="272" x2="112.5" y2="272" stroke="#555" stroke-width="0.5"/>
<text x="109.9" y="274.3" font-size="4.8" fill="#444" text-anchor="end" stroke="#444" stroke-width="0.096">0</text>
<text transform="translate(98.7,255) rotate(-90)" font-size="4.8" fill="#444" text-anchor="middle">Fraction of patients</text>
<rect x="116.1" y="237" width="6.1" height="31.15" fill="#3a50a2"/>
<rect x="116.1" y="268.15" width="6.1" height="3.85" fill="#e8312a"/>
<rect x="125.8" y="237" width="6.1" height="6.65" fill="#3a50a2"/>
<rect x="125.8" y="243.65" width="6.1" height="28.35" fill="#e8312a"/>
<line x1="112.2" y1="272" x2="133.9" y2="272" stroke="#777" stroke-width="0.5"/>
<rect x="116.1" y="235" width="15.8" height="0.9" fill="#4a5890"/>
<text x="124" y="235.4" font-size="3.8" fill="#333" text-anchor="middle" stroke="#333" stroke-width="0.076">*</text>
<text transform="translate(113.7,282.6) rotate(-45)" font-size="4.3" fill="#222" stroke="#222" stroke-width="0.12">&lt; 60%</text>
<text transform="translate(123.4,282.6) rotate(-45)" font-size="4.3" fill="#222" stroke="#222" stroke-width="0.12">≥ 60%</text>
<line x1="110" y1="285.5" x2="137.9" y2="285.5" stroke="#888" stroke-width="0.8"/>
<text x="119.1" y="291.8" font-size="4.9" fill="#333" text-anchor="middle" stroke="#333" stroke-width="0.098">11</text>
<text x="128.8" y="291.8" font-size="4.9" fill="#333" text-anchor="middle" stroke="#333" stroke-width="0.098">5</text>
<text x="119.1" y="297.8" font-size="4.9" fill="#333" text-anchor="middle" stroke="#333" stroke-width="0.098">48</text>
<text x="128.8" y="297.8" font-size="4.9" fill="#333" text-anchor="middle" stroke="#333" stroke-width="0.098">22</text>
<text x="64.5" y="309.6" font-size="4.9" fill="#333" text-anchor="middle" stroke="#333" stroke-width="0.098">Iron_Homeostasis</text>
<line x1="52.6" y1="316.7" x2="52.6" y2="352" stroke="#555" stroke-width="0.5"/>
<line x1="51.6" y1="317" x2="52.6" y2="317" stroke="#555" stroke-width="0.5"/>
<text x="50" y="319.3" font-size="4.8" fill="#444" text-anchor="end" stroke="#444" stroke-width="0.096">1.0</text>
<line x1="51.6" y1="334.5" x2="52.6" y2="334.5" stroke="#555" stroke-width="0.5"/>
<text x="50" y="336.8" font-size="4.8" fill="#444" text-anchor="end" stroke="#444" stroke-width="0.096">0.5</text>
<line x1="51.6" y1="352" x2="52.6" y2="352" stroke="#555" stroke-width="0.5"/>
<text x="50" y="354.3" font-size="4.8" fill="#444" text-anchor="end" stroke="#444" stroke-width="0.096">0</text>
<text transform="translate(38.8,335) rotate(-90)" font-size="4.8" fill="#444" text-anchor="middle">Fraction of patients</text>
<rect x="56.2" y="317" width="6.1" height="31.5" fill="#3a50a2"/>
<rect x="56.2" y="348.5" width="6.1" height="3.5" fill="#e8312a"/>
<rect x="65.9" y="317" width="6.1" height="11.9" fill="#3a50a2"/>
<rect x="65.9" y="328.9" width="6.1" height="23.1" fill="#e8312a"/>
<line x1="52.3" y1="352" x2="74" y2="352" stroke="#777" stroke-width="0.5"/>
<rect x="56.2" y="315" width="15.8" height="0.9" fill="#4a5890"/>
<text x="64.1" y="315.4" font-size="3.8" fill="#333" text-anchor="middle" stroke="#333" stroke-width="0.076">*</text>
<text transform="translate(53.8,362.6) rotate(-45)" font-size="4.3" fill="#222" stroke="#222" stroke-width="0.12">&lt; 60%</text>
<text transform="translate(63.5,362.6) rotate(-45)" font-size="4.3" fill="#222" stroke="#222" stroke-width="0.12">≥ 60%</text>
<line x1="50.1" y1="365.5" x2="78" y2="365.5" stroke="#888" stroke-width="0.8"/>
<text x="59.2" y="371.8" font-size="4.9" fill="#333" text-anchor="middle" stroke="#333" stroke-width="0.098">10</text>
<text x="68.9" y="371.8" font-size="4.9" fill="#333" text-anchor="middle" stroke="#333" stroke-width="0.098">6</text>
<text x="59.2" y="377.8" font-size="4.9" fill="#333" text-anchor="middle" stroke="#333" stroke-width="0.098">43</text>
<text x="68.9" y="377.8" font-size="4.9" fill="#333" text-anchor="middle" stroke="#333" stroke-width="0.098">27</text>
<text x="123.3" y="309.6" font-size="4.9" fill="#333" text-anchor="middle" stroke="#333" stroke-width="0.098">Oxi_Phos</text>
<line x1="113.6" y1="316.7" x2="113.6" y2="352" stroke="#555" stroke-width="0.5"/>
<line x1="112.6" y1="317" x2="113.6" y2="317" stroke="#555" stroke-width="0.5"/>
<text x="111" y="319.3" font-size="4.8" fill="#444" text-anchor="end" stroke="#444" stroke-width="0.096">1.0</text>
<line x1="112.6" y1="334.5" x2="113.6" y2="334.5" stroke="#555" stroke-width="0.5"/>
<text x="111" y="336.8" font-size="4.8" fill="#444" text-anchor="end" stroke="#444" stroke-width="0.096">0.5</text>
<line x1="112.6" y1="352" x2="113.6" y2="352" stroke="#555" stroke-width="0.5"/>
<text x="111" y="354.3" font-size="4.8" fill="#444" text-anchor="end" stroke="#444" stroke-width="0.096">0</text>
<text transform="translate(99.8,335) rotate(-90)" font-size="4.8" fill="#444" text-anchor="middle">Fraction of patients</text>
<rect x="117.2" y="317" width="6.1" height="28.7" fill="#3a50a2"/>
<rect x="117.2" y="345.7" width="6.1" height="6.3" fill="#e8312a"/>
<rect x="126.9" y="317" width="6.1" height="9.1" fill="#3a50a2"/>
<rect x="126.9" y="326.1" width="6.1" height="25.9" fill="#e8312a"/>
<line x1="113.3" y1="352" x2="135" y2="352" stroke="#777" stroke-width="0.5"/>
<rect x="117.2" y="315" width="15.8" height="0.9" fill="#4a5890"/>
<text x="125.1" y="315.4" font-size="3.8" fill="#333" text-anchor="middle" stroke="#333" stroke-width="0.076">n.s.</text>
<text transform="translate(114.8,362.6) rotate(-45)" font-size="4.3" fill="#222" stroke="#222" stroke-width="0.12">&lt; 60%</text>
<text transform="translate(124.5,362.6) rotate(-45)" font-size="4.3" fill="#222" stroke="#222" stroke-width="0.12">≥ 60%</text>
<line x1="111.1" y1="365.5" x2="139" y2="365.5" stroke="#888" stroke-width="0.8"/>
<text x="120.2" y="371.8" font-size="4.9" fill="#333" text-anchor="middle" stroke="#333" stroke-width="0.098">12</text>
<text x="129.9" y="371.8" font-size="4.9" fill="#333" text-anchor="middle" stroke="#333" stroke-width="0.098">4</text>
<text x="120.2" y="377.8" font-size="4.9" fill="#333" text-anchor="middle" stroke="#333" stroke-width="0.098">57</text>
<text x="129.9" y="377.8" font-size="4.9" fill="#333" text-anchor="middle" stroke="#333" stroke-width="0.098">13</text>
<text x="46.3" y="282.2" font-size="5.28" fill="#333" text-anchor="end" stroke="#333" stroke-width="0.106">Pos. CTCs:</text>
<text x="47" y="292.2" font-size="4.75" fill="#333" text-anchor="end" stroke="#333" stroke-width="0.095">Patient #:</text>
<text x="47" y="298.2" font-size="4.75" fill="#333" text-anchor="end" stroke="#333" stroke-width="0.095">CTC #:</text>
<text x="46.3" y="362.2" font-size="5.28" fill="#333" text-anchor="end" stroke="#333" stroke-width="0.106">Pos. CTCs:</text>
<text x="47" y="372.2" font-size="4.75" fill="#333" text-anchor="end" stroke="#333" stroke-width="0.095">Patient #:</text>
<text x="47" y="378.2" font-size="4.75" fill="#333" text-anchor="end" stroke="#333" stroke-width="0.095">CTC #:</text>
<text x="106.5" y="292.2" font-size="4.75" fill="#333" text-anchor="end" stroke="#333" stroke-width="0.095">Patient #:</text>
<text x="106.5" y="298.2" font-size="4.75" fill="#333" text-anchor="end" stroke="#333" stroke-width="0.095">CTC #:</text>
<text x="106.5" y="372.2" font-size="4.75" fill="#333" text-anchor="end" stroke="#333" stroke-width="0.095">Patient #:</text>
<text x="106.5" y="378.2" font-size="4.75" fill="#333" text-anchor="end" stroke="#333" stroke-width="0.095">CTC #:</text>
<text x="164.6" y="214.9" font-size="10.8" fill="#000" font-weight="bold" stroke="#000" stroke-width="0.216">C</text>
<text x="175" y="230.3" font-size="4.86" fill="#333" stroke="#333" stroke-width="0.097">Metastases with high purity (&gt;80%)</text>
<line x1="190.5" y1="236.1" x2="190.5" y2="282.1" stroke="#666" stroke-width="0.5"/>
<line x1="189.3" y1="237.1" x2="190.5" y2="237.1" stroke="#666" stroke-width="0.5"/>
<text x="188.7" y="239.1" font-size="5.0" fill="#444" text-anchor="end" stroke="#444" stroke-width="0.1">1.00</text>
<line x1="189.3" y1="248.15" x2="190.5" y2="248.15" stroke="#666" stroke-width="0.5"/>
<text x="188.7" y="250.15" font-size="5.0" fill="#444" text-anchor="end" stroke="#444" stroke-width="0.1">0.75</text>
<line x1="189.3" y1="259.2" x2="190.5" y2="259.2" stroke="#666" stroke-width="0.5"/>
<text x="188.7" y="261.2" font-size="5.0" fill="#444" text-anchor="end" stroke="#444" stroke-width="0.1">0.50</text>
<line x1="189.3" y1="270.25" x2="190.5" y2="270.25" stroke="#666" stroke-width="0.5"/>
<text x="188.7" y="272.25" font-size="5.0" fill="#444" text-anchor="end" stroke="#444" stroke-width="0.1">0.25</text>
<line x1="189.3" y1="281.3" x2="190.5" y2="281.3" stroke="#666" stroke-width="0.5"/>
<text x="188.7" y="283.3" font-size="5.0" fill="#444" text-anchor="end" stroke="#444" stroke-width="0.1">0.00</text>
<line x1="190.5" y1="283.5" x2="251.9" y2="283.5" stroke="#666" stroke-width="0.5"/>
<line x1="192.5" y1="283.5" x2="192.5" y2="284.6" stroke="#666" stroke-width="0.5"/>
<text x="192.5" y="290.8" font-size="5.0" fill="#444" text-anchor="middle" stroke="#444" stroke-width="0.1">0</text>
<line x1="206.5" y1="283.5" x2="206.5" y2="284.6" stroke="#666" stroke-width="0.5"/>
<text x="206.5" y="290.8" font-size="5.0" fill="#444" text-anchor="middle" stroke="#444" stroke-width="0.1">2,000</text>
<line x1="221" y1="283.5" x2="221" y2="284.6" stroke="#666" stroke-width="0.5"/>
<text x="221" y="290.8" font-size="5.0" fill="#444" text-anchor="middle" stroke="#444" stroke-width="0.1">4,000</text>
<line x1="235" y1="283.5" x2="235" y2="284.6" stroke="#666" stroke-width="0.5"/>
<text x="235" y="290.8" font-size="5.0" fill="#444" text-anchor="middle" stroke="#444" stroke-width="0.1">6,000</text>
<line x1="250.4" y1="283.5" x2="250.4" y2="284.6" stroke="#666" stroke-width="0.5"/>
<text x="250.4" y="290.8" font-size="5.0" fill="#444" text-anchor="middle" stroke="#444" stroke-width="0.1">8,000</text>
<text transform="translate(172.7,259.7) rotate(-90)" font-size="4.8" fill="#444" text-anchor="middle">Survival probability</text>
<text x="219.3" y="298.8" font-size="5.0" fill="#444" text-anchor="middle" stroke="#444" stroke-width="0.1">Time (days)</text>
<text x="192.1" y="280.4" font-size="5.26" fill="#333" stroke="#333" stroke-width="0.105"><tspan font-style="italic">P</tspan> = 0.0057</text>
<polyline fill="none" stroke="#f5b888" stroke-width="0.8" points="193.9,236.8 195.4,236.8 195.4,239.3 196.6,239.3 196.6,242 197.9,242 197.9,245.6 200.5,245.6 200.5,246.8 201.9,246.8 201.9,247.8 203,247.8 203,250.6 204.3,250.6 204.3,252.6 206.2,252.6 206.2,255.6 208,255.6 208,257.5 210.2,257.5 210.2,260.3 211.4,260.3 211.4,262.6 212.7,262.6 212.7,264.7 214.4,264.7 214.4,269.2 216.5,269.2 216.5,269.6 219,269.6 219,270 221.3,270 221.3,273.3 223.1,273.3 223.1,275.7 226.5,275.7 226.5,278.6 228.8,278.6 228.8,281.2"/>
<polyline fill="none" stroke="#434d7c" stroke-width="0.8" points="193.9,236.8 195.9,236.8 195.9,239.5 197.1,239.5 197.1,242.3 197.9,242.3 197.9,245.9 199.9,245.9 199.9,246.3 207,246.3 207,246.3 208.2,246.3 208.2,248.2 214.9,248.2 214.9,248.2 215.3,248.2 215.3,249.8 216.9,249.8 216.9,251.4 218.5,251.4 218.5,253.4 220.1,253.4 220.1,255 220.5,255 220.5,257.3 228.3,257.3 228.3,257.3 228.8,257.3 228.8,262.4 240.4,262.4 240.4,262.4 241,262.4 241,267 241.5,267 241.5,273.9 250.8,273.9 250.8,273.9 250.8,273.9 250.8,281.8"/>
<line x1="209.8" y1="235.8" x2="215.1" y2="235.8" stroke="#f5b888" stroke-width="1.0"/>
<line x1="209.8" y1="239.6" x2="215.1" y2="239.6" stroke="#434d7c" stroke-width="1.0"/>
<text x="216.5" y="237.4" font-size="4.56" fill="#333" stroke="#333" stroke-width="0.091"><tspan font-style="italic">SREBF2</tspan> High</text>
<text x="216.5" y="241.2" font-size="4.56" fill="#333" stroke="#333" stroke-width="0.091"><tspan font-style="italic">SREBF2</tspan> Low</text>
<text x="173.8" y="311" font-size="4.86" fill="#333" stroke="#333" stroke-width="0.097">Primary tumor with high purity (&gt;80%)</text>
<line x1="191" y1="317.2" x2="191" y2="365" stroke="#666" stroke-width="0.5"/>
<line x1="189.8" y1="318.2" x2="191" y2="318.2" stroke="#666" stroke-width="0.5"/>
<text x="189.2" y="320.2" font-size="5.0" fill="#444" text-anchor="end" stroke="#444" stroke-width="0.1">1.00</text>
<line x1="189.8" y1="329.7" x2="191" y2="329.7" stroke="#666" stroke-width="0.5"/>
<text x="189.2" y="331.7" font-size="5.0" fill="#444" text-anchor="end" stroke="#444" stroke-width="0.1">0.75</text>
<line x1="189.8" y1="341.2" x2="191" y2="341.2" stroke="#666" stroke-width="0.5"/>
<text x="189.2" y="343.2" font-size="5.0" fill="#444" text-anchor="end" stroke="#444" stroke-width="0.1">0.50</text>
<line x1="189.8" y1="352.7" x2="191" y2="352.7" stroke="#666" stroke-width="0.5"/>
<text x="189.2" y="354.7" font-size="5.0" fill="#444" text-anchor="end" stroke="#444" stroke-width="0.1">0.25</text>
<line x1="189.8" y1="364.2" x2="191" y2="364.2" stroke="#666" stroke-width="0.5"/>
<text x="189.2" y="366.2" font-size="5.0" fill="#444" text-anchor="end" stroke="#444" stroke-width="0.1">0.00</text>
<line x1="191" y1="366.4" x2="254" y2="366.4" stroke="#666" stroke-width="0.5"/>
<line x1="193.1" y1="366.4" x2="193.1" y2="367.5" stroke="#666" stroke-width="0.5"/>
<text x="193.1" y="372" font-size="5.0" fill="#444" text-anchor="middle" stroke="#444" stroke-width="0.1">0</text>
<line x1="207.7" y1="366.4" x2="207.7" y2="367.5" stroke="#666" stroke-width="0.5"/>
<text x="207.7" y="372" font-size="5.0" fill="#444" text-anchor="middle" stroke="#444" stroke-width="0.1">250</text>
<line x1="223.3" y1="366.4" x2="223.3" y2="367.5" stroke="#666" stroke-width="0.5"/>
<text x="223.3" y="372" font-size="5.0" fill="#444" text-anchor="middle" stroke="#444" stroke-width="0.1">500</text>
<line x1="237.9" y1="366.4" x2="237.9" y2="367.5" stroke="#666" stroke-width="0.5"/>
<text x="237.9" y="372" font-size="5.0" fill="#444" text-anchor="middle" stroke="#444" stroke-width="0.1">750</text>
<line x1="252.5" y1="366.4" x2="252.5" y2="367.5" stroke="#666" stroke-width="0.5"/>
<text x="252.5" y="372" font-size="5.0" fill="#444" text-anchor="middle" stroke="#444" stroke-width="0.1">1,000</text>
<text transform="translate(173.2,341.7) rotate(-90)" font-size="4.8" fill="#444" text-anchor="middle">Survival probability</text>
<text x="221.3" y="376.9" font-size="5.0" fill="#444" text-anchor="middle" stroke="#444" stroke-width="0.1">Time (days)</text>
<text x="192.6" y="362" font-size="5.26" fill="#333" stroke="#333" stroke-width="0.105"><tspan font-style="italic">P</tspan> = 0.21</text>
<polyline fill="none" stroke="#f5b888" stroke-width="0.9" points="191.8,318 239.6,318"/>
<line x1="219" y1="317" x2="219" y2="319" stroke="#f5b888" stroke-width="0.5"/>
<line x1="226" y1="317" x2="226" y2="319" stroke="#f5b888" stroke-width="0.5"/>
<line x1="232" y1="317" x2="232" y2="319" stroke="#f5b888" stroke-width="0.5"/>
<line x1="238" y1="317" x2="238" y2="319" stroke="#f5b888" stroke-width="0.5"/>
<polyline fill="none" stroke="#434d7c" stroke-width="0.9" points="191.8,318 211.9,318 211.8,322.4 216.2,322.4 216.2,327.5 249.2,327.5"/>
<line x1="222.5" y1="326.5" x2="222.5" y2="328.5" stroke="#434d7c" stroke-width="0.5"/>
<line x1="229" y1="326.5" x2="229" y2="328.5" stroke="#434d7c" stroke-width="0.5"/>
<line x1="236" y1="326.5" x2="236" y2="328.5" stroke="#434d7c" stroke-width="0.5"/>
<line x1="242.5" y1="326.5" x2="242.5" y2="328.5" stroke="#434d7c" stroke-width="0.5"/>
<line x1="223.7" y1="340" x2="226.7" y2="340" stroke="#f5b888" stroke-width="1.0"/>
<line x1="223.7" y1="343.6" x2="226.7" y2="343.6" stroke="#434d7c" stroke-width="1.0"/>
<text x="228.9" y="341.6" font-size="4.65" fill="#333" stroke="#333" stroke-width="0.093"><tspan font-style="italic">SREBF2</tspan> High</text>
<text x="228.9" y="345.5" font-size="4.65" fill="#333" stroke="#333" stroke-width="0.093"><tspan font-style="italic">SREBF2</tspan> Low</text>
<text x="287.2" y="215.4" font-size="10.8" fill="#000" font-weight="bold" stroke="#000" stroke-width="0.216">D</text>
<text x="335.8" y="239.2" font-size="8.72" fill="#231f20" stroke="#231f20" stroke-width="0.174">Circulating melanoma cells</text>
<ellipse cx="393.2" cy="297.6" rx="97.8" ry="50.4" fill="#e3e3e3" stroke="#333" stroke-width="1.3"/>
<text x="368.3" y="260.4" font-size="6.4" fill="#6a78b4" stroke="#6a78b4" stroke-width="0.128">Controlled</text>
<text x="359.2" y="267.9" font-size="6.4" fill="#6a78b4" stroke="#6a78b4" stroke-width="0.128">iron homeostasis</text>
<text x="324.6" y="276" font-size="6.4" fill="#e5524c" font-style="italic" stroke="#e5524c" stroke-width="0.128">TF</text>
<text x="318.3" y="302" font-size="6.6" fill="#e5524c" font-style="italic" stroke="#e5524c" stroke-width="0.132">SREBP</text>
<text x="373" y="286.6" font-size="6.4" fill="#231f20" stroke="#231f20" stroke-width="0.128">GPX4</text>
<text x="365" y="309.6" font-size="6.4" fill="#6a78b4" stroke="#6a78b4" stroke-width="0.128">Lipogenesis</text>
<text x="334.2" y="332.3" font-size="6.46" fill="#e5524c" stroke="#e5524c" stroke-width="0.129">CTC survival and therapeutic resistance</text>
<text x="423" y="271.2" font-size="6.4" fill="#231f20" stroke="#231f20" stroke-width="0.128">ROS stress</text>
<text x="419.8" y="287" font-size="6.4" fill="#231f20" stroke="#231f20" stroke-width="0.128">Lipid peroxidation</text>
<text x="426.5" y="305.8" font-size="6.4" fill="#6a78b4" stroke="#6a78b4" stroke-width="0.128">Ferroptosis</text>
<defs><marker id="ah" markerWidth="3" markerHeight="3" refX="2.4" refY="1.5" orient="auto" markerUnits="userSpaceOnUse"><path d="M0,0.2 L3,1.5 L0,2.8 z" fill="#231f20"/></marker></defs>
<line x1="339.4" y1="276" x2="355.3" y2="263.9" stroke="#231f20" stroke-width="0.9" marker-end="url(#ah)"/>
<line x1="340.4" y1="284.2" x2="361" y2="284.2" stroke="#231f20" stroke-width="0.9" marker-end="url(#ah)"/>
<line x1="339.4" y1="292" x2="355.3" y2="304.6" stroke="#231f20" stroke-width="0.9" marker-end="url(#ah)"/>
<path d="M325.6,292.7 V282.5" stroke="#231f20" stroke-width="1.5"/><path d="M323.2,283.5 L325.6,280.3 L328.0,283.5 z" fill="#231f20"/>
<path d="M331.7,280.8 V290.5" stroke="#231f20" stroke-width="1.0" stroke-dasharray="1.6,0.8"/><path d="M329.6,289.6 L331.7,292.8 L333.8,289.6 z" fill="#231f20"/>
<path d="M382.3,314 V319.5" stroke="#231f20" stroke-width="1.9"/><path d="M380.1,318.9 L382.3,321.7 L384.5,318.9 z" fill="#231f20"/>
<path d="M440,274.6 V277.6" stroke="#231f20" stroke-width="1.9"/><path d="M437.8,277 L440,279.8 L442.2,277 z" fill="#231f20"/>
<path d="M440,290.4 V294" stroke="#231f20" stroke-width="1.9"/><path d="M437.8,293.4 L440,296.2 L442.2,293.4 z" fill="#231f20"/>
<line x1="405.4" y1="260.6" x2="417" y2="268" stroke="#231f20" stroke-width="0.9"/>
<line x1="415" y1="270.8" x2="419.2" y2="266.3" stroke="#231f20" stroke-width="0.9"/>
<line x1="400" y1="285.6" x2="414.6" y2="285.6" stroke="#231f20" stroke-width="0.9"/>
<line x1="414.6" y1="282.4" x2="414.6" y2="289.2" stroke="#231f20" stroke-width="0.9"/>
<line x1="403.8" y1="309.2" x2="416" y2="303.5" stroke="#231f20" stroke-width="0.9"/>
<line x1="414.3" y1="299.4" x2="418.6" y2="306.8" stroke="#231f20" stroke-width="0.9"/>
<line x1="439.6" y1="312" x2="439.6" y2="319.8" stroke="#231f20" stroke-width="1.1"/>
<line x1="436" y1="319.8" x2="443.5" y2="319.8" stroke="#231f20" stroke-width="1.1"/>
</svg>
</body></html>
